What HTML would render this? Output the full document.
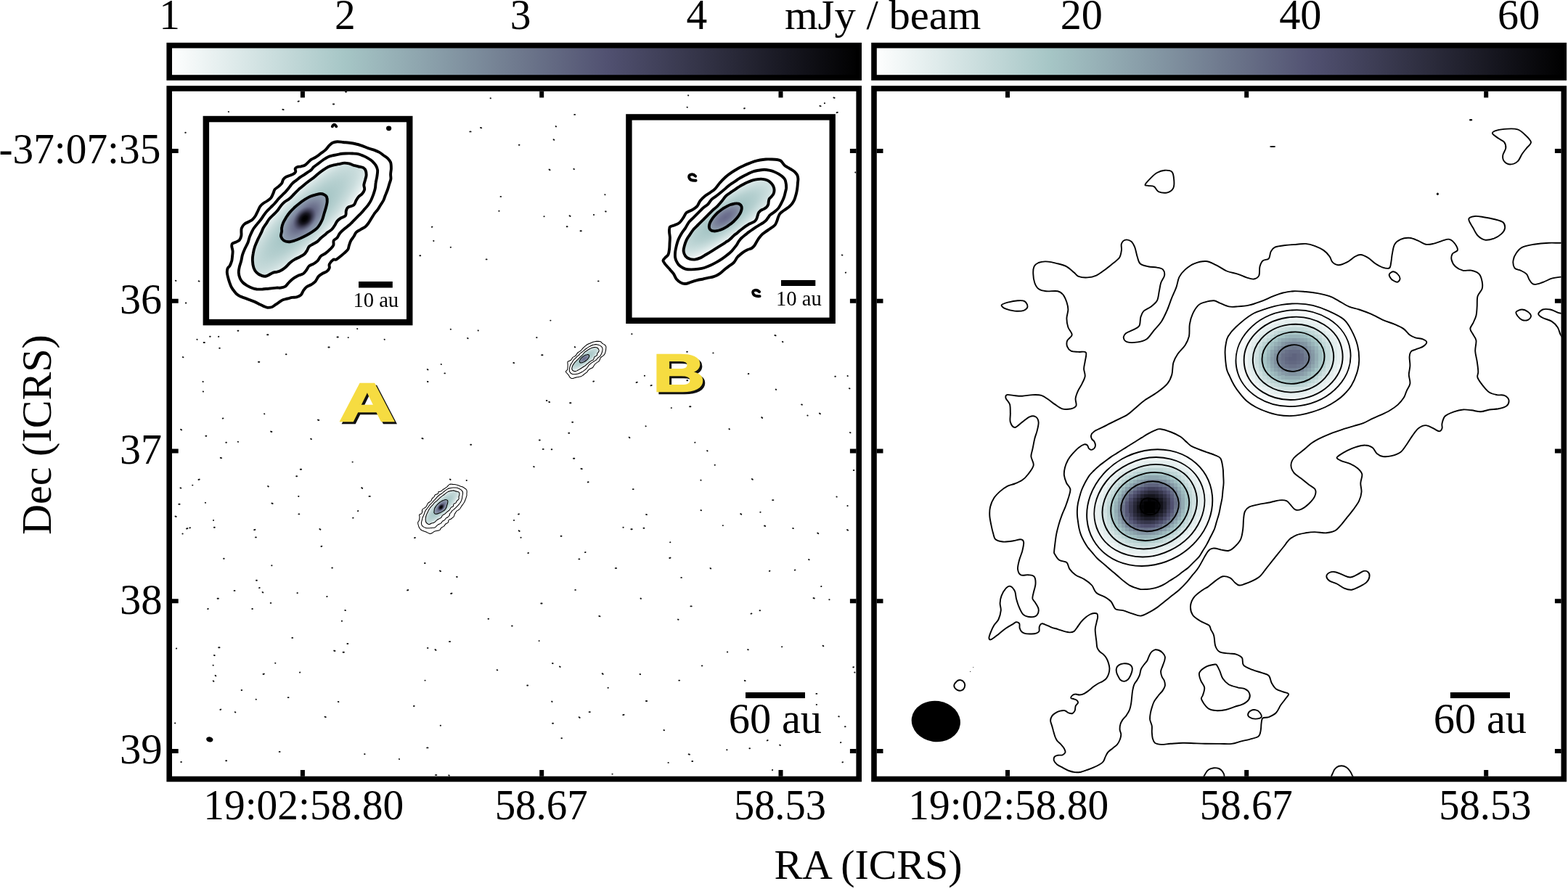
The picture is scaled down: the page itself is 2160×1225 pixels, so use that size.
<!DOCTYPE html>
<html lang="en">
<head>
<meta charset="utf-8">
<title>Figure</title>
<style>
html,body{margin:0;padding:0;background:#fff;overflow:hidden;}
body{width:2160px;height:1225px;}
svg{display:block;}
text{font-family:"Liberation Serif","DejaVu Serif",serif;fill:#000;}
.lab{font-family:"Liberation Sans","DejaVu Sans",sans-serif;font-weight:bold;}
.c{fill:none;stroke:#000;stroke-width:1.9;stroke-linejoin:round;}
.ci{fill:none;stroke:#000;stroke-width:3.1;stroke-linejoin:round;}
.cs{fill:none;stroke:#111;stroke-width:0.95;stroke-linejoin:round;}
</style>
</head>
<body>
<svg width="2160" height="1225" viewBox="0 0 2160 1225">
<defs>
<linearGradient id="bone" x1="0" y1="0" x2="1" y2="0"><stop offset="0.000" stop-color="#ffffff"/><stop offset="0.100" stop-color="#dce9e9"/><stop offset="0.254" stop-color="#a6c6c6"/><stop offset="0.400" stop-color="#869aa6"/><stop offset="0.500" stop-color="#707b8f"/><stop offset="0.635" stop-color="#515171"/><stop offset="0.800" stop-color="#2d2d3e"/><stop offset="0.900" stop-color="#16161f"/><stop offset="1.000" stop-color="#000000"/></linearGradient>
<radialGradient id="gA" gradientUnits="userSpaceOnUse" cx="0" cy="0" r="1" gradientTransform="translate(1583.90,698.00) rotate(-24.0) scale(100.00,84.00)"><stop offset="0.000" stop-color="#000000"/><stop offset="0.036" stop-color="#000000"/><stop offset="0.071" stop-color="#000000"/><stop offset="0.107" stop-color="#040406"/><stop offset="0.143" stop-color="#0d0d12"/><stop offset="0.179" stop-color="#181822"/><stop offset="0.214" stop-color="#262634"/><stop offset="0.250" stop-color="#343449"/><stop offset="0.286" stop-color="#44445e"/><stop offset="0.321" stop-color="#535473"/><stop offset="0.357" stop-color="#636a83"/><stop offset="0.393" stop-color="#737f93"/><stop offset="0.429" stop-color="#8294a2"/><stop offset="0.464" stop-color="#90a8b0"/><stop offset="0.500" stop-color="#9dbabd"/><stop offset="0.536" stop-color="#abc9c9"/><stop offset="0.571" stop-color="#bbd3d3"/><stop offset="0.607" stop-color="#c8dcdc"/><stop offset="0.643" stop-color="#d4e4e4"/><stop offset="0.679" stop-color="#deeaea"/><stop offset="0.714" stop-color="#e5efef"/><stop offset="0.750" stop-color="#ecf3f3"/><stop offset="0.786" stop-color="#f1f6f6"/><stop offset="0.821" stop-color="#f5f9f9"/><stop offset="0.857" stop-color="#f9fbfb"/><stop offset="0.893" stop-color="#fbfdfd"/><stop offset="0.929" stop-color="#fdfefe"/><stop offset="0.964" stop-color="#ffffff"/><stop offset="1.000" stop-color="#ffffff"/></radialGradient>
<radialGradient id="gB" gradientUnits="userSpaceOnUse" cx="0" cy="0" r="1" gradientTransform="translate(1781.40,493.31) rotate(-8.0) scale(100.00,83.00)"><stop offset="0.000" stop-color="#5e637e"/><stop offset="0.036" stop-color="#5f647f"/><stop offset="0.071" stop-color="#616781"/><stop offset="0.107" stop-color="#646b84"/><stop offset="0.143" stop-color="#697289"/><stop offset="0.179" stop-color="#6f7a8f"/><stop offset="0.214" stop-color="#768396"/><stop offset="0.250" stop-color="#7e8f9e"/><stop offset="0.286" stop-color="#889ca8"/><stop offset="0.321" stop-color="#91a9b1"/><stop offset="0.357" stop-color="#9bb6bb"/><stop offset="0.393" stop-color="#a4c3c4"/><stop offset="0.429" stop-color="#b0cdcd"/><stop offset="0.464" stop-color="#bed5d5"/><stop offset="0.500" stop-color="#cadddd"/><stop offset="0.536" stop-color="#d5e4e4"/><stop offset="0.571" stop-color="#deeaea"/><stop offset="0.607" stop-color="#e5efef"/><stop offset="0.643" stop-color="#ebf2f2"/><stop offset="0.679" stop-color="#f0f6f6"/><stop offset="0.714" stop-color="#f5f8f8"/><stop offset="0.750" stop-color="#f8fbfb"/><stop offset="0.786" stop-color="#fbfcfc"/><stop offset="0.821" stop-color="#fdfefe"/><stop offset="0.857" stop-color="#ffffff"/><stop offset="0.893" stop-color="#ffffff"/><stop offset="0.929" stop-color="#ffffff"/><stop offset="0.964" stop-color="#ffffff"/><stop offset="1.000" stop-color="#ffffff"/></radialGradient>
<radialGradient id="giA" gradientUnits="userSpaceOnUse" cx="0" cy="0" r="1" gradientTransform="translate(419.69,301.33) rotate(-45.0) scale(128.80,34.50)"><stop offset="0.000" stop-color="#a3c1c3"/><stop offset="0.350" stop-color="#a8c7c7"/><stop offset="0.550" stop-color="#b6d0d0"/><stop offset="0.750" stop-color="#c9dcdc"/><stop offset="0.900" stop-color="#dce9e9"/><stop offset="1.000" stop-color="#eaf2f2"/><stop offset="1.150" stop-color="#f5f8f8"/></radialGradient>
<radialGradient id="giB" gradientUnits="userSpaceOnUse" cx="0" cy="0" r="1" gradientTransform="translate(999.27,299.27) rotate(-36.0) scale(94.30,27.60)"><stop offset="0.000" stop-color="#a3c1c3"/><stop offset="0.350" stop-color="#a8c7c7"/><stop offset="0.550" stop-color="#b6d0d0"/><stop offset="0.750" stop-color="#cbdede"/><stop offset="0.900" stop-color="#deeaea"/><stop offset="1.000" stop-color="#ecf3f3"/><stop offset="1.150" stop-color="#f5f8f8"/></radialGradient>
<radialGradient id="gcA" gradientUnits="userSpaceOnUse" cx="0" cy="0" r="1" gradientTransform="translate(419.69,301.33) rotate(-48.0) scale(44.10,20.58)"><stop offset="0.000" stop-color="#3c3a52"/><stop offset="0.250" stop-color="#525270"/><stop offset="0.450" stop-color="#686c88"/><stop offset="0.650" stop-color="#7c849c"/><stop offset="0.850" stop-color="#8c9aac"/><stop offset="1.000" stop-color="#98aab6"/></radialGradient>
<radialGradient id="gsA" gradientUnits="userSpaceOnUse" cx="0" cy="0" r="1" gradientTransform="translate(419.69,301.33) rotate(-48) scale(19,13.5)"><stop offset="0" stop-color="#000" stop-opacity="1"/><stop offset="0.22" stop-color="#020203" stop-opacity="0.97"/><stop offset="0.45" stop-color="#0c0b12" stop-opacity="0.8"/><stop offset="0.7" stop-color="#201e2c" stop-opacity="0.42"/><stop offset="1" stop-color="#3c3a52" stop-opacity="0"/></radialGradient>
<radialGradient id="gcB" gradientUnits="userSpaceOnUse" cx="0" cy="0" r="1" gradientTransform="translate(999.27,299.27) rotate(-36.0) scale(27.93,12.60)"><stop offset="0.000" stop-color="#686a8a"/><stop offset="0.300" stop-color="#6e7290"/><stop offset="0.600" stop-color="#7c849c"/><stop offset="0.850" stop-color="#8c9aaa"/><stop offset="1.000" stop-color="#98aeb6"/></radialGradient>
<clipPath id="clipL"><rect x="237" y="125.8" width="942.6" height="944"/></clipPath>
<clipPath id="clipR"><rect x="1207.8" y="125.8" width="942.8" height="944"/></clipPath>
</defs>
<rect x="0" y="0" width="2160" height="1225" fill="#fff"/>
<g id="colorbars">
<rect x="233.2" y="62.6" width="950" height="44.4" fill="url(#bone)" stroke="#000" stroke-width="7.6"/>
<rect x="1204" y="62.6" width="950.3" height="44.4" fill="url(#bone)" stroke="#000" stroke-width="7.6"/>
</g>
<g id="left-content" clip-path="url(#clipL)">
<path d="M327.5 455.7l0.9 0.0M368.1 461.2l1.3 0.0M492.1 453.0l0.2 0.2M620.7 453.7l0.3 0.1M271.4 467.7l0.2 0.2M289.1 463.8l0.6 0.0M301.0 463.9l0.3 -0.1M280.6 472.0l1.3 0.0M302.2 479.8l0.6 0.0M464.5 464.5l1.3 0.0M479.6 465.1l0.3 0.0M529.6 467.7l0.2 0.2M452.4 478.5l1.3 0.0M393.9 488.3l0.6 0.0M251.9 492.1l0.6 0.2M356.0 498.8l1.3 0.0M607.7 501.9l0.2 0.2M588.8 508.9l0.7 0.6M612.4 514.4l0.6 0.0M588.9 525.8l0.6 0.2M279.5 525.8l0.2 0.2M279.8 539.5l0.2 0.2M364.1 570.2l0.2 0.2M306.8 576.6l0.6 -0.2M438.0 578.6l1.2 0.4M249.1 591.7l1.0 0.8M373.1 594.6l1.2 0.4M283.4 600.7l0.9 0.0M311.3 609.8l0.6 0.0M327.8 608.7l0.2 0.2M428.2 604.6l0.7 0.6M581.4 604.0l1.2 0.4M303.8 630.8l1.2 0.4M485.5 636.6l0.3 0.0M413.8 646.7l1.3 0.0M408.2 656.2l0.9 0.0M273.5 661.0l1.2 -0.4M265.1 668.6l0.3 0.0M248.5 672.3l0.8 0.3M369.1 669.9l0.7 0.6M498.2 672.1l1.0 0.8M508.5 683.9l1.3 0.0M411.1 683.9l0.3 0.1M246.3 694.7l1.3 0.0M282.8 692.7l0.3 0.1M374.4 693.5l1.2 0.4M241.5 711.5l1.2 0.4M493.0 704.2l0.3 -0.1M411.4 708.4l0.9 0.0M486.2 713.7l0.3 -0.1M293.9 716.9l0.3 0.0M294.9 726.7l0.9 0.0M261.4 727.4l0.6 -0.2M257.1 728.5l1.2 -0.4M251.4 735.5l0.3 0.0M350.2 730.2l1.2 -0.4M352.0 740.4l0.9 0.0M440.4 728.9l1.0 0.8M571.1 741.2l0.8 -0.3M442.5 753.0l0.8 -0.3M308.1 769.8l0.6 0.0M374.2 779.3l0.3 0.0M457.3 782.5l0.6 0.0M585.0 776.0l0.6 0.0M606.0 786.4l1.0 0.8M629.1 794.8l0.6 0.2M353.0 799.8l0.9 0.0M357.1 810.1l0.6 -0.2M361.6 815.9l0.7 0.6M322.6 813.9l0.9 0.0M409.5 817.2l0.3 -0.1M561.1 813.4l1.2 -0.4M621.2 818.0l1.2 -0.4M450.3 822.1l0.3 -0.1M299.6 824.7l1.3 0.0M372.7 830.9l0.6 0.0M286.2 839.1l0.6 -0.2M347.3 839.0l0.6 0.0M619.9 660.4l0.7 0.6M758.2 441.6l0.3 0.0M658.6 455.3l0.2 0.2M644.1 465.9l0.5 0.4M739.2 465.1l0.3 0.1M870.2 460.2l0.3 0.0M791.7 478.0l0.5 0.4M746.2 489.3l1.3 0.0M707.3 499.9l0.8 0.3M817.3 525.7l0.8 -0.3M887.8 517.7l0.3 0.0M876.6 527.1l1.2 -0.4M896.5 531.3l1.2 -0.4M946.3 524.2l0.9 0.0M752.8 552.0l0.6 0.0M756.3 553.8l0.8 0.3M785.1 555.3l1.3 0.0M924.7 562.1l0.3 0.0M788.2 581.7l0.9 0.0M889.5 587.2l0.2 0.2M783.3 596.7l0.9 0.0M866.7 602.6l0.7 0.6M742.9 606.5l0.9 0.0M648.2 612.7l0.9 0.0M747.8 618.9l0.9 0.0M759.7 619.3l0.6 0.0M790.0 631.7l1.3 0.0M735.2 642.9l0.5 0.4M800.5 645.8l1.2 0.4M642.6 662.0l0.3 0.0M809.8 664.5l0.8 -0.3M871.8 674.1l0.9 0.0M714.1 708.6l0.8 -0.3M890.1 708.9l0.8 0.3M707.9 716.9l0.3 0.0M858.4 726.7l0.3 0.0M869.4 729.3l1.3 0.0M886.5 727.7l0.9 0.0M714.7 731.2l1.0 0.8M717.4 740.8l0.3 -0.1M772.6 738.8l0.9 0.0M923.1 747.3l0.3 -0.1M727.4 762.1l0.6 -0.2M806.0 761.1l0.6 -0.2M797.4 770.4l0.9 0.0M922.3 769.0l1.2 -0.4M847.8 782.9l1.3 0.0M938.3 795.9l0.6 0.0M792.3 812.9l0.6 0.0M882.5 824.5l0.5 0.4M745.3 831.5l1.3 0.0M1067.4 462.0l1.2 0.4M1077.9 470.8l0.5 0.4M946.2 484.7l0.6 0.0M982.3 486.4l0.3 0.0M1030.8 515.2l0.6 -0.2M1150.3 518.7l0.6 0.0M1167.5 518.0l0.3 0.1M1169.9 535.2l0.6 0.2M1068.7 536.5l0.5 0.4M1104.1 557.4l0.8 0.3M950.1 560.2l1.3 0.0M1112.3 572.5l0.3 0.1M1128.9 569.5l1.0 0.8M1049.2 575.1l1.0 0.8M1004.4 591.0l0.5 0.4M1171.0 595.9l0.5 0.4M957.2 609.8l0.3 -0.1M974.1 621.0l0.5 0.4M984.6 640.8l0.3 0.0M1175.8 648.0l0.6 0.0M1035.8 660.0l1.0 0.8M965.4 661.6l0.2 0.2M1152.4 684.5l0.3 0.1M1064.1 689.1l1.3 0.0M1167.4 697.0l0.3 0.0M965.5 703.1l0.6 0.2M1047.3 705.8l0.3 0.0M1020.2 708.0l1.0 0.8M995.7 724.1l0.3 0.0M1053.0 724.5l1.2 0.4M1092.2 727.9l0.6 0.2M1167.1 729.9l1.0 0.8M1126.3 734.4l1.0 0.8M1114.1 770.9l0.5 0.4M978.5 782.9l0.7 0.6M1059.9 786.9l0.6 -0.2M1094.8 785.6l0.6 -0.2M1131.2 808.1l0.3 -0.1M1120.6 824.1l1.2 0.4M1142.3 826.3l0.3 0.0M951.4 835.4l1.3 0.0M475.3 840.9l0.6 0.2M470.8 855.7l0.3 0.0M402.3 878.9l0.9 0.0M478.4 887.0l0.9 0.0M618.9 884.1l1.3 0.0M242.9 893.6l0.3 -0.1M301.2 892.2l1.3 0.0M588.9 892.9l0.6 0.0M599.5 895.1l1.0 0.8M460.2 896.6l1.2 0.4M472.6 898.8l1.3 0.0M294.9 902.9l0.8 0.3M379.1 913.7l0.3 0.1M293.5 916.7l0.3 0.1M362.6 929.0l1.2 -0.4M413.0 926.6l0.3 -0.1M296.6 930.8l0.7 0.6M293.7 938.3l0.7 0.6M585.4 937.6l0.3 0.0M332.6 951.0l0.6 0.0M352.6 963.7l0.3 0.1M396.7 961.1l0.9 0.0M465.8 966.9l0.6 0.2M570.0 973.0l0.6 -0.2M303.4 977.9l0.8 -0.3M323.8 981.2l0.5 0.4M447.5 987.7l1.2 0.4M241.0 996.4l0.3 0.1M606.7 999.7l0.3 0.0M588.2 1030.4l1.3 0.0M384.7 1035.9l0.9 0.0M502.2 1039.1l0.3 0.1M549.9 1045.9l0.2 0.2M249.3 1050.0l0.6 0.0M311.2 1048.3l0.9 0.0M600.0 1067.9l1.3 0.0M618.2 1068.3l0.7 0.6M825.3 848.9l1.2 0.4M672.5 852.7l0.6 0.0M705.1 862.5l0.6 0.0M934.0 853.6l0.6 0.2M742.5 883.1l0.3 0.0M761.0 914.0l0.6 0.2M771.0 918.4l0.7 0.6M684.6 923.2l0.6 0.2M829.7 928.1l1.0 0.8M881.5 929.0l0.6 0.2M935.2 937.6l0.9 0.0M726.2 944.5l0.9 0.0M837.5 947.8l0.3 0.0M760.1 966.5l0.5 0.4M889.9 966.0l1.3 0.0M811.6 981.1l1.3 0.0M858.3 985.2l1.2 -0.4M797.7 988.2l1.0 0.8M761.1 996.7l0.9 0.0M914.5 1006.1l0.6 0.2M773.4 1017.3l0.6 0.0M948.7 1039.3l1.2 0.4M920.5 1050.9l0.3 0.0M843.4 1066.6l0.3 0.0M1034.6 845.7l0.8 -0.3M1046.5 841.3l0.6 0.0M1077.0 891.3l0.3 -0.1M1133.6 889.7l0.7 0.6M1030.2 895.1l0.6 0.2M1001.9 898.5l0.3 -0.1M966.8 917.4l0.6 0.0M1175.3 919.5l0.8 -0.3M1177.2 926.5l0.3 0.1M1025.8 937.8l0.8 0.3M1124.4 955.9l0.9 0.0M1124.7 970.9l0.3 0.1M1155.2 987.2l0.6 0.2M1164.0 1001.3l0.6 0.0M1056.8 1020.4l0.8 -0.3M1158.0 1023.2l0.3 -0.1M1074.2 1026.5l0.7 0.6M1032.4 1031.3l0.6 0.0M1001.2 1033.3l0.3 0.0M953.3 1049.0l0.9 0.0M1160.5 1050.4l0.6 -0.2M1063.9 1061.1l0.3 -0.1M675.6 135.3l0.3 0.1M791.2 157.9l0.9 0.0M946.6 147.7l0.2 0.2M765.6 174.0l0.5 0.4M662.0 175.9l1.2 0.4M647.3 181.4l1.3 0.0M762.6 192.2l0.7 0.6M714.9 199.7l0.6 0.0M756.5 233.5l1.0 0.8M790.4 232.8l0.5 0.4M833.3 268.1l0.2 0.2M689.5 270.9l0.6 0.0M687.3 290.8l0.3 0.0M834.1 291.3l0.6 0.2M749.4 298.3l0.3 -0.1M784.6 297.2l1.0 0.8M817.9 296.0l0.3 0.0M594.8 312.8l0.6 -0.2M780.7 312.3l0.9 0.0M799.5 318.2l1.3 0.0M597.2 331.8l0.2 0.2M620.7 340.8l0.3 -0.1M578.3 352.2l0.9 0.0M669.7 357.4l0.9 0.0M824.0 387.4l0.6 0.0M410.6 139.8l1.2 -0.4M458.9 143.5l1.3 0.0M389.4 150.8l1.2 0.4M314.8 153.9l0.2 0.2M255.2 182.7l0.6 0.0M241.8 386.7l0.6 0.2M273.7 387.3l0.8 0.3M255.8 417.5l0.6 0.0M475.9 126.5l1.3 0.0M1148.4 134.5l1.2 0.4M1135.8 142.2l0.3 0.0M1129.4 145.9l1.2 0.4M1025.1 149.5l0.8 -0.3M1152.6 155.2l1.2 -0.4M948.0 131.3l0.2 0.2M1159.8 351.4l0.6 0.2M1164.8 375.7l0.3 -0.1M1178.2 237.5l0.3 0.1" fill="none" stroke="#111" stroke-width="1.9" stroke-linecap="round"/>
<ellipse cx="0" cy="0" rx="4.7" ry="3.5" transform="translate(288.8,1018.9) rotate(15)" fill="#000"/>
<g transform="translate(607.60,698.80) scale(0.2985) translate(-419.69,-301.33)"><path d="M431.9 245C433.5 243.7 436.3 241.1 438.5 239.3C440.6 237.5 442.8 235.9 445 234.4C447.2 232.9 449.4 231.4 451.5 230.3C453.7 229.2 455.6 228.5 458.1 227.9C460.5 227.2 463.5 226.8 466.2 226.2C468.9 225.7 471.9 224.7 474.4 224.6C476.8 224.5 478.7 224.9 480.9 225.4C483.1 226 485.3 227.2 487.4 227.9C489.6 228.5 491.8 228.9 494 229.5C496.2 230 498.9 230.2 500.5 231.1C502.1 232.1 503.1 233.4 503.8 235.2C504.5 237 504.7 239.6 504.6 241.7C504.5 243.9 503.5 246.1 503 248.3C502.4 250.4 501.5 252.6 501.3 254.8C501.2 257 502.6 259.3 502.1 261.3C501.7 263.4 500.2 265.4 498.9 267C497.5 268.7 495.3 269.6 494 271.1C492.6 272.6 491.8 274.1 490.7 276C489.6 277.9 489.4 280.9 487.4 282.6C485.5 284.2 481.1 284.5 479.3 285.8C477.5 287.2 477.4 288.8 476.8 290.7C476.3 292.6 477.2 295.6 476 297.2C474.8 298.9 471.4 299.3 469.5 300.5C467.6 301.7 466 303 464.6 304.6C463.2 306.2 462.6 308.4 461.3 310.3C460.1 312.2 458.9 314.4 457.2 316C455.6 317.7 453.3 318.7 451.5 320.1C449.8 321.5 448.3 322.8 446.6 324.2C445 325.5 443.3 326.9 441.7 328.3C440.2 329.7 439.3 331.2 437.5 332.6C435.7 334 432.9 335.3 430.9 336.5C429 337.7 427 338.4 425.7 339.8C424.4 341.2 424.2 343.3 423.1 345C422 346.8 420.9 348.7 419.2 350.2C417.4 351.8 414.8 353 412.7 354.2C410.5 355.4 408.3 356.1 406.1 357.4C403.9 358.7 401.8 360.1 399.6 362C397.4 363.9 395.2 366.7 393.1 368.5C390.9 370.4 388.6 372 386.5 373.1C384.5 374.2 382.3 374.5 380.7 374.9C379 375.3 378.8 374.7 376.4 375.6C374.1 376.5 369.4 379.8 366.6 380.5C363.9 381.2 362.3 380.5 360.1 379.7C357.9 378.9 355.3 377.4 353.6 375.6C351.8 373.8 350.4 371.8 349.5 369.1C348.5 366.4 348 362.6 347.9 359.3C347.7 356 348.1 352.8 348.7 349.5C349.2 346.2 350 343 351.1 339.7C352.2 336.4 353.7 333.2 355.2 329.9C356.7 326.6 358.9 322.7 360.1 320.1C361.3 317.5 361.5 316.2 362.6 314.2C363.7 312.1 365.4 309.9 366.9 307.8C368.3 305.7 369.5 303.4 371.1 301.4C372.7 299.5 374.6 297.9 376.4 296.1C378.2 294.4 379.9 292.9 381.7 290.8C383.5 288.7 385.3 285.5 387 283.4C388.8 281.3 390.4 279.7 392.3 278.1C394.3 276.5 396.6 275.6 398.7 273.8C400.8 272.1 402.9 269.6 405.1 267.5C407.2 265.3 409.3 263 411.4 261.1C413.6 259.2 415.7 257.6 417.8 255.8C419.9 254 422.3 252 424.2 250.5C426 249 427.6 247.9 428.9 247C430.2 246.1 430.4 246.3 431.9 245Z" fill="url(#giA)"/><path d="M441.7 267C443.6 267 445.3 267.5 446.6 268.2C448 268.9 449.2 269.5 449.9 271.1C450.6 272.7 450.9 275.2 450.7 277.7C450.6 280.1 449.8 283.1 449.1 285.8C448.4 288.5 447.4 291.3 446.6 294C445.8 296.7 445.1 299.7 444.2 302.1C443.2 304.6 442.1 306.6 440.9 308.7C439.7 310.7 438.6 312.6 436.8 314.4C435.1 316.2 432.8 317.7 430.3 319.3C427.9 320.9 424.9 322.7 422.1 324.2C419.4 325.7 416.7 327 414 328.3C411.3 329.5 408.5 330.7 405.8 331.5C403.1 332.3 400.1 333.2 397.7 333.2C395.2 333.2 392.9 332.8 391.1 331.5C389.4 330.3 387.5 327.9 387 325.8C386.5 323.7 387.9 320.9 388.1 318.9C388.3 317 387.7 316.2 388.1 314.2C388.4 312.1 389.1 309.2 390.2 306.7C391.3 304.3 392.9 301.8 394.4 299.3C396 296.8 397.8 294.2 399.8 291.9C401.7 289.6 404 287.5 406.1 285.5C408.2 283.6 410.2 282 412.5 280.2C414.8 278.4 417.4 276.5 419.9 274.9C422.4 273.3 424.8 271.8 427.3 270.7C429.9 269.5 432.8 268.8 435.2 268.2C437.6 267.6 439.8 267 441.7 267Z" fill="url(#gcA)"/><circle cx="419.69" cy="301.33" r="20" fill="url(#gsA)"/><path d="M435.2 216.4C437.3 215.1 439.6 213.2 441.7 211.5C443.9 209.9 446.4 208.4 448.3 206.6C450.2 204.9 451.5 202.6 453.2 200.9C454.8 199.3 456.2 197.8 458.1 196.8C460 195.9 462.1 195.3 464.6 195.2C467 195.1 470 195.7 472.8 196C475.5 196.3 477.9 196.4 480.9 196.8C483.9 197.2 487.7 197.8 490.7 198.5C493.7 199.1 496.2 200 498.9 200.9C501.6 201.9 504.3 203.2 507 204.2C509.8 205.1 512.6 205.7 515.2 206.6C517.8 207.6 520.4 208.7 522.6 209.9C524.7 211.1 526.4 212.6 528.3 214C530.2 215.3 532.3 216.4 534 218.1C535.6 219.7 537.2 221.5 538.1 223.8C538.9 226.1 538.9 229.2 538.9 231.9C538.9 234.7 538.1 237.7 538.1 240.1C538 242.6 538.7 244.5 538.4 246.6C538.1 248.8 537.2 250.7 536.4 253.2C535.7 255.6 534.9 258.6 534 261.3C533 264 531.7 267 530.7 269.5C529.8 271.9 529.4 273.8 528.3 276C527.2 278.2 525.5 280.4 524.2 282.6C522.8 284.7 521.5 287.2 520.1 289.1C518.7 291 517.4 292.1 516 294C514.7 295.9 513.3 298.3 511.9 300.5C510.6 302.7 509.2 305.1 507.9 307C506.5 308.9 505.5 310.4 503.8 311.9C502 313.4 499.4 314.7 497.2 316C495.1 317.4 492.3 318.5 490.7 320.1C489.1 321.7 488.7 323.9 487.4 325.8C486.2 327.7 484.5 329.5 483.4 331.5C482.3 333.6 481.6 336 480.9 338.1C480.2 340.1 480.4 342 479.3 343.8C478.2 345.5 476 347.2 474.4 348.7C472.8 350.2 471.4 351.3 469.5 352.8C467.6 354.3 464.7 356.8 463 357.7C461.2 358.5 460.5 356.7 459 357.8C457.5 358.8 454.7 362.1 453.8 364C452.9 365.9 454.3 367.6 453.8 369.2C453.3 370.8 452.2 372.4 450.5 373.8C448.9 375.1 446 375.8 444 377C442 378.2 440.4 379.1 438.8 380.9C437.1 382.8 435.8 386.3 434.2 388.1C432.6 390 430.9 390.8 429 392C427 393.2 424.3 393.9 422.4 395.3C420.6 396.7 419.2 398.7 417.9 400.5C416.6 402.4 416.1 404.9 414.6 406.4C413.1 407.9 410.7 408.8 408.7 409.3C406.7 409.9 404.7 409.5 402.6 409.9C400.4 410.3 398.2 411 396 411.5C393.8 412.1 391.4 412.3 389.5 413.2C387.6 414 386.2 415.3 384.6 416.4C383 417.5 381.3 418.6 379.7 419.7C378.1 420.8 376.7 422.3 374.8 423C372.9 423.6 370.2 423.9 368.3 423.8C366.4 423.6 365.3 423 363.4 422.1C361.5 421.3 359 420 356.8 418.9C354.7 417.8 352.5 416.6 350.3 415.6C348.1 414.7 346 414 343.8 413.2C341.6 412.3 339.4 411.5 337.2 410.7C335.1 409.9 332.6 409.2 330.7 408.3C328.8 407.3 327.3 406.4 325.8 405C324.3 403.6 323 401.7 321.7 400.1C320.5 398.5 319.4 397.1 318.5 395.2C317.5 393.3 316.8 390.9 316 388.7C315.3 386.5 314.6 384.3 314.1 382.1C313.5 380 312.8 377.7 312.8 375.6C312.7 373.6 312.9 371.5 313.6 369.9C314.3 368.3 315.9 367.6 316.8 365.8C317.8 364 318.7 361.5 319.3 359.3C319.8 357.1 319.9 354.9 320.1 352.8C320.3 350.6 320.7 348.4 320.6 346.2C320.5 344 319.4 341.5 319.3 339.7C319.2 337.9 319 336.7 320.1 335.6C321.2 334.5 324.2 334 325.8 333.2C327.4 332.3 328.8 332.1 329.9 330.7C331 329.4 331.9 327 332.3 325C332.8 323 332.3 320.7 332.4 318.9C332.5 317.1 332.2 315.8 332.9 314.2C333.6 312.5 335 310.3 336.6 308.9C338.2 307.4 340.6 306.7 342.4 305.7C344.3 304.6 346.2 303.9 347.8 302.5C349.3 301.1 350.8 299.1 352 297.2C353.2 295.2 354.1 292.9 355.2 290.8C356.2 288.7 357.1 286.2 358.4 284.4C359.6 282.7 361 281.4 362.6 280.2C364.2 279 366.1 278.3 367.9 277C369.7 275.8 371.8 274.5 373.2 272.8C374.6 271 375.5 268.4 376.4 266.4C377.3 264.5 377.3 262.7 378.5 261.1C379.8 259.5 382.2 258.3 383.8 256.9C385.4 255.4 387 254.2 388.1 252.6C389.1 251 389.3 248.7 390.2 247.3C391.1 245.9 392 245 393.4 244.1C394.8 243.2 396.9 242.7 398.7 242C400.5 241.3 402.6 240.8 404 239.9C405.4 239 406.7 237.9 407.2 236.7C407.6 235.5 406.3 233.5 406.7 232.4C407 231.4 408 230.9 409.3 230.3C410.6 229.8 412.8 229.7 414.6 229.3C416.4 228.8 418.3 228.6 419.9 227.7C421.5 226.8 422.7 225.3 424.2 224C425.7 222.6 427.1 221 428.9 219.7C430.8 218.5 433.1 217.8 435.2 216.4Z" fill="none" stroke="#000" stroke-width="3.52" stroke-linejoin="round"/><path d="M431.9 230.3C433.5 228.9 436.3 227 438.5 225.4C440.6 223.8 442.8 222 445 220.5C447.2 219 449.1 217.5 451.5 216.4C454 215.3 457 214.7 459.7 214C462.4 213.3 465.1 212.8 467.9 212.3C470.6 211.9 473 211.7 476 211.5C479 211.4 482.8 211.4 485.8 211.5C488.8 211.7 491.5 211.8 494 212.3C496.4 212.9 498.3 213.8 500.5 214.8C502.7 215.7 505 216.8 507 218.1C509.1 219.3 511 220.5 512.8 222.1C514.5 223.8 516.4 225.8 517.7 227.9C518.9 229.9 519.8 231.8 520.1 234.4C520.4 237 519.7 240.5 519.3 243.4C518.9 246.2 518.1 248.8 517.7 251.5C517.2 254.3 517.4 257 516.8 259.7C516.3 262.4 515.3 265.1 514.4 267.9C513.4 270.6 512.3 273.6 511.1 276C509.9 278.5 508.5 280.5 507 282.6C505.5 284.6 503.8 286.4 502.1 288.3C500.5 290.2 498.9 292.2 497.2 294C495.6 295.7 494 297.2 492.3 298.9C490.7 300.5 489.1 302.1 487.4 303.8C485.8 305.4 484.2 307.2 482.6 308.7C480.9 310.2 479.3 311.4 477.7 312.8C476 314.1 474.4 315.3 472.8 316.8C471.1 318.3 469.2 320 467.9 321.7C466.5 323.5 466 325.8 464.6 327.4C463.2 329.1 460.6 329.8 459.7 331.5C458.8 333.3 460.1 335.9 459.3 337.8C458.6 339.8 456.9 341.2 455.1 343.1C453.3 344.9 450.7 347.3 448.6 348.9C446.4 350.6 443.9 351.1 442 352.9C440.2 354.6 439.1 357.6 437.5 359.4C435.8 361.1 434.2 362.1 432.2 363.3C430.3 364.5 427.3 365.2 425.7 366.6C424.1 368 423.8 370.1 422.4 371.8C421.1 373.5 419.7 375.7 417.9 377C416 378.3 413.6 378.5 411.3 379.6C409.1 380.7 406.3 382 404.2 383.6C402 385.1 400.1 386.9 398.3 388.8C396.4 390.6 395 393.3 393.1 394.7C391.1 396 388.6 396.3 386.5 396.6C384.5 396.9 383.4 396.4 380.7 396.6C377.9 396.8 373.1 397.3 369.9 397.7C366.7 398 364.5 398.3 361.7 398.5C359 398.6 356 398.7 353.6 398.5C351.1 398.2 349.2 397.7 347 396.8C344.9 396 342.6 394.8 340.5 393.6C338.5 392.3 336.4 391.1 334.8 389.5C333.2 387.9 331.7 386.1 330.7 383.8C329.7 381.5 328.9 378.3 328.8 375.6C328.6 372.9 329.3 370.2 329.9 367.4C330.5 364.7 331.7 362 332.3 359.3C333 356.6 333.2 353.8 334 351.1C334.8 348.4 336 345.7 337.2 343C338.5 340.2 340.2 337.5 341.3 334.8C342.4 332.1 342.8 329.3 343.8 326.6C344.8 324 346.2 321 347.2 318.9C348.2 316.9 348.7 315.8 349.9 314.2C351 312.5 352.5 310.8 354.1 308.9C355.7 306.9 357.8 304.6 359.4 302.5C361 300.4 362.3 298.1 363.7 296.1C365.1 294.2 366.3 292.6 367.9 290.8C369.5 289 371.5 287.3 373.2 285.5C375 283.7 376.8 282.1 378.5 280.2C380.3 278.3 382.1 275.8 383.8 273.8C385.6 271.9 387.4 270.3 389.1 268.5C390.9 266.8 392.9 265 394.4 263.2C396 261.5 397.3 259.7 398.7 257.9C400.1 256.1 401.3 254.2 402.9 252.6C404.5 251 406.5 249.8 408.2 248.4C410 247 411.8 245.4 413.6 244.1C415.3 242.9 417.1 242.1 418.9 240.9C420.6 239.8 422.5 238.4 424.2 237.2C425.8 236.1 427.6 235.2 428.9 234C430.2 232.9 430.4 231.7 431.9 230.3Z" fill="none" stroke="#000" stroke-width="3.52" stroke-linejoin="round"/><path d="M431.9 245C433.5 243.7 436.3 241.1 438.5 239.3C440.6 237.5 442.8 235.9 445 234.4C447.2 232.9 449.4 231.4 451.5 230.3C453.7 229.2 455.6 228.5 458.1 227.9C460.5 227.2 463.5 226.8 466.2 226.2C468.9 225.7 471.9 224.7 474.4 224.6C476.8 224.5 478.7 224.9 480.9 225.4C483.1 226 485.3 227.2 487.4 227.9C489.6 228.5 491.8 228.9 494 229.5C496.2 230 498.9 230.2 500.5 231.1C502.1 232.1 503.1 233.4 503.8 235.2C504.5 237 504.7 239.6 504.6 241.7C504.5 243.9 503.5 246.1 503 248.3C502.4 250.4 501.5 252.6 501.3 254.8C501.2 257 502.6 259.3 502.1 261.3C501.7 263.4 500.2 265.4 498.9 267C497.5 268.7 495.3 269.6 494 271.1C492.6 272.6 491.8 274.1 490.7 276C489.6 277.9 489.4 280.9 487.4 282.6C485.5 284.2 481.1 284.5 479.3 285.8C477.5 287.2 477.4 288.8 476.8 290.7C476.3 292.6 477.2 295.6 476 297.2C474.8 298.9 471.4 299.3 469.5 300.5C467.6 301.7 466 303 464.6 304.6C463.2 306.2 462.6 308.4 461.3 310.3C460.1 312.2 458.9 314.4 457.2 316C455.6 317.7 453.3 318.7 451.5 320.1C449.8 321.5 448.3 322.8 446.6 324.2C445 325.5 443.3 326.9 441.7 328.3C440.2 329.7 439.3 331.2 437.5 332.6C435.7 334 432.9 335.3 430.9 336.5C429 337.7 427 338.4 425.7 339.8C424.4 341.2 424.2 343.3 423.1 345C422 346.8 420.9 348.7 419.2 350.2C417.4 351.8 414.8 353 412.7 354.2C410.5 355.4 408.3 356.1 406.1 357.4C403.9 358.7 401.8 360.1 399.6 362C397.4 363.9 395.2 366.7 393.1 368.5C390.9 370.4 388.6 372 386.5 373.1C384.5 374.2 382.3 374.5 380.7 374.9C379 375.3 378.8 374.7 376.4 375.6C374.1 376.5 369.4 379.8 366.6 380.5C363.9 381.2 362.3 380.5 360.1 379.7C357.9 378.9 355.3 377.4 353.6 375.6C351.8 373.8 350.4 371.8 349.5 369.1C348.5 366.4 348 362.6 347.9 359.3C347.7 356 348.1 352.8 348.7 349.5C349.2 346.2 350 343 351.1 339.7C352.2 336.4 353.7 333.2 355.2 329.9C356.7 326.6 358.9 322.7 360.1 320.1C361.3 317.5 361.5 316.2 362.6 314.2C363.7 312.1 365.4 309.9 366.9 307.8C368.3 305.7 369.5 303.4 371.1 301.4C372.7 299.5 374.6 297.9 376.4 296.1C378.2 294.4 379.9 292.9 381.7 290.8C383.5 288.7 385.3 285.5 387 283.4C388.8 281.3 390.4 279.7 392.3 278.1C394.3 276.5 396.6 275.6 398.7 273.8C400.8 272.1 402.9 269.6 405.1 267.5C407.2 265.3 409.3 263 411.4 261.1C413.6 259.2 415.7 257.6 417.8 255.8C419.9 254 422.3 252 424.2 250.5C426 249 427.6 247.9 428.9 247C430.2 246.1 430.4 246.3 431.9 245Z" fill="none" stroke="#000" stroke-width="3.52" stroke-linejoin="round"/><path d="M441.7 267C443.6 267 445.3 267.5 446.6 268.2C448 268.9 449.2 269.5 449.9 271.1C450.6 272.7 450.9 275.2 450.7 277.7C450.6 280.1 449.8 283.1 449.1 285.8C448.4 288.5 447.4 291.3 446.6 294C445.8 296.7 445.1 299.7 444.2 302.1C443.2 304.6 442.1 306.6 440.9 308.7C439.7 310.7 438.6 312.6 436.8 314.4C435.1 316.2 432.8 317.7 430.3 319.3C427.9 320.9 424.9 322.7 422.1 324.2C419.4 325.7 416.7 327 414 328.3C411.3 329.5 408.5 330.7 405.8 331.5C403.1 332.3 400.1 333.2 397.7 333.2C395.2 333.2 392.9 332.8 391.1 331.5C389.4 330.3 387.5 327.9 387 325.8C386.5 323.7 387.9 320.9 388.1 318.9C388.3 317 387.7 316.2 388.1 314.2C388.4 312.1 389.1 309.2 390.2 306.7C391.3 304.3 392.9 301.8 394.4 299.3C396 296.8 397.8 294.2 399.8 291.9C401.7 289.6 404 287.5 406.1 285.5C408.2 283.6 410.2 282 412.5 280.2C414.8 278.4 417.4 276.5 419.9 274.9C422.4 273.3 424.8 271.8 427.3 270.7C429.9 269.5 432.8 268.8 435.2 268.2C437.6 267.6 439.8 267 441.7 267Z" fill="none" stroke="#000" stroke-width="3.52" stroke-linejoin="round"/></g>
<g transform="translate(805.00,494.20) scale(0.2985) translate(-999.27,-299.27)"><path d="M1000 270C1001.9 268.1 1003.9 266.9 1005.9 265.6C1007.8 264.2 1009.8 262.9 1011.8 261.6C1013.7 260.3 1015.7 258.9 1017.6 257.7C1019.6 256.5 1021.6 255.3 1023.5 254.3C1025.5 253.2 1027.4 252.2 1029.4 251.3C1031.3 250.4 1033.3 249.6 1035.3 248.9C1037.2 248.2 1039 247.8 1041.1 247.4C1043.3 247.1 1045.9 246.6 1048 246.6C1050.1 246.6 1052.1 247 1053.9 247.4C1055.7 247.9 1057.3 248.5 1058.8 249.4C1060.2 250.3 1061.6 251.5 1062.7 252.8C1063.8 254.1 1065 255.7 1065.6 257.2C1066.3 258.8 1066.6 260.5 1066.6 262.1C1066.6 263.8 1066.3 265.6 1065.6 267C1065 268.5 1063.7 269.8 1062.7 270.9C1061.7 272.1 1060.4 272.7 1059.8 273.9C1059.1 275 1059 276.5 1058.8 277.8C1058.5 279.1 1058.8 280.4 1058.3 281.7C1057.8 283 1056.9 284.6 1055.8 285.6C1054.8 286.7 1053.2 287.3 1051.9 288.1C1050.6 288.8 1049.1 289.2 1048 290C1046.9 290.9 1045.8 291.8 1045.1 293C1044.3 294.2 1044.1 295.9 1043.6 297.4C1043.1 298.9 1042.9 300.5 1042.1 301.8C1041.4 303.1 1040.3 304.3 1039.2 305.2C1038 306.1 1036.6 306.5 1035.3 307.2C1034 307.8 1032.7 308.4 1031.3 309.1C1030 309.9 1028.7 310.7 1027.4 311.6C1026.1 312.5 1024.8 313.6 1023.5 314.5C1022.2 315.5 1020.9 316.4 1019.6 317.5C1018.3 318.5 1017 319.8 1015.7 320.9C1014.4 322 1013.1 322.7 1011.8 323.8C1010.4 325 1009.1 326.5 1007.8 327.8C1006.5 329 1005.2 330.2 1003.9 331.2C1002.6 332.2 1001.5 332.6 1000 333.6C998.5 334.6 996.7 335.9 994.7 337.1C992.7 338.4 990.3 339.9 988.2 341.2C986 342.6 984.1 343.8 981.6 345.3C979.2 346.8 976.2 348.6 973.5 350.2C970.7 351.8 968 353.9 965.3 355.1C962.6 356.3 959.7 357.3 957.1 357.6C954.6 357.8 952 357.6 949.8 356.7C947.6 355.9 945.4 354.4 944.1 352.7C942.7 350.9 941.9 348.4 941.6 346.1C941.4 343.8 942.1 341.4 942.8 338.8C943.5 336.2 944.5 333.1 945.7 330.6C946.9 328.2 948.2 326.5 949.8 324.1C951.4 321.6 953.5 318.4 955.5 315.9C957.6 313.5 959.9 311.6 962 309.4C964.2 307.2 966.4 305 968.6 302.9C970.7 300.7 972.9 298.5 975.1 296.3C977.3 294.1 979.5 291.8 981.6 289.8C983.8 287.8 986 286.3 988.2 284.1C990.3 281.9 992.7 279.1 994.7 276.7C996.7 274.4 998.1 271.8 1000 270Z" fill="url(#giB)"/><path d="M1020.6 282.8C1021.1 283.5 1021.5 284.3 1021.6 285.2C1021.8 286.2 1021.8 287.3 1021.6 288.4C1021.4 289.6 1021 290.8 1020.4 292.2C1019.9 293.5 1019.1 294.9 1018.2 296.2C1017.3 297.6 1016.2 299.1 1015 300.5C1013.8 301.9 1012.5 303.3 1011.1 304.7C1009.6 306 1008.1 307.4 1006.5 308.6C1004.9 309.9 1003.2 311 1001.6 312.1C999.9 313.1 998.2 314.1 996.6 314.9C994.9 315.7 993.2 316.4 991.7 317C990.1 317.5 988.6 317.9 987.2 318.1C985.8 318.4 984.4 318.5 983.3 318.4C982.1 318.3 981 318.1 980.2 317.7C979.3 317.3 978.6 316.7 978 316C977.5 315.3 977.1 314.5 977 313.6C976.8 312.6 976.8 311.5 977 310.4C977.2 309.2 977.6 308 978.2 306.6C978.7 305.3 979.5 303.9 980.4 302.6C981.3 301.2 982.4 299.7 983.6 298.3C984.8 296.9 986.1 295.5 987.5 294.1C989 292.8 990.5 291.4 992.1 290.2C993.7 288.9 995.4 287.8 997 286.7C998.7 285.7 1000.4 284.7 1002 283.9C1003.7 283.1 1005.4 282.4 1006.9 281.8C1008.5 281.3 1010 280.9 1011.4 280.7C1012.8 280.4 1014.2 280.3 1015.3 280.4C1016.5 280.5 1017.6 280.7 1018.4 281.1C1019.3 281.5 1020 282.1 1020.6 282.8Z" fill="url(#gcB)"/><path d="M1000 243.5C1002.7 241.1 1005.2 239.4 1007.8 237.6C1010.4 235.8 1013.1 234.2 1015.7 232.7C1018.3 231.3 1020.9 230 1023.5 228.8C1026.1 227.6 1028.7 226.4 1031.3 225.4C1034 224.3 1036.6 223.3 1039.2 222.4C1041.8 221.6 1044.4 221 1047 220.5C1049.6 220 1052.2 219.7 1054.9 219.5C1057.5 219.3 1060.1 219.4 1062.7 219.5C1065.3 219.6 1068.4 219.7 1070.5 220C1072.7 220.3 1074.1 220.7 1075.4 221.5C1076.7 222.3 1077.4 223.8 1078.4 224.9C1079.3 226 1080 227.3 1081.3 228.3C1082.6 229.4 1084.6 230.3 1086.2 231.3C1087.8 232.2 1089.6 233.1 1091.1 234.2C1092.7 235.3 1094.3 236.4 1095.5 237.6C1096.7 238.9 1097.8 240.1 1098.4 241.6C1099.1 243 1099.3 244.7 1099.4 246.4C1099.5 248.2 1099.1 250.4 1098.9 252.3C1098.8 254.3 1098.7 256.2 1098.4 258.2C1098.2 260.2 1097.9 262.1 1097.5 264.1C1097.1 266 1096.6 268 1096 270C1095.4 271.9 1094.9 274 1094 275.8C1093.2 277.6 1092.2 279.3 1091.1 280.7C1090 282.2 1088.5 283.5 1087.2 284.7C1085.9 285.8 1084.7 286.5 1083.3 287.6C1081.8 288.7 1079.8 289.9 1078.4 291C1076.9 292.2 1075.5 293.1 1074.4 294.4C1073.4 295.8 1072.7 297.6 1072 299.3C1071.3 301.1 1070.8 303.4 1070 305.2C1069.3 307 1068.7 308.8 1067.6 310.1C1066.5 311.4 1065.1 312 1063.7 313.1C1062.2 314.1 1060.4 315.3 1058.8 316.5C1057.1 317.6 1055.5 318.7 1053.9 319.9C1052.2 321.1 1050.4 322.4 1049 323.8C1047.5 325.3 1046.2 327.1 1045.1 328.7C1043.9 330.4 1043.1 332 1042.1 333.6C1041.1 335.3 1040.3 337.1 1039.2 338.5C1038.1 339.9 1037.2 341 1035.5 342C1033.8 343 1031.2 343.4 1029 344.5C1026.8 345.6 1024.6 346.9 1022.4 348.6C1020.3 350.2 1017.8 352.1 1015.9 354.3C1014 356.5 1012.9 359.6 1011 361.6C1009.1 363.7 1006.7 364.9 1004.5 366.5C1002.3 368.2 1000.1 369.7 998 371.4C995.8 373.2 993.9 375.5 991.4 377.1C989 378.8 986 380.3 983.3 381.2C980.5 382.2 977.6 382.3 975.1 382.9C972.7 383.4 971 383.9 968.6 384.5C966.1 385 963.1 385.4 960.4 386.1C957.7 386.8 955 387.8 952.2 388.6C949.5 389.4 946.5 390.9 944.1 391C941.6 391.2 939.6 390.5 937.6 389.4C935.5 388.3 933.5 386.5 931.8 384.5C930.2 382.4 929.3 379.3 927.8 377.1C926.3 375 924.6 373.5 922.9 371.4C921.1 369.4 918.7 366.9 917.1 364.9C915.6 362.9 913.5 360.8 913.4 359.2C913.3 357.6 915.2 356.5 916.3 355.1C917.5 353.7 919.5 352.9 920.4 351C921.4 349.1 921.7 346.3 922 343.7C922.4 341.1 922.4 338.2 922.5 335.5C922.7 332.8 922.9 330.1 922.9 327.3C922.8 324.6 922 321.6 922 319.2C922 316.7 921.6 314.1 922.9 312.7C924.1 311.2 927.2 311.2 929.4 310.2C931.6 309.3 933.9 308.7 935.9 306.9C938 305.2 940 301.9 941.6 299.6C943.3 297.3 943.7 294.8 945.7 293.1C947.8 291.3 951.4 290.5 953.9 289C956.3 287.5 958.6 286.1 960.4 284.1C962.2 282 962.7 279 964.5 276.7C966.3 274.4 968.7 272.1 971 270.2C973.3 268.3 976.1 266.9 978.4 265.3C980.7 263.7 982.7 262.6 984.9 260.4C987.1 258.2 988.9 255.1 991.4 252.2C993.9 249.4 997.3 245.9 1000 243.5Z" fill="none" stroke="#000" stroke-width="3.52" stroke-linejoin="round"/><path d="M1000 259.2C1001.9 257.6 1003.9 255.8 1005.9 254.3C1007.8 252.8 1009.8 251.7 1011.8 250.4C1013.7 249.1 1015.5 247.8 1017.6 246.4C1019.8 245.1 1022.2 243.8 1024.5 242.5C1026.8 241.3 1029.1 240.2 1031.3 239.1C1033.6 238 1035.9 236.9 1038.2 236.2C1040.5 235.4 1042.6 235.1 1045.1 234.7C1047.5 234.3 1050.4 233.7 1052.9 233.7C1055.3 233.7 1057.5 234.2 1059.8 234.7C1062 235.2 1064.5 235.8 1066.6 236.7C1068.7 237.5 1070.7 238.5 1072.5 239.6C1074.3 240.7 1075.9 241.7 1077.4 243C1078.9 244.3 1080.4 245.7 1081.3 247.4C1082.2 249.1 1082.5 251.3 1082.8 253.3C1083.1 255.3 1083.2 257.2 1083.1 259.2C1082.9 261.1 1082.3 263.1 1081.8 265.1C1081.3 267 1081 269 1080.3 270.9C1079.7 272.9 1078.7 275 1077.9 276.8C1077.1 278.6 1076.3 280.1 1075.4 281.7C1074.5 283.3 1073.6 285.1 1072.5 286.6C1071.3 288.1 1069.9 289.4 1068.6 290.5C1067.3 291.7 1066 292.5 1064.7 293.5C1063.3 294.4 1061.9 295.3 1060.7 296.4C1059.6 297.6 1058.8 299 1057.8 300.3C1056.8 301.6 1056 303.1 1054.9 304.2C1053.7 305.4 1052.4 306.2 1050.9 307.2C1049.5 308.2 1047.7 309.1 1046 310.1C1044.4 311.1 1042.8 312 1041.1 313.1C1039.5 314.1 1037.9 315.3 1036.2 316.5C1034.6 317.6 1033 318.7 1031.3 319.9C1029.7 321.1 1028.1 322.5 1026.4 323.8C1024.8 325.1 1023 326.3 1021.6 327.8C1020.1 329.2 1018.8 331 1017.6 332.7C1016.5 334.3 1016.3 335.3 1014.7 337.6C1013 339.8 1010 343.7 1007.8 346.1C1005.5 348.5 1003.4 350.1 1001.2 351.8C999 353.6 997.1 355.1 994.7 356.7C992.2 358.4 989.3 360.1 986.5 361.6C983.8 363.1 981.1 364.5 978.4 365.7C975.6 366.9 972.9 368.2 970.2 369C967.5 369.8 965 370.2 962 370.6C959 371 955.2 371.4 952.2 371.4C949.3 371.4 946.7 371.4 944.1 370.6C941.5 369.8 938.6 368 936.7 366.5C934.8 365 933.7 363.5 932.7 361.6C931.6 359.7 930.6 357.6 930.2 355.1C929.8 352.7 929.9 349.7 930.2 346.9C930.5 344.2 931.2 341.5 931.8 338.8C932.5 336.1 933.2 333.3 934.3 330.6C935.4 327.9 936.7 325.2 938.4 322.4C940 319.7 942.3 317 944.1 314.3C945.9 311.6 947.1 308.6 949 306.1C950.9 303.7 953.3 301.8 955.5 299.6C957.7 297.4 959.9 295.2 962 293.1C964.2 290.9 966.4 288.4 968.6 286.5C970.7 284.6 973.2 283.5 975.1 281.6C977 279.7 978.1 277 980 275.1C981.9 273.2 984.1 272.1 986.5 270.2C989 268.3 992.4 265.5 994.7 263.7C996.9 261.8 998.1 260.7 1000 259.2Z" fill="none" stroke="#000" stroke-width="3.52" stroke-linejoin="round"/><path d="M1000 270C1001.9 268.1 1003.9 266.9 1005.9 265.6C1007.8 264.2 1009.8 262.9 1011.8 261.6C1013.7 260.3 1015.7 258.9 1017.6 257.7C1019.6 256.5 1021.6 255.3 1023.5 254.3C1025.5 253.2 1027.4 252.2 1029.4 251.3C1031.3 250.4 1033.3 249.6 1035.3 248.9C1037.2 248.2 1039 247.8 1041.1 247.4C1043.3 247.1 1045.9 246.6 1048 246.6C1050.1 246.6 1052.1 247 1053.9 247.4C1055.7 247.9 1057.3 248.5 1058.8 249.4C1060.2 250.3 1061.6 251.5 1062.7 252.8C1063.8 254.1 1065 255.7 1065.6 257.2C1066.3 258.8 1066.6 260.5 1066.6 262.1C1066.6 263.8 1066.3 265.6 1065.6 267C1065 268.5 1063.7 269.8 1062.7 270.9C1061.7 272.1 1060.4 272.7 1059.8 273.9C1059.1 275 1059 276.5 1058.8 277.8C1058.5 279.1 1058.8 280.4 1058.3 281.7C1057.8 283 1056.9 284.6 1055.8 285.6C1054.8 286.7 1053.2 287.3 1051.9 288.1C1050.6 288.8 1049.1 289.2 1048 290C1046.9 290.9 1045.8 291.8 1045.1 293C1044.3 294.2 1044.1 295.9 1043.6 297.4C1043.1 298.9 1042.9 300.5 1042.1 301.8C1041.4 303.1 1040.3 304.3 1039.2 305.2C1038 306.1 1036.6 306.5 1035.3 307.2C1034 307.8 1032.7 308.4 1031.3 309.1C1030 309.9 1028.7 310.7 1027.4 311.6C1026.1 312.5 1024.8 313.6 1023.5 314.5C1022.2 315.5 1020.9 316.4 1019.6 317.5C1018.3 318.5 1017 319.8 1015.7 320.9C1014.4 322 1013.1 322.7 1011.8 323.8C1010.4 325 1009.1 326.5 1007.8 327.8C1006.5 329 1005.2 330.2 1003.9 331.2C1002.6 332.2 1001.5 332.6 1000 333.6C998.5 334.6 996.7 335.9 994.7 337.1C992.7 338.4 990.3 339.9 988.2 341.2C986 342.6 984.1 343.8 981.6 345.3C979.2 346.8 976.2 348.6 973.5 350.2C970.7 351.8 968 353.9 965.3 355.1C962.6 356.3 959.7 357.3 957.1 357.6C954.6 357.8 952 357.6 949.8 356.7C947.6 355.9 945.4 354.4 944.1 352.7C942.7 350.9 941.9 348.4 941.6 346.1C941.4 343.8 942.1 341.4 942.8 338.8C943.5 336.2 944.5 333.1 945.7 330.6C946.9 328.2 948.2 326.5 949.8 324.1C951.4 321.6 953.5 318.4 955.5 315.9C957.6 313.5 959.9 311.6 962 309.4C964.2 307.2 966.4 305 968.6 302.9C970.7 300.7 972.9 298.5 975.1 296.3C977.3 294.1 979.5 291.8 981.6 289.8C983.8 287.8 986 286.3 988.2 284.1C990.3 281.9 992.7 279.1 994.7 276.7C996.7 274.4 998.1 271.8 1000 270Z" fill="none" stroke="#000" stroke-width="3.52" stroke-linejoin="round"/><path d="M1020.6 282.8C1021.1 283.5 1021.5 284.3 1021.6 285.2C1021.8 286.2 1021.8 287.3 1021.6 288.4C1021.4 289.6 1021 290.8 1020.4 292.2C1019.9 293.5 1019.1 294.9 1018.2 296.2C1017.3 297.6 1016.2 299.1 1015 300.5C1013.8 301.9 1012.5 303.3 1011.1 304.7C1009.6 306 1008.1 307.4 1006.5 308.6C1004.9 309.9 1003.2 311 1001.6 312.1C999.9 313.1 998.2 314.1 996.6 314.9C994.9 315.7 993.2 316.4 991.7 317C990.1 317.5 988.6 317.9 987.2 318.1C985.8 318.4 984.4 318.5 983.3 318.4C982.1 318.3 981 318.1 980.2 317.7C979.3 317.3 978.6 316.7 978 316C977.5 315.3 977.1 314.5 977 313.6C976.8 312.6 976.8 311.5 977 310.4C977.2 309.2 977.6 308 978.2 306.6C978.7 305.3 979.5 303.9 980.4 302.6C981.3 301.2 982.4 299.7 983.6 298.3C984.8 296.9 986.1 295.5 987.5 294.1C989 292.8 990.5 291.4 992.1 290.2C993.7 288.9 995.4 287.8 997 286.7C998.7 285.7 1000.4 284.7 1002 283.9C1003.7 283.1 1005.4 282.4 1006.9 281.8C1008.5 281.3 1010 280.9 1011.4 280.7C1012.8 280.4 1014.2 280.3 1015.3 280.4C1016.5 280.5 1017.6 280.7 1018.4 281.1C1019.3 281.5 1020 282.1 1020.6 282.8Z" fill="none" stroke="#000" stroke-width="3.52" stroke-linejoin="round"/></g>
<g id="insetA">
<rect x="283.85" y="164.05" width="280.35" height="280.05" fill="#fff"/>
<path d="M431.9 245C433.5 243.7 436.3 241.1 438.5 239.3C440.6 237.5 442.8 235.9 445 234.4C447.2 232.9 449.4 231.4 451.5 230.3C453.7 229.2 455.6 228.5 458.1 227.9C460.5 227.2 463.5 226.8 466.2 226.2C468.9 225.7 471.9 224.7 474.4 224.6C476.8 224.5 478.7 224.9 480.9 225.4C483.1 226 485.3 227.2 487.4 227.9C489.6 228.5 491.8 228.9 494 229.5C496.2 230 498.9 230.2 500.5 231.1C502.1 232.1 503.1 233.4 503.8 235.2C504.5 237 504.7 239.6 504.6 241.7C504.5 243.9 503.5 246.1 503 248.3C502.4 250.4 501.5 252.6 501.3 254.8C501.2 257 502.6 259.3 502.1 261.3C501.7 263.4 500.2 265.4 498.9 267C497.5 268.7 495.3 269.6 494 271.1C492.6 272.6 491.8 274.1 490.7 276C489.6 277.9 489.4 280.9 487.4 282.6C485.5 284.2 481.1 284.5 479.3 285.8C477.5 287.2 477.4 288.8 476.8 290.7C476.3 292.6 477.2 295.6 476 297.2C474.8 298.9 471.4 299.3 469.5 300.5C467.6 301.7 466 303 464.6 304.6C463.2 306.2 462.6 308.4 461.3 310.3C460.1 312.2 458.9 314.4 457.2 316C455.6 317.7 453.3 318.7 451.5 320.1C449.8 321.5 448.3 322.8 446.6 324.2C445 325.5 443.3 326.9 441.7 328.3C440.2 329.7 439.3 331.2 437.5 332.6C435.7 334 432.9 335.3 430.9 336.5C429 337.7 427 338.4 425.7 339.8C424.4 341.2 424.2 343.3 423.1 345C422 346.8 420.9 348.7 419.2 350.2C417.4 351.8 414.8 353 412.7 354.2C410.5 355.4 408.3 356.1 406.1 357.4C403.9 358.7 401.8 360.1 399.6 362C397.4 363.9 395.2 366.7 393.1 368.5C390.9 370.4 388.6 372 386.5 373.1C384.5 374.2 382.3 374.5 380.7 374.9C379 375.3 378.8 374.7 376.4 375.6C374.1 376.5 369.4 379.8 366.6 380.5C363.9 381.2 362.3 380.5 360.1 379.7C357.9 378.9 355.3 377.4 353.6 375.6C351.8 373.8 350.4 371.8 349.5 369.1C348.5 366.4 348 362.6 347.9 359.3C347.7 356 348.1 352.8 348.7 349.5C349.2 346.2 350 343 351.1 339.7C352.2 336.4 353.7 333.2 355.2 329.9C356.7 326.6 358.9 322.7 360.1 320.1C361.3 317.5 361.5 316.2 362.6 314.2C363.7 312.1 365.4 309.9 366.9 307.8C368.3 305.7 369.5 303.4 371.1 301.4C372.7 299.5 374.6 297.9 376.4 296.1C378.2 294.4 379.9 292.9 381.7 290.8C383.5 288.7 385.3 285.5 387 283.4C388.8 281.3 390.4 279.7 392.3 278.1C394.3 276.5 396.6 275.6 398.7 273.8C400.8 272.1 402.9 269.6 405.1 267.5C407.2 265.3 409.3 263 411.4 261.1C413.6 259.2 415.7 257.6 417.8 255.8C419.9 254 422.3 252 424.2 250.5C426 249 427.6 247.9 428.9 247C430.2 246.1 430.4 246.3 431.9 245Z" fill="url(#giA)"/><path d="M441.7 267C443.6 267 445.3 267.5 446.6 268.2C448 268.9 449.2 269.5 449.9 271.1C450.6 272.7 450.9 275.2 450.7 277.7C450.6 280.1 449.8 283.1 449.1 285.8C448.4 288.5 447.4 291.3 446.6 294C445.8 296.7 445.1 299.7 444.2 302.1C443.2 304.6 442.1 306.6 440.9 308.7C439.7 310.7 438.6 312.6 436.8 314.4C435.1 316.2 432.8 317.7 430.3 319.3C427.9 320.9 424.9 322.7 422.1 324.2C419.4 325.7 416.7 327 414 328.3C411.3 329.5 408.5 330.7 405.8 331.5C403.1 332.3 400.1 333.2 397.7 333.2C395.2 333.2 392.9 332.8 391.1 331.5C389.4 330.3 387.5 327.9 387 325.8C386.5 323.7 387.9 320.9 388.1 318.9C388.3 317 387.7 316.2 388.1 314.2C388.4 312.1 389.1 309.2 390.2 306.7C391.3 304.3 392.9 301.8 394.4 299.3C396 296.8 397.8 294.2 399.8 291.9C401.7 289.6 404 287.5 406.1 285.5C408.2 283.6 410.2 282 412.5 280.2C414.8 278.4 417.4 276.5 419.9 274.9C422.4 273.3 424.8 271.8 427.3 270.7C429.9 269.5 432.8 268.8 435.2 268.2C437.6 267.6 439.8 267 441.7 267Z" fill="url(#gcA)"/><circle cx="419.69" cy="301.33" r="20" fill="url(#gsA)"/><path d="M435.2 216.4C437.3 215.1 439.6 213.2 441.7 211.5C443.9 209.9 446.4 208.4 448.3 206.6C450.2 204.9 451.5 202.6 453.2 200.9C454.8 199.3 456.2 197.8 458.1 196.8C460 195.9 462.1 195.3 464.6 195.2C467 195.1 470 195.7 472.8 196C475.5 196.3 477.9 196.4 480.9 196.8C483.9 197.2 487.7 197.8 490.7 198.5C493.7 199.1 496.2 200 498.9 200.9C501.6 201.9 504.3 203.2 507 204.2C509.8 205.1 512.6 205.7 515.2 206.6C517.8 207.6 520.4 208.7 522.6 209.9C524.7 211.1 526.4 212.6 528.3 214C530.2 215.3 532.3 216.4 534 218.1C535.6 219.7 537.2 221.5 538.1 223.8C538.9 226.1 538.9 229.2 538.9 231.9C538.9 234.7 538.1 237.7 538.1 240.1C538 242.6 538.7 244.5 538.4 246.6C538.1 248.8 537.2 250.7 536.4 253.2C535.7 255.6 534.9 258.6 534 261.3C533 264 531.7 267 530.7 269.5C529.8 271.9 529.4 273.8 528.3 276C527.2 278.2 525.5 280.4 524.2 282.6C522.8 284.7 521.5 287.2 520.1 289.1C518.7 291 517.4 292.1 516 294C514.7 295.9 513.3 298.3 511.9 300.5C510.6 302.7 509.2 305.1 507.9 307C506.5 308.9 505.5 310.4 503.8 311.9C502 313.4 499.4 314.7 497.2 316C495.1 317.4 492.3 318.5 490.7 320.1C489.1 321.7 488.7 323.9 487.4 325.8C486.2 327.7 484.5 329.5 483.4 331.5C482.3 333.6 481.6 336 480.9 338.1C480.2 340.1 480.4 342 479.3 343.8C478.2 345.5 476 347.2 474.4 348.7C472.8 350.2 471.4 351.3 469.5 352.8C467.6 354.3 464.7 356.8 463 357.7C461.2 358.5 460.5 356.7 459 357.8C457.5 358.8 454.7 362.1 453.8 364C452.9 365.9 454.3 367.6 453.8 369.2C453.3 370.8 452.2 372.4 450.5 373.8C448.9 375.1 446 375.8 444 377C442 378.2 440.4 379.1 438.8 380.9C437.1 382.8 435.8 386.3 434.2 388.1C432.6 390 430.9 390.8 429 392C427 393.2 424.3 393.9 422.4 395.3C420.6 396.7 419.2 398.7 417.9 400.5C416.6 402.4 416.1 404.9 414.6 406.4C413.1 407.9 410.7 408.8 408.7 409.3C406.7 409.9 404.7 409.5 402.6 409.9C400.4 410.3 398.2 411 396 411.5C393.8 412.1 391.4 412.3 389.5 413.2C387.6 414 386.2 415.3 384.6 416.4C383 417.5 381.3 418.6 379.7 419.7C378.1 420.8 376.7 422.3 374.8 423C372.9 423.6 370.2 423.9 368.3 423.8C366.4 423.6 365.3 423 363.4 422.1C361.5 421.3 359 420 356.8 418.9C354.7 417.8 352.5 416.6 350.3 415.6C348.1 414.7 346 414 343.8 413.2C341.6 412.3 339.4 411.5 337.2 410.7C335.1 409.9 332.6 409.2 330.7 408.3C328.8 407.3 327.3 406.4 325.8 405C324.3 403.6 323 401.7 321.7 400.1C320.5 398.5 319.4 397.1 318.5 395.2C317.5 393.3 316.8 390.9 316 388.7C315.3 386.5 314.6 384.3 314.1 382.1C313.5 380 312.8 377.7 312.8 375.6C312.7 373.6 312.9 371.5 313.6 369.9C314.3 368.3 315.9 367.6 316.8 365.8C317.8 364 318.7 361.5 319.3 359.3C319.8 357.1 319.9 354.9 320.1 352.8C320.3 350.6 320.7 348.4 320.6 346.2C320.5 344 319.4 341.5 319.3 339.7C319.2 337.9 319 336.7 320.1 335.6C321.2 334.5 324.2 334 325.8 333.2C327.4 332.3 328.8 332.1 329.9 330.7C331 329.4 331.9 327 332.3 325C332.8 323 332.3 320.7 332.4 318.9C332.5 317.1 332.2 315.8 332.9 314.2C333.6 312.5 335 310.3 336.6 308.9C338.2 307.4 340.6 306.7 342.4 305.7C344.3 304.6 346.2 303.9 347.8 302.5C349.3 301.1 350.8 299.1 352 297.2C353.2 295.2 354.1 292.9 355.2 290.8C356.2 288.7 357.1 286.2 358.4 284.4C359.6 282.7 361 281.4 362.6 280.2C364.2 279 366.1 278.3 367.9 277C369.7 275.8 371.8 274.5 373.2 272.8C374.6 271 375.5 268.4 376.4 266.4C377.3 264.5 377.3 262.7 378.5 261.1C379.8 259.5 382.2 258.3 383.8 256.9C385.4 255.4 387 254.2 388.1 252.6C389.1 251 389.3 248.7 390.2 247.3C391.1 245.9 392 245 393.4 244.1C394.8 243.2 396.9 242.7 398.7 242C400.5 241.3 402.6 240.8 404 239.9C405.4 239 406.7 237.9 407.2 236.7C407.6 235.5 406.3 233.5 406.7 232.4C407 231.4 408 230.9 409.3 230.3C410.6 229.8 412.8 229.7 414.6 229.3C416.4 228.8 418.3 228.6 419.9 227.7C421.5 226.8 422.7 225.3 424.2 224C425.7 222.6 427.1 221 428.9 219.7C430.8 218.5 433.1 217.8 435.2 216.4Z" fill="none" stroke="#000" stroke-width="3.90" stroke-linejoin="round"/><path d="M431.9 230.3C433.5 228.9 436.3 227 438.5 225.4C440.6 223.8 442.8 222 445 220.5C447.2 219 449.1 217.5 451.5 216.4C454 215.3 457 214.7 459.7 214C462.4 213.3 465.1 212.8 467.9 212.3C470.6 211.9 473 211.7 476 211.5C479 211.4 482.8 211.4 485.8 211.5C488.8 211.7 491.5 211.8 494 212.3C496.4 212.9 498.3 213.8 500.5 214.8C502.7 215.7 505 216.8 507 218.1C509.1 219.3 511 220.5 512.8 222.1C514.5 223.8 516.4 225.8 517.7 227.9C518.9 229.9 519.8 231.8 520.1 234.4C520.4 237 519.7 240.5 519.3 243.4C518.9 246.2 518.1 248.8 517.7 251.5C517.2 254.3 517.4 257 516.8 259.7C516.3 262.4 515.3 265.1 514.4 267.9C513.4 270.6 512.3 273.6 511.1 276C509.9 278.5 508.5 280.5 507 282.6C505.5 284.6 503.8 286.4 502.1 288.3C500.5 290.2 498.9 292.2 497.2 294C495.6 295.7 494 297.2 492.3 298.9C490.7 300.5 489.1 302.1 487.4 303.8C485.8 305.4 484.2 307.2 482.6 308.7C480.9 310.2 479.3 311.4 477.7 312.8C476 314.1 474.4 315.3 472.8 316.8C471.1 318.3 469.2 320 467.9 321.7C466.5 323.5 466 325.8 464.6 327.4C463.2 329.1 460.6 329.8 459.7 331.5C458.8 333.3 460.1 335.9 459.3 337.8C458.6 339.8 456.9 341.2 455.1 343.1C453.3 344.9 450.7 347.3 448.6 348.9C446.4 350.6 443.9 351.1 442 352.9C440.2 354.6 439.1 357.6 437.5 359.4C435.8 361.1 434.2 362.1 432.2 363.3C430.3 364.5 427.3 365.2 425.7 366.6C424.1 368 423.8 370.1 422.4 371.8C421.1 373.5 419.7 375.7 417.9 377C416 378.3 413.6 378.5 411.3 379.6C409.1 380.7 406.3 382 404.2 383.6C402 385.1 400.1 386.9 398.3 388.8C396.4 390.6 395 393.3 393.1 394.7C391.1 396 388.6 396.3 386.5 396.6C384.5 396.9 383.4 396.4 380.7 396.6C377.9 396.8 373.1 397.3 369.9 397.7C366.7 398 364.5 398.3 361.7 398.5C359 398.6 356 398.7 353.6 398.5C351.1 398.2 349.2 397.7 347 396.8C344.9 396 342.6 394.8 340.5 393.6C338.5 392.3 336.4 391.1 334.8 389.5C333.2 387.9 331.7 386.1 330.7 383.8C329.7 381.5 328.9 378.3 328.8 375.6C328.6 372.9 329.3 370.2 329.9 367.4C330.5 364.7 331.7 362 332.3 359.3C333 356.6 333.2 353.8 334 351.1C334.8 348.4 336 345.7 337.2 343C338.5 340.2 340.2 337.5 341.3 334.8C342.4 332.1 342.8 329.3 343.8 326.6C344.8 324 346.2 321 347.2 318.9C348.2 316.9 348.7 315.8 349.9 314.2C351 312.5 352.5 310.8 354.1 308.9C355.7 306.9 357.8 304.6 359.4 302.5C361 300.4 362.3 298.1 363.7 296.1C365.1 294.2 366.3 292.6 367.9 290.8C369.5 289 371.5 287.3 373.2 285.5C375 283.7 376.8 282.1 378.5 280.2C380.3 278.3 382.1 275.8 383.8 273.8C385.6 271.9 387.4 270.3 389.1 268.5C390.9 266.8 392.9 265 394.4 263.2C396 261.5 397.3 259.7 398.7 257.9C400.1 256.1 401.3 254.2 402.9 252.6C404.5 251 406.5 249.8 408.2 248.4C410 247 411.8 245.4 413.6 244.1C415.3 242.9 417.1 242.1 418.9 240.9C420.6 239.8 422.5 238.4 424.2 237.2C425.8 236.1 427.6 235.2 428.9 234C430.2 232.9 430.4 231.7 431.9 230.3Z" fill="none" stroke="#000" stroke-width="3.90" stroke-linejoin="round"/><path d="M431.9 245C433.5 243.7 436.3 241.1 438.5 239.3C440.6 237.5 442.8 235.9 445 234.4C447.2 232.9 449.4 231.4 451.5 230.3C453.7 229.2 455.6 228.5 458.1 227.9C460.5 227.2 463.5 226.8 466.2 226.2C468.9 225.7 471.9 224.7 474.4 224.6C476.8 224.5 478.7 224.9 480.9 225.4C483.1 226 485.3 227.2 487.4 227.9C489.6 228.5 491.8 228.9 494 229.5C496.2 230 498.9 230.2 500.5 231.1C502.1 232.1 503.1 233.4 503.8 235.2C504.5 237 504.7 239.6 504.6 241.7C504.5 243.9 503.5 246.1 503 248.3C502.4 250.4 501.5 252.6 501.3 254.8C501.2 257 502.6 259.3 502.1 261.3C501.7 263.4 500.2 265.4 498.9 267C497.5 268.7 495.3 269.6 494 271.1C492.6 272.6 491.8 274.1 490.7 276C489.6 277.9 489.4 280.9 487.4 282.6C485.5 284.2 481.1 284.5 479.3 285.8C477.5 287.2 477.4 288.8 476.8 290.7C476.3 292.6 477.2 295.6 476 297.2C474.8 298.9 471.4 299.3 469.5 300.5C467.6 301.7 466 303 464.6 304.6C463.2 306.2 462.6 308.4 461.3 310.3C460.1 312.2 458.9 314.4 457.2 316C455.6 317.7 453.3 318.7 451.5 320.1C449.8 321.5 448.3 322.8 446.6 324.2C445 325.5 443.3 326.9 441.7 328.3C440.2 329.7 439.3 331.2 437.5 332.6C435.7 334 432.9 335.3 430.9 336.5C429 337.7 427 338.4 425.7 339.8C424.4 341.2 424.2 343.3 423.1 345C422 346.8 420.9 348.7 419.2 350.2C417.4 351.8 414.8 353 412.7 354.2C410.5 355.4 408.3 356.1 406.1 357.4C403.9 358.7 401.8 360.1 399.6 362C397.4 363.9 395.2 366.7 393.1 368.5C390.9 370.4 388.6 372 386.5 373.1C384.5 374.2 382.3 374.5 380.7 374.9C379 375.3 378.8 374.7 376.4 375.6C374.1 376.5 369.4 379.8 366.6 380.5C363.9 381.2 362.3 380.5 360.1 379.7C357.9 378.9 355.3 377.4 353.6 375.6C351.8 373.8 350.4 371.8 349.5 369.1C348.5 366.4 348 362.6 347.9 359.3C347.7 356 348.1 352.8 348.7 349.5C349.2 346.2 350 343 351.1 339.7C352.2 336.4 353.7 333.2 355.2 329.9C356.7 326.6 358.9 322.7 360.1 320.1C361.3 317.5 361.5 316.2 362.6 314.2C363.7 312.1 365.4 309.9 366.9 307.8C368.3 305.7 369.5 303.4 371.1 301.4C372.7 299.5 374.6 297.9 376.4 296.1C378.2 294.4 379.9 292.9 381.7 290.8C383.5 288.7 385.3 285.5 387 283.4C388.8 281.3 390.4 279.7 392.3 278.1C394.3 276.5 396.6 275.6 398.7 273.8C400.8 272.1 402.9 269.6 405.1 267.5C407.2 265.3 409.3 263 411.4 261.1C413.6 259.2 415.7 257.6 417.8 255.8C419.9 254 422.3 252 424.2 250.5C426 249 427.6 247.9 428.9 247C430.2 246.1 430.4 246.3 431.9 245Z" fill="none" stroke="#000" stroke-width="3.90" stroke-linejoin="round"/><path d="M441.7 267C443.6 267 445.3 267.5 446.6 268.2C448 268.9 449.2 269.5 449.9 271.1C450.6 272.7 450.9 275.2 450.7 277.7C450.6 280.1 449.8 283.1 449.1 285.8C448.4 288.5 447.4 291.3 446.6 294C445.8 296.7 445.1 299.7 444.2 302.1C443.2 304.6 442.1 306.6 440.9 308.7C439.7 310.7 438.6 312.6 436.8 314.4C435.1 316.2 432.8 317.7 430.3 319.3C427.9 320.9 424.9 322.7 422.1 324.2C419.4 325.7 416.7 327 414 328.3C411.3 329.5 408.5 330.7 405.8 331.5C403.1 332.3 400.1 333.2 397.7 333.2C395.2 333.2 392.9 332.8 391.1 331.5C389.4 330.3 387.5 327.9 387 325.8C386.5 323.7 387.9 320.9 388.1 318.9C388.3 317 387.7 316.2 388.1 314.2C388.4 312.1 389.1 309.2 390.2 306.7C391.3 304.3 392.9 301.8 394.4 299.3C396 296.8 397.8 294.2 399.8 291.9C401.7 289.6 404 287.5 406.1 285.5C408.2 283.6 410.2 282 412.5 280.2C414.8 278.4 417.4 276.5 419.9 274.9C422.4 273.3 424.8 271.8 427.3 270.7C429.9 269.5 432.8 268.8 435.2 268.2C437.6 267.6 439.8 267 441.7 267Z" fill="none" stroke="#000" stroke-width="3.90" stroke-linejoin="round"/><path d="M457.8 174.3q2.5 -5 5.5 0" fill="none" stroke="#000" stroke-width="3.90" stroke-linecap="round"/><ellipse cx="535.6" cy="176.8" rx="3.6" ry="3.4" fill="#000"/>
<rect x="283.85" y="164.05" width="280.35" height="280.05" fill="none" stroke="#000" stroke-width="8.5"/>
<rect x="494" y="387.9" width="46.8" height="8.6" fill="#000"/>
<text transform="translate(486.41,423.20) scale(1.0000,1)" font-size="28.6">10 au</text>
</g>
<g id="insetB">
<rect x="866.4" y="161.4" width="280.3" height="280.4" fill="#fff"/>
<path d="M1000 270C1001.9 268.1 1003.9 266.9 1005.9 265.6C1007.8 264.2 1009.8 262.9 1011.8 261.6C1013.7 260.3 1015.7 258.9 1017.6 257.7C1019.6 256.5 1021.6 255.3 1023.5 254.3C1025.5 253.2 1027.4 252.2 1029.4 251.3C1031.3 250.4 1033.3 249.6 1035.3 248.9C1037.2 248.2 1039 247.8 1041.1 247.4C1043.3 247.1 1045.9 246.6 1048 246.6C1050.1 246.6 1052.1 247 1053.9 247.4C1055.7 247.9 1057.3 248.5 1058.8 249.4C1060.2 250.3 1061.6 251.5 1062.7 252.8C1063.8 254.1 1065 255.7 1065.6 257.2C1066.3 258.8 1066.6 260.5 1066.6 262.1C1066.6 263.8 1066.3 265.6 1065.6 267C1065 268.5 1063.7 269.8 1062.7 270.9C1061.7 272.1 1060.4 272.7 1059.8 273.9C1059.1 275 1059 276.5 1058.8 277.8C1058.5 279.1 1058.8 280.4 1058.3 281.7C1057.8 283 1056.9 284.6 1055.8 285.6C1054.8 286.7 1053.2 287.3 1051.9 288.1C1050.6 288.8 1049.1 289.2 1048 290C1046.9 290.9 1045.8 291.8 1045.1 293C1044.3 294.2 1044.1 295.9 1043.6 297.4C1043.1 298.9 1042.9 300.5 1042.1 301.8C1041.4 303.1 1040.3 304.3 1039.2 305.2C1038 306.1 1036.6 306.5 1035.3 307.2C1034 307.8 1032.7 308.4 1031.3 309.1C1030 309.9 1028.7 310.7 1027.4 311.6C1026.1 312.5 1024.8 313.6 1023.5 314.5C1022.2 315.5 1020.9 316.4 1019.6 317.5C1018.3 318.5 1017 319.8 1015.7 320.9C1014.4 322 1013.1 322.7 1011.8 323.8C1010.4 325 1009.1 326.5 1007.8 327.8C1006.5 329 1005.2 330.2 1003.9 331.2C1002.6 332.2 1001.5 332.6 1000 333.6C998.5 334.6 996.7 335.9 994.7 337.1C992.7 338.4 990.3 339.9 988.2 341.2C986 342.6 984.1 343.8 981.6 345.3C979.2 346.8 976.2 348.6 973.5 350.2C970.7 351.8 968 353.9 965.3 355.1C962.6 356.3 959.7 357.3 957.1 357.6C954.6 357.8 952 357.6 949.8 356.7C947.6 355.9 945.4 354.4 944.1 352.7C942.7 350.9 941.9 348.4 941.6 346.1C941.4 343.8 942.1 341.4 942.8 338.8C943.5 336.2 944.5 333.1 945.7 330.6C946.9 328.2 948.2 326.5 949.8 324.1C951.4 321.6 953.5 318.4 955.5 315.9C957.6 313.5 959.9 311.6 962 309.4C964.2 307.2 966.4 305 968.6 302.9C970.7 300.7 972.9 298.5 975.1 296.3C977.3 294.1 979.5 291.8 981.6 289.8C983.8 287.8 986 286.3 988.2 284.1C990.3 281.9 992.7 279.1 994.7 276.7C996.7 274.4 998.1 271.8 1000 270Z" fill="url(#giB)"/><path d="M1020.6 282.8C1021.1 283.5 1021.5 284.3 1021.6 285.2C1021.8 286.2 1021.8 287.3 1021.6 288.4C1021.4 289.6 1021 290.8 1020.4 292.2C1019.9 293.5 1019.1 294.9 1018.2 296.2C1017.3 297.6 1016.2 299.1 1015 300.5C1013.8 301.9 1012.5 303.3 1011.1 304.7C1009.6 306 1008.1 307.4 1006.5 308.6C1004.9 309.9 1003.2 311 1001.6 312.1C999.9 313.1 998.2 314.1 996.6 314.9C994.9 315.7 993.2 316.4 991.7 317C990.1 317.5 988.6 317.9 987.2 318.1C985.8 318.4 984.4 318.5 983.3 318.4C982.1 318.3 981 318.1 980.2 317.7C979.3 317.3 978.6 316.7 978 316C977.5 315.3 977.1 314.5 977 313.6C976.8 312.6 976.8 311.5 977 310.4C977.2 309.2 977.6 308 978.2 306.6C978.7 305.3 979.5 303.9 980.4 302.6C981.3 301.2 982.4 299.7 983.6 298.3C984.8 296.9 986.1 295.5 987.5 294.1C989 292.8 990.5 291.4 992.1 290.2C993.7 288.9 995.4 287.8 997 286.7C998.7 285.7 1000.4 284.7 1002 283.9C1003.7 283.1 1005.4 282.4 1006.9 281.8C1008.5 281.3 1010 280.9 1011.4 280.7C1012.8 280.4 1014.2 280.3 1015.3 280.4C1016.5 280.5 1017.6 280.7 1018.4 281.1C1019.3 281.5 1020 282.1 1020.6 282.8Z" fill="url(#gcB)"/><path d="M1000 243.5C1002.7 241.1 1005.2 239.4 1007.8 237.6C1010.4 235.8 1013.1 234.2 1015.7 232.7C1018.3 231.3 1020.9 230 1023.5 228.8C1026.1 227.6 1028.7 226.4 1031.3 225.4C1034 224.3 1036.6 223.3 1039.2 222.4C1041.8 221.6 1044.4 221 1047 220.5C1049.6 220 1052.2 219.7 1054.9 219.5C1057.5 219.3 1060.1 219.4 1062.7 219.5C1065.3 219.6 1068.4 219.7 1070.5 220C1072.7 220.3 1074.1 220.7 1075.4 221.5C1076.7 222.3 1077.4 223.8 1078.4 224.9C1079.3 226 1080 227.3 1081.3 228.3C1082.6 229.4 1084.6 230.3 1086.2 231.3C1087.8 232.2 1089.6 233.1 1091.1 234.2C1092.7 235.3 1094.3 236.4 1095.5 237.6C1096.7 238.9 1097.8 240.1 1098.4 241.6C1099.1 243 1099.3 244.7 1099.4 246.4C1099.5 248.2 1099.1 250.4 1098.9 252.3C1098.8 254.3 1098.7 256.2 1098.4 258.2C1098.2 260.2 1097.9 262.1 1097.5 264.1C1097.1 266 1096.6 268 1096 270C1095.4 271.9 1094.9 274 1094 275.8C1093.2 277.6 1092.2 279.3 1091.1 280.7C1090 282.2 1088.5 283.5 1087.2 284.7C1085.9 285.8 1084.7 286.5 1083.3 287.6C1081.8 288.7 1079.8 289.9 1078.4 291C1076.9 292.2 1075.5 293.1 1074.4 294.4C1073.4 295.8 1072.7 297.6 1072 299.3C1071.3 301.1 1070.8 303.4 1070 305.2C1069.3 307 1068.7 308.8 1067.6 310.1C1066.5 311.4 1065.1 312 1063.7 313.1C1062.2 314.1 1060.4 315.3 1058.8 316.5C1057.1 317.6 1055.5 318.7 1053.9 319.9C1052.2 321.1 1050.4 322.4 1049 323.8C1047.5 325.3 1046.2 327.1 1045.1 328.7C1043.9 330.4 1043.1 332 1042.1 333.6C1041.1 335.3 1040.3 337.1 1039.2 338.5C1038.1 339.9 1037.2 341 1035.5 342C1033.8 343 1031.2 343.4 1029 344.5C1026.8 345.6 1024.6 346.9 1022.4 348.6C1020.3 350.2 1017.8 352.1 1015.9 354.3C1014 356.5 1012.9 359.6 1011 361.6C1009.1 363.7 1006.7 364.9 1004.5 366.5C1002.3 368.2 1000.1 369.7 998 371.4C995.8 373.2 993.9 375.5 991.4 377.1C989 378.8 986 380.3 983.3 381.2C980.5 382.2 977.6 382.3 975.1 382.9C972.7 383.4 971 383.9 968.6 384.5C966.1 385 963.1 385.4 960.4 386.1C957.7 386.8 955 387.8 952.2 388.6C949.5 389.4 946.5 390.9 944.1 391C941.6 391.2 939.6 390.5 937.6 389.4C935.5 388.3 933.5 386.5 931.8 384.5C930.2 382.4 929.3 379.3 927.8 377.1C926.3 375 924.6 373.5 922.9 371.4C921.1 369.4 918.7 366.9 917.1 364.9C915.6 362.9 913.5 360.8 913.4 359.2C913.3 357.6 915.2 356.5 916.3 355.1C917.5 353.7 919.5 352.9 920.4 351C921.4 349.1 921.7 346.3 922 343.7C922.4 341.1 922.4 338.2 922.5 335.5C922.7 332.8 922.9 330.1 922.9 327.3C922.8 324.6 922 321.6 922 319.2C922 316.7 921.6 314.1 922.9 312.7C924.1 311.2 927.2 311.2 929.4 310.2C931.6 309.3 933.9 308.7 935.9 306.9C938 305.2 940 301.9 941.6 299.6C943.3 297.3 943.7 294.8 945.7 293.1C947.8 291.3 951.4 290.5 953.9 289C956.3 287.5 958.6 286.1 960.4 284.1C962.2 282 962.7 279 964.5 276.7C966.3 274.4 968.7 272.1 971 270.2C973.3 268.3 976.1 266.9 978.4 265.3C980.7 263.7 982.7 262.6 984.9 260.4C987.1 258.2 988.9 255.1 991.4 252.2C993.9 249.4 997.3 245.9 1000 243.5Z" fill="none" stroke="#000" stroke-width="3.90" stroke-linejoin="round"/><path d="M1000 259.2C1001.9 257.6 1003.9 255.8 1005.9 254.3C1007.8 252.8 1009.8 251.7 1011.8 250.4C1013.7 249.1 1015.5 247.8 1017.6 246.4C1019.8 245.1 1022.2 243.8 1024.5 242.5C1026.8 241.3 1029.1 240.2 1031.3 239.1C1033.6 238 1035.9 236.9 1038.2 236.2C1040.5 235.4 1042.6 235.1 1045.1 234.7C1047.5 234.3 1050.4 233.7 1052.9 233.7C1055.3 233.7 1057.5 234.2 1059.8 234.7C1062 235.2 1064.5 235.8 1066.6 236.7C1068.7 237.5 1070.7 238.5 1072.5 239.6C1074.3 240.7 1075.9 241.7 1077.4 243C1078.9 244.3 1080.4 245.7 1081.3 247.4C1082.2 249.1 1082.5 251.3 1082.8 253.3C1083.1 255.3 1083.2 257.2 1083.1 259.2C1082.9 261.1 1082.3 263.1 1081.8 265.1C1081.3 267 1081 269 1080.3 270.9C1079.7 272.9 1078.7 275 1077.9 276.8C1077.1 278.6 1076.3 280.1 1075.4 281.7C1074.5 283.3 1073.6 285.1 1072.5 286.6C1071.3 288.1 1069.9 289.4 1068.6 290.5C1067.3 291.7 1066 292.5 1064.7 293.5C1063.3 294.4 1061.9 295.3 1060.7 296.4C1059.6 297.6 1058.8 299 1057.8 300.3C1056.8 301.6 1056 303.1 1054.9 304.2C1053.7 305.4 1052.4 306.2 1050.9 307.2C1049.5 308.2 1047.7 309.1 1046 310.1C1044.4 311.1 1042.8 312 1041.1 313.1C1039.5 314.1 1037.9 315.3 1036.2 316.5C1034.6 317.6 1033 318.7 1031.3 319.9C1029.7 321.1 1028.1 322.5 1026.4 323.8C1024.8 325.1 1023 326.3 1021.6 327.8C1020.1 329.2 1018.8 331 1017.6 332.7C1016.5 334.3 1016.3 335.3 1014.7 337.6C1013 339.8 1010 343.7 1007.8 346.1C1005.5 348.5 1003.4 350.1 1001.2 351.8C999 353.6 997.1 355.1 994.7 356.7C992.2 358.4 989.3 360.1 986.5 361.6C983.8 363.1 981.1 364.5 978.4 365.7C975.6 366.9 972.9 368.2 970.2 369C967.5 369.8 965 370.2 962 370.6C959 371 955.2 371.4 952.2 371.4C949.3 371.4 946.7 371.4 944.1 370.6C941.5 369.8 938.6 368 936.7 366.5C934.8 365 933.7 363.5 932.7 361.6C931.6 359.7 930.6 357.6 930.2 355.1C929.8 352.7 929.9 349.7 930.2 346.9C930.5 344.2 931.2 341.5 931.8 338.8C932.5 336.1 933.2 333.3 934.3 330.6C935.4 327.9 936.7 325.2 938.4 322.4C940 319.7 942.3 317 944.1 314.3C945.9 311.6 947.1 308.6 949 306.1C950.9 303.7 953.3 301.8 955.5 299.6C957.7 297.4 959.9 295.2 962 293.1C964.2 290.9 966.4 288.4 968.6 286.5C970.7 284.6 973.2 283.5 975.1 281.6C977 279.7 978.1 277 980 275.1C981.9 273.2 984.1 272.1 986.5 270.2C989 268.3 992.4 265.5 994.7 263.7C996.9 261.8 998.1 260.7 1000 259.2Z" fill="none" stroke="#000" stroke-width="3.90" stroke-linejoin="round"/><path d="M1000 270C1001.9 268.1 1003.9 266.9 1005.9 265.6C1007.8 264.2 1009.8 262.9 1011.8 261.6C1013.7 260.3 1015.7 258.9 1017.6 257.7C1019.6 256.5 1021.6 255.3 1023.5 254.3C1025.5 253.2 1027.4 252.2 1029.4 251.3C1031.3 250.4 1033.3 249.6 1035.3 248.9C1037.2 248.2 1039 247.8 1041.1 247.4C1043.3 247.1 1045.9 246.6 1048 246.6C1050.1 246.6 1052.1 247 1053.9 247.4C1055.7 247.9 1057.3 248.5 1058.8 249.4C1060.2 250.3 1061.6 251.5 1062.7 252.8C1063.8 254.1 1065 255.7 1065.6 257.2C1066.3 258.8 1066.6 260.5 1066.6 262.1C1066.6 263.8 1066.3 265.6 1065.6 267C1065 268.5 1063.7 269.8 1062.7 270.9C1061.7 272.1 1060.4 272.7 1059.8 273.9C1059.1 275 1059 276.5 1058.8 277.8C1058.5 279.1 1058.8 280.4 1058.3 281.7C1057.8 283 1056.9 284.6 1055.8 285.6C1054.8 286.7 1053.2 287.3 1051.9 288.1C1050.6 288.8 1049.1 289.2 1048 290C1046.9 290.9 1045.8 291.8 1045.1 293C1044.3 294.2 1044.1 295.9 1043.6 297.4C1043.1 298.9 1042.9 300.5 1042.1 301.8C1041.4 303.1 1040.3 304.3 1039.2 305.2C1038 306.1 1036.6 306.5 1035.3 307.2C1034 307.8 1032.7 308.4 1031.3 309.1C1030 309.9 1028.7 310.7 1027.4 311.6C1026.1 312.5 1024.8 313.6 1023.5 314.5C1022.2 315.5 1020.9 316.4 1019.6 317.5C1018.3 318.5 1017 319.8 1015.7 320.9C1014.4 322 1013.1 322.7 1011.8 323.8C1010.4 325 1009.1 326.5 1007.8 327.8C1006.5 329 1005.2 330.2 1003.9 331.2C1002.6 332.2 1001.5 332.6 1000 333.6C998.5 334.6 996.7 335.9 994.7 337.1C992.7 338.4 990.3 339.9 988.2 341.2C986 342.6 984.1 343.8 981.6 345.3C979.2 346.8 976.2 348.6 973.5 350.2C970.7 351.8 968 353.9 965.3 355.1C962.6 356.3 959.7 357.3 957.1 357.6C954.6 357.8 952 357.6 949.8 356.7C947.6 355.9 945.4 354.4 944.1 352.7C942.7 350.9 941.9 348.4 941.6 346.1C941.4 343.8 942.1 341.4 942.8 338.8C943.5 336.2 944.5 333.1 945.7 330.6C946.9 328.2 948.2 326.5 949.8 324.1C951.4 321.6 953.5 318.4 955.5 315.9C957.6 313.5 959.9 311.6 962 309.4C964.2 307.2 966.4 305 968.6 302.9C970.7 300.7 972.9 298.5 975.1 296.3C977.3 294.1 979.5 291.8 981.6 289.8C983.8 287.8 986 286.3 988.2 284.1C990.3 281.9 992.7 279.1 994.7 276.7C996.7 274.4 998.1 271.8 1000 270Z" fill="none" stroke="#000" stroke-width="3.90" stroke-linejoin="round"/><path d="M1020.6 282.8C1021.1 283.5 1021.5 284.3 1021.6 285.2C1021.8 286.2 1021.8 287.3 1021.6 288.4C1021.4 289.6 1021 290.8 1020.4 292.2C1019.9 293.5 1019.1 294.9 1018.2 296.2C1017.3 297.6 1016.2 299.1 1015 300.5C1013.8 301.9 1012.5 303.3 1011.1 304.7C1009.6 306 1008.1 307.4 1006.5 308.6C1004.9 309.9 1003.2 311 1001.6 312.1C999.9 313.1 998.2 314.1 996.6 314.9C994.9 315.7 993.2 316.4 991.7 317C990.1 317.5 988.6 317.9 987.2 318.1C985.8 318.4 984.4 318.5 983.3 318.4C982.1 318.3 981 318.1 980.2 317.7C979.3 317.3 978.6 316.7 978 316C977.5 315.3 977.1 314.5 977 313.6C976.8 312.6 976.8 311.5 977 310.4C977.2 309.2 977.6 308 978.2 306.6C978.7 305.3 979.5 303.9 980.4 302.6C981.3 301.2 982.4 299.7 983.6 298.3C984.8 296.9 986.1 295.5 987.5 294.1C989 292.8 990.5 291.4 992.1 290.2C993.7 288.9 995.4 287.8 997 286.7C998.7 285.7 1000.4 284.7 1002 283.9C1003.7 283.1 1005.4 282.4 1006.9 281.8C1008.5 281.3 1010 280.9 1011.4 280.7C1012.8 280.4 1014.2 280.3 1015.3 280.4C1016.5 280.5 1017.6 280.7 1018.4 281.1C1019.3 281.5 1020 282.1 1020.6 282.8Z" fill="none" stroke="#000" stroke-width="3.90" stroke-linejoin="round"/><path d="M958.1 242.7c-4 -4.5 -11 -2 -8.5 2.8c1.5 3 5 3.6 9 3.2" fill="none" stroke="#000" stroke-width="3.90" stroke-linecap="round"/><path d="M1046.1 402.1c-4 -4.5 -11 -2 -8.5 2.8c1.5 3 5 3.6 9 3.2" fill="none" stroke="#000" stroke-width="3.90" stroke-linecap="round"/>
<rect x="866.4" y="161.4" width="280.3" height="280.4" fill="none" stroke="#000" stroke-width="8.4"/>
<rect x="1076" y="386" width="47.3" height="8" fill="#000"/>
<text transform="translate(1069.01,421.20) scale(1.0000,1)" font-size="28.6">10 au</text>
</g>
<g font-size="74.8" style="filter:drop-shadow(3px 3.2px 0 #111)"><text class="lab" transform="translate(467.4,580.4) scale(1.420,1)" style="fill:#f6dc41;stroke:#f6dc41;stroke-width:2.5;stroke-linejoin:miter">A</text></g>
<g font-size="73.0" style="filter:drop-shadow(3px 3.2px 0 #111)"><text class="lab" transform="translate(899.6,539.0) scale(1.357,1)" style="fill:#f6dc41;stroke:#f6dc41;stroke-width:2.5;stroke-linejoin:miter">B</text></g>
<rect x="1027.0" y="954.0" width="82.0" height="8.1" fill="#000"/>
<text transform="translate(1003.85,1009.50) scale(0.9936,1)" font-size="58.8">60 au</text>
</g>
<g id="right-content" clip-path="url(#clipR)">
<circle cx="1583.7" cy="697.3" r="98" fill="url(#gA)"/>
<circle cx="1781.4" cy="493.3" r="98" fill="url(#gB)"/>
<g shape-rendering="crispEdges"><path fill="#ffffff" d="M1586.13 614.56H1601.56V619.77H1586.13zM1560.58 619.67H1570.90V624.88H1560.58zM1621.90 619.67H1627.11V624.88H1621.90zM1550.36 624.78H1555.57V629.99H1550.36zM1632.12 624.78H1637.33V629.99H1632.12zM1540.14 629.89H1545.35V635.10H1540.14zM1642.34 629.89H1647.55V635.10H1642.34zM1529.92 635.00H1535.13V640.21H1529.92zM1647.45 635.00H1652.66V640.21H1647.45zM1524.81 640.11H1530.02V645.32H1524.81zM1652.56 640.11H1657.77V645.32H1652.56zM1519.70 645.22H1524.91V650.43H1519.70zM1657.67 645.22H1662.88V650.43H1657.67zM1514.59 650.33H1519.80V655.54H1514.59zM1662.78 650.33H1667.99V655.54H1662.78zM1509.48 655.44H1514.69V660.65H1509.48zM1667.89 660.55H1673.10V665.76H1667.89zM1667.89 665.66H1673.10V670.87H1667.89zM1499.26 670.77H1504.47V675.98H1499.26zM1494.15 686.10H1499.36V691.31H1494.15zM1667.89 706.54H1673.10V711.75H1667.89zM1494.15 721.87H1499.36V727.08H1494.15zM1662.78 721.87H1667.99V727.08H1662.78zM1494.15 726.98H1499.36V732.19H1494.15zM1657.67 726.98H1662.88V732.19H1657.67zM1499.26 737.20H1504.47V742.41H1499.26zM1652.56 737.20H1657.77V742.41H1652.56zM1647.45 742.31H1652.66V747.52H1647.45zM1642.34 747.42H1647.55V752.63H1642.34zM1509.48 752.53H1514.69V757.74H1509.48zM1514.59 757.64H1519.80V762.85H1514.59zM1627.01 757.64H1632.22V762.85H1627.01zM1524.81 762.75H1530.02V767.96H1524.81zM1535.03 767.86H1540.24V773.07H1535.03zM1606.57 767.86H1611.78V773.07H1606.57zM1545.25 772.97H1555.57V778.18H1545.25zM1591.24 772.97H1601.56V778.18H1591.24z"/><path fill="#fafcfc" d="M1570.80 619.67H1622.00V624.88H1570.80zM1555.47 624.78H1576.01V629.99H1555.47zM1611.68 624.78H1632.22V629.99H1611.68zM1545.25 629.89H1560.68V635.10H1545.25zM1627.01 629.89H1642.44V635.10H1627.01zM1535.03 635.00H1545.35V640.21H1535.03zM1637.23 635.00H1647.55V640.21H1637.23zM1529.92 640.11H1540.24V645.32H1529.92zM1642.34 640.11H1652.66V645.32H1642.34zM1524.81 645.22H1530.02V650.43H1524.81zM1647.45 645.22H1657.77V650.43H1647.45zM1519.70 650.33H1524.91V655.54H1519.70zM1652.56 650.33H1662.88V655.54H1652.56zM1514.59 655.44H1519.80V660.65H1514.59zM1657.67 655.44H1667.99V660.65H1657.67zM1509.48 660.55H1519.80V665.76H1509.48zM1657.67 660.55H1667.99V665.76H1657.67zM1504.37 665.66H1514.69V670.87H1504.37zM1662.78 665.66H1667.99V670.87H1662.78zM1504.37 670.77H1509.58V675.98H1504.37zM1662.78 670.77H1673.10V675.98H1662.78zM1499.26 675.88H1509.58V681.09H1499.26zM1662.78 675.88H1673.10V681.09H1662.78zM1499.26 680.99H1504.47V686.20H1499.26zM1667.89 680.99H1673.10V686.20H1667.89zM1499.26 686.10H1504.47V691.31H1499.26zM1667.89 686.10H1673.10V691.31H1667.89zM1494.15 691.21H1504.47V696.42H1494.15zM1667.89 691.21H1673.10V696.42H1667.89zM1494.15 696.32H1504.47V701.53H1494.15zM1662.78 696.32H1673.10V701.53H1662.78zM1494.15 701.43H1504.47V706.64H1494.15zM1662.78 701.43H1673.10V706.64H1662.78zM1494.15 706.54H1504.47V711.75H1494.15zM1662.78 706.54H1667.99V711.75H1662.78zM1494.15 711.65H1504.47V716.86H1494.15zM1662.78 711.65H1667.99V716.86H1662.78zM1494.15 716.76H1504.47V721.97H1494.15zM1657.67 716.76H1667.99V721.97H1657.67zM1499.26 721.87H1504.47V727.08H1499.26zM1657.67 721.87H1662.88V727.08H1657.67zM1499.26 726.98H1504.47V732.19H1499.26zM1652.56 726.98H1657.77V732.19H1652.56zM1499.26 732.09H1509.58V737.30H1499.26zM1647.45 732.09H1657.77V737.30H1647.45zM1504.37 737.20H1509.58V742.41H1504.37zM1642.34 737.20H1652.66V742.41H1642.34zM1504.37 742.31H1514.69V747.52H1504.37zM1637.23 742.31H1647.55V747.52H1637.23zM1509.48 747.42H1519.80V752.63H1509.48zM1632.12 747.42H1642.44V752.63H1632.12zM1514.59 752.53H1524.91V757.74H1514.59zM1627.01 752.53H1637.33V757.74H1627.01zM1519.70 757.64H1535.13V762.85H1519.70zM1616.79 757.64H1627.11V762.85H1616.79zM1529.92 762.75H1545.35V767.96H1529.92zM1606.57 762.75H1622.00V767.96H1606.57zM1540.14 767.86H1565.79V773.07H1540.14zM1581.02 767.86H1606.67V773.07H1581.02zM1555.47 772.97H1591.34V778.18H1555.47z"/><path fill="#f4f8f8" d="M1575.91 624.78H1611.78V629.99H1575.91zM1560.58 629.89H1570.90V635.10H1560.58zM1616.79 629.89H1627.11V635.10H1616.79zM1545.25 635.00H1555.57V640.21H1545.25zM1627.01 635.00H1637.33V640.21H1627.01zM1540.14 640.11H1545.35V645.32H1540.14zM1637.23 640.11H1642.44V645.32H1637.23zM1529.92 645.22H1540.24V650.43H1529.92zM1642.34 645.22H1647.55V650.43H1642.34zM1524.81 650.33H1535.13V655.54H1524.81zM1647.45 650.33H1652.66V655.54H1647.45zM1519.70 655.44H1530.02V660.65H1519.70zM1652.56 655.44H1657.77V660.65H1652.56zM1519.70 660.55H1524.91V665.76H1519.70zM1652.56 660.55H1657.77V665.76H1652.56zM1514.59 665.66H1519.80V670.87H1514.59zM1657.67 665.66H1662.88V670.87H1657.67zM1509.48 670.77H1514.69V675.98H1509.48zM1657.67 670.77H1662.88V675.98H1657.67zM1509.48 675.88H1514.69V681.09H1509.48zM1657.67 675.88H1662.88V681.09H1657.67zM1504.37 680.99H1509.58V686.20H1504.37zM1662.78 680.99H1667.99V686.20H1662.78zM1504.37 686.10H1509.58V691.31H1504.37zM1662.78 686.10H1667.99V691.31H1662.78zM1504.37 691.21H1509.58V696.42H1504.37zM1662.78 691.21H1667.99V696.42H1662.78zM1504.37 696.32H1509.58V701.53H1504.37zM1657.67 696.32H1662.88V701.53H1657.67zM1504.37 701.43H1509.58V706.64H1504.37zM1657.67 701.43H1662.88V706.64H1657.67zM1504.37 706.54H1509.58V711.75H1504.37zM1657.67 706.54H1662.88V711.75H1657.67zM1504.37 711.65H1509.58V716.86H1504.37zM1657.67 711.65H1662.88V716.86H1657.67zM1504.37 716.76H1509.58V721.97H1504.37zM1652.56 716.76H1657.77V721.97H1652.56zM1504.37 721.87H1509.58V727.08H1504.37zM1652.56 721.87H1657.77V727.08H1652.56zM1504.37 726.98H1509.58V732.19H1504.37zM1647.45 726.98H1652.66V732.19H1647.45zM1509.48 732.09H1514.69V737.30H1509.48zM1642.34 732.09H1647.55V737.30H1642.34zM1509.48 737.20H1519.80V742.41H1509.48zM1637.23 737.20H1642.44V742.41H1637.23zM1514.59 742.31H1519.80V747.52H1514.59zM1632.12 742.31H1637.33V747.52H1632.12zM1519.70 747.42H1524.91V752.63H1519.70zM1627.01 747.42H1632.22V752.63H1627.01zM1524.81 752.53H1535.13V757.74H1524.81zM1616.79 752.53H1627.11V757.74H1616.79zM1535.03 757.64H1545.35V762.85H1535.03zM1606.57 757.64H1616.89V762.85H1606.57zM1545.25 762.75H1560.68V767.96H1545.25zM1586.13 762.75H1606.67V767.96H1586.13zM1565.69 767.86H1581.12V773.07H1565.69z"/><path fill="#eff5f5" d="M1570.80 629.89H1616.89V635.10H1570.80zM1555.47 635.00H1565.79V640.21H1555.47zM1621.90 635.00H1627.11V640.21H1621.90zM1545.25 640.11H1555.57V645.32H1545.25zM1632.12 640.11H1637.33V645.32H1632.12zM1540.14 645.22H1545.35V650.43H1540.14zM1637.23 645.22H1642.44V650.43H1637.23zM1535.03 650.33H1540.24V655.54H1535.03zM1642.34 650.33H1647.55V655.54H1642.34zM1647.45 655.44H1652.66V660.65H1647.45zM1524.81 660.55H1530.02V665.76H1524.81zM1519.70 665.66H1524.91V670.87H1519.70zM1652.56 665.66H1657.77V670.87H1652.56zM1514.59 670.77H1519.80V675.98H1514.59zM1652.56 670.77H1657.77V675.98H1652.56zM1514.59 675.88H1519.80V681.09H1514.59zM1509.48 680.99H1514.69V686.20H1509.48zM1657.67 680.99H1662.88V686.20H1657.67zM1509.48 686.10H1514.69V691.31H1509.48zM1657.67 686.10H1662.88V691.31H1657.67zM1509.48 691.21H1514.69V696.42H1509.48zM1657.67 691.21H1662.88V696.42H1657.67zM1652.56 706.54H1657.77V711.75H1652.56zM1652.56 711.65H1657.77V716.86H1652.56zM1509.48 716.76H1514.69V721.97H1509.48zM1647.45 716.76H1652.66V721.97H1647.45zM1509.48 721.87H1514.69V727.08H1509.48zM1647.45 721.87H1652.66V727.08H1647.45zM1509.48 726.98H1514.69V732.19H1509.48zM1642.34 726.98H1647.55V732.19H1642.34zM1514.59 732.09H1519.80V737.30H1514.59zM1637.23 732.09H1642.44V737.30H1637.23zM1632.12 737.20H1637.33V742.41H1632.12zM1519.70 742.31H1524.91V747.52H1519.70zM1627.01 742.31H1632.22V747.52H1627.01zM1524.81 747.42H1535.13V752.63H1524.81zM1621.90 747.42H1627.11V752.63H1621.90zM1535.03 752.53H1540.24V757.74H1535.03zM1611.68 752.53H1616.89V757.74H1611.68zM1545.25 757.64H1555.57V762.85H1545.25zM1596.35 757.64H1606.67V762.85H1596.35zM1560.58 762.75H1586.23V767.96H1560.58z"/><path fill="#e9f1f1" d="M1565.69 635.00H1576.01V640.21H1565.69zM1611.68 635.00H1622.00V640.21H1611.68zM1555.47 640.11H1560.68V645.32H1555.47zM1621.90 640.11H1632.22V645.32H1621.90zM1545.25 645.22H1550.46V650.43H1545.25zM1632.12 645.22H1637.33V650.43H1632.12zM1637.23 650.33H1642.44V655.54H1637.23zM1529.92 655.44H1535.13V660.65H1529.92zM1642.34 655.44H1647.55V660.65H1642.34zM1647.45 660.55H1652.66V665.76H1647.45zM1647.45 665.66H1652.66V670.87H1647.45zM1519.70 670.77H1524.91V675.98H1519.70zM1652.56 675.88H1657.77V681.09H1652.56zM1514.59 680.99H1519.80V686.20H1514.59zM1652.56 680.99H1657.77V686.20H1652.56zM1652.56 686.10H1657.77V691.31H1652.56zM1652.56 691.21H1657.77V696.42H1652.56zM1509.48 696.32H1514.69V701.53H1509.48zM1652.56 696.32H1657.77V701.53H1652.56zM1509.48 701.43H1514.69V706.64H1509.48zM1652.56 701.43H1657.77V706.64H1652.56zM1509.48 706.54H1514.69V711.75H1509.48zM1509.48 711.65H1514.69V716.86H1509.48zM1647.45 711.65H1652.66V716.86H1647.45zM1642.34 721.87H1647.55V727.08H1642.34zM1514.59 726.98H1519.80V732.19H1514.59zM1637.23 726.98H1642.44V732.19H1637.23zM1519.70 737.20H1524.91V742.41H1519.70zM1627.01 737.20H1632.22V742.41H1627.01zM1524.81 742.31H1530.02V747.52H1524.81zM1621.90 742.31H1627.11V747.52H1621.90zM1535.03 747.42H1540.24V752.63H1535.03zM1616.79 747.42H1622.00V752.63H1616.79zM1540.14 752.53H1545.35V757.74H1540.14zM1601.46 752.53H1611.78V757.74H1601.46zM1555.47 757.64H1570.90V762.85H1555.47zM1581.02 757.64H1596.45V762.85H1581.02z"/><path fill="#e4eeee" d="M1575.91 635.00H1611.78V640.21H1575.91zM1560.58 640.11H1565.79V645.32H1560.58zM1616.79 640.11H1622.00V645.32H1616.79zM1550.36 645.22H1555.57V650.43H1550.36zM1627.01 645.22H1632.22V650.43H1627.01zM1540.14 650.33H1545.35V655.54H1540.14zM1535.03 655.44H1540.24V660.65H1535.03zM1637.23 655.44H1642.44V660.65H1637.23zM1529.92 660.55H1535.13V665.76H1529.92zM1642.34 660.55H1647.55V665.76H1642.34zM1524.81 665.66H1530.02V670.87H1524.81zM1647.45 670.77H1652.66V675.98H1647.45zM1519.70 675.88H1524.91V681.09H1519.70zM1514.59 686.10H1519.80V691.31H1514.59zM1514.59 691.21H1519.80V696.42H1514.59zM1647.45 701.43H1652.66V706.64H1647.45zM1647.45 706.54H1652.66V711.75H1647.45zM1514.59 716.76H1519.80V721.97H1514.59zM1642.34 716.76H1647.55V721.97H1642.34zM1514.59 721.87H1519.80V727.08H1514.59zM1519.70 732.09H1524.91V737.30H1519.70zM1632.12 732.09H1637.33V737.30H1632.12zM1524.81 737.20H1530.02V742.41H1524.81zM1529.92 742.31H1535.13V747.52H1529.92zM1616.79 742.31H1622.00V747.52H1616.79zM1611.68 747.42H1616.89V752.63H1611.68zM1545.25 752.53H1555.57V757.74H1545.25zM1596.35 752.53H1601.56V757.74H1596.35zM1570.80 757.64H1581.12V762.85H1570.80z"/><path fill="#deeaea" d="M1565.69 640.11H1570.90V645.32H1565.69zM1611.68 640.11H1616.89V645.32H1611.68zM1555.47 645.22H1560.68V650.43H1555.47zM1621.90 645.22H1627.11V650.43H1621.90zM1545.25 650.33H1550.46V655.54H1545.25zM1632.12 650.33H1637.33V655.54H1632.12zM1529.92 665.66H1535.13V670.87H1529.92zM1642.34 665.66H1647.55V670.87H1642.34zM1524.81 670.77H1530.02V675.98H1524.81zM1647.45 675.88H1652.66V681.09H1647.45zM1519.70 680.99H1524.91V686.20H1519.70zM1647.45 680.99H1652.66V686.20H1647.45zM1647.45 686.10H1652.66V691.31H1647.45zM1647.45 691.21H1652.66V696.42H1647.45zM1514.59 696.32H1519.80V701.53H1514.59zM1647.45 696.32H1652.66V701.53H1647.45zM1514.59 701.43H1519.80V706.64H1514.59zM1514.59 706.54H1519.80V711.75H1514.59zM1514.59 711.65H1519.80V716.86H1514.59zM1642.34 711.65H1647.55V716.86H1642.34zM1519.70 721.87H1524.91V727.08H1519.70zM1637.23 721.87H1642.44V727.08H1637.23zM1519.70 726.98H1524.91V732.19H1519.70zM1632.12 726.98H1637.33V732.19H1632.12zM1524.81 732.09H1530.02V737.30H1524.81zM1627.01 732.09H1632.22V737.30H1627.01zM1529.92 737.20H1535.13V742.41H1529.92zM1621.90 737.20H1627.11V742.41H1621.90zM1535.03 742.31H1540.24V747.52H1535.03zM1540.14 747.42H1545.35V752.63H1540.14zM1606.57 747.42H1611.78V752.63H1606.57zM1555.47 752.53H1565.79V757.74H1555.47zM1586.13 752.53H1596.45V757.74H1586.13z"/><path fill="#d9e7e7" d="M1570.80 640.11H1581.12V645.32H1570.80zM1606.57 640.11H1611.78V645.32H1606.57zM1627.01 650.33H1632.22V655.54H1627.01zM1540.14 655.44H1545.35V660.65H1540.14zM1632.12 655.44H1637.33V660.65H1632.12zM1535.03 660.55H1540.24V665.76H1535.03zM1637.23 660.55H1642.44V665.76H1637.23zM1642.34 670.77H1647.55V675.98H1642.34zM1524.81 675.88H1530.02V681.09H1524.81zM1519.70 686.10H1524.91V691.31H1519.70zM1642.34 706.54H1647.55V711.75H1642.34zM1519.70 716.76H1524.91V721.97H1519.70zM1637.23 716.76H1642.44V721.97H1637.23zM1611.68 742.31H1616.89V747.52H1611.68zM1545.25 747.42H1550.46V752.63H1545.25zM1601.46 747.42H1606.67V752.63H1601.46zM1565.69 752.53H1586.23V757.74H1565.69z"/><path fill="#d3e3e3" d="M1581.02 640.11H1606.67V645.32H1581.02zM1560.58 645.22H1565.79V650.43H1560.58zM1616.79 645.22H1622.00V650.43H1616.79zM1550.36 650.33H1555.57V655.54H1550.36zM1637.23 665.66H1642.44V670.87H1637.23zM1529.92 670.77H1535.13V675.98H1529.92zM1642.34 675.88H1647.55V681.09H1642.34zM1519.70 691.21H1524.91V696.42H1519.70zM1519.70 696.32H1524.91V701.53H1519.70zM1642.34 696.32H1647.55V701.53H1642.34zM1642.34 701.43H1647.55V706.64H1642.34zM1519.70 706.54H1524.91V711.75H1519.70zM1519.70 711.65H1524.91V716.86H1519.70zM1632.12 721.87H1637.33V727.08H1632.12zM1524.81 726.98H1530.02V732.19H1524.81zM1627.01 726.98H1632.22V732.19H1627.01zM1529.92 732.09H1535.13V737.30H1529.92zM1621.90 732.09H1627.11V737.30H1621.90zM1535.03 737.20H1540.24V742.41H1535.03zM1616.79 737.20H1622.00V742.41H1616.79zM1540.14 742.31H1545.35V747.52H1540.14zM1606.57 742.31H1611.78V747.52H1606.57zM1550.36 747.42H1555.57V752.63H1550.36zM1596.35 747.42H1601.56V752.63H1596.35z"/><path fill="#cee0e0" d="M1565.69 645.22H1570.90V650.43H1565.69zM1611.68 645.22H1616.89V650.43H1611.68zM1555.47 650.33H1560.68V655.54H1555.47zM1621.90 650.33H1627.11V655.54H1621.90zM1545.25 655.44H1550.46V660.65H1545.25zM1627.01 655.44H1632.22V660.65H1627.01zM1540.14 660.55H1545.35V665.76H1540.14zM1632.12 660.55H1637.33V665.76H1632.12zM1535.03 665.66H1540.24V670.87H1535.03zM1524.81 680.99H1530.02V686.20H1524.81zM1642.34 680.99H1647.55V686.20H1642.34zM1642.34 686.10H1647.55V691.31H1642.34zM1642.34 691.21H1647.55V696.42H1642.34zM1519.70 701.43H1524.91V706.64H1519.70zM1637.23 711.65H1642.44V716.86H1637.23zM1524.81 721.87H1530.02V727.08H1524.81zM1545.25 742.31H1550.46V747.52H1545.25zM1555.47 747.42H1560.68V752.63H1555.47zM1591.24 747.42H1596.45V752.63H1591.24z"/><path fill="#c9dcdc" d="M1570.80 645.22H1576.01V650.43H1570.80zM1606.57 645.22H1611.78V650.43H1606.57zM1637.23 670.77H1642.44V675.98H1637.23zM1529.92 675.88H1535.13V681.09H1529.92zM1524.81 686.10H1530.02V691.31H1524.81zM1637.23 706.54H1642.44V711.75H1637.23zM1524.81 716.76H1530.02V721.97H1524.81zM1632.12 716.76H1637.33V721.97H1632.12zM1529.92 726.98H1535.13V732.19H1529.92zM1540.14 737.20H1545.35V742.41H1540.14zM1611.68 737.20H1616.89V742.41H1611.68zM1601.46 742.31H1606.67V747.52H1601.46zM1560.58 747.42H1570.90V752.63H1560.58zM1581.02 747.42H1591.34V752.63H1581.02z"/><path fill="#c3d9d9" d="M1575.91 645.22H1581.12V650.43H1575.91zM1601.46 645.22H1606.67V650.43H1601.46zM1560.58 650.33H1565.79V655.54H1560.58zM1616.79 650.33H1622.00V655.54H1616.79zM1550.36 655.44H1555.57V660.65H1550.36zM1632.12 665.66H1637.33V670.87H1632.12zM1535.03 670.77H1540.24V675.98H1535.03zM1637.23 675.88H1642.44V681.09H1637.23zM1524.81 691.21H1530.02V696.42H1524.81zM1637.23 701.43H1642.44V706.64H1637.23zM1524.81 711.65H1530.02V716.86H1524.81zM1627.01 721.87H1632.22V727.08H1627.01zM1621.90 726.98H1627.11V732.19H1621.90zM1535.03 732.09H1540.24V737.30H1535.03zM1616.79 732.09H1622.00V737.30H1616.79zM1550.36 742.31H1555.57V747.52H1550.36zM1570.80 747.42H1581.12V752.63H1570.80z"/><path fill="#bed5d5" d="M1581.02 645.22H1601.56V650.43H1581.02zM1611.68 650.33H1616.89V655.54H1611.68zM1621.90 655.44H1627.11V660.65H1621.90zM1545.25 660.55H1550.46V665.76H1545.25zM1627.01 660.55H1632.22V665.76H1627.01zM1540.14 665.66H1545.35V670.87H1540.14zM1529.92 680.99H1535.13V686.20H1529.92zM1637.23 680.99H1642.44V686.20H1637.23zM1637.23 686.10H1642.44V691.31H1637.23zM1637.23 691.21H1642.44V696.42H1637.23zM1524.81 696.32H1530.02V701.53H1524.81zM1637.23 696.32H1642.44V701.53H1637.23zM1524.81 701.43H1530.02V706.64H1524.81zM1524.81 706.54H1530.02V711.75H1524.81zM1632.12 711.65H1637.33V716.86H1632.12zM1529.92 721.87H1535.13V727.08H1529.92zM1545.25 737.20H1550.46V742.41H1545.25zM1606.57 737.20H1611.78V742.41H1606.57zM1555.47 742.31H1560.68V747.52H1555.47zM1596.35 742.31H1601.56V747.52H1596.35z"/><path fill="#b8d2d2" d="M1565.69 650.33H1570.90V655.54H1565.69zM1555.47 655.44H1560.68V660.65H1555.47zM1632.12 670.77H1637.33V675.98H1632.12zM1627.01 716.76H1632.22V721.97H1627.01zM1535.03 726.98H1540.24V732.19H1535.03zM1540.14 732.09H1545.35V737.30H1540.14zM1611.68 732.09H1616.89V737.30H1611.68zM1560.58 742.31H1565.79V747.52H1560.58zM1591.24 742.31H1596.45V747.52H1591.24z"/><path fill="#b3cece" d="M1570.80 650.33H1576.01V655.54H1570.80zM1606.57 650.33H1611.78V655.54H1606.57zM1616.79 655.44H1622.00V660.65H1616.79zM1550.36 660.55H1555.57V665.76H1550.36zM1627.01 665.66H1632.22V670.87H1627.01zM1535.03 675.88H1540.24V681.09H1535.03zM1529.92 686.10H1535.13V691.31H1529.92zM1632.12 706.54H1637.33V711.75H1632.12zM1529.92 716.76H1535.13V721.97H1529.92zM1621.90 721.87H1627.11V727.08H1621.90zM1616.79 726.98H1622.00V732.19H1616.79zM1601.46 737.20H1606.67V742.41H1601.46zM1565.69 742.31H1570.90V747.52H1565.69zM1586.13 742.31H1591.34V747.52H1586.13z"/><path fill="#a8c7c7" d="M1575.91 650.33H1581.12V655.54H1575.91zM1596.35 650.33H1601.56V655.54H1596.35zM1611.68 655.44H1616.89V660.65H1611.68zM1535.03 680.99H1540.24V686.20H1535.03zM1632.12 680.99H1637.33V686.20H1632.12zM1529.92 696.32H1535.13V701.53H1529.92zM1632.12 696.32H1637.33V701.53H1632.12zM1529.92 701.43H1535.13V706.64H1529.92zM1529.92 706.54H1535.13V711.75H1529.92zM1627.01 711.65H1632.22V716.86H1627.01zM1535.03 721.87H1540.24V727.08H1535.03zM1540.14 726.98H1545.35V732.19H1540.14zM1545.25 732.09H1550.46V737.30H1545.25zM1606.57 732.09H1611.78V737.30H1606.57zM1596.35 737.20H1601.56V742.41H1596.35z"/><path fill="#a4c3c4" d="M1581.02 650.33H1596.45V655.54H1581.02zM1627.01 670.77H1632.22V675.98H1627.01zM1632.12 686.10H1637.33V691.31H1632.12zM1632.12 691.21H1637.33V696.42H1632.12zM1621.90 716.76H1627.11V721.97H1621.90zM1555.47 737.20H1560.68V742.41H1555.47z"/><path fill="#adcbcb" d="M1601.46 650.33H1606.67V655.54H1601.46zM1560.58 655.44H1565.79V660.65H1560.58zM1621.90 660.55H1627.11V665.76H1621.90zM1545.25 665.66H1550.46V670.87H1545.25zM1540.14 670.77H1545.35V675.98H1540.14zM1632.12 675.88H1637.33V681.09H1632.12zM1529.92 691.21H1535.13V696.42H1529.92zM1632.12 701.43H1637.33V706.64H1632.12zM1529.92 711.65H1535.13V716.86H1529.92zM1550.36 737.20H1555.57V742.41H1550.36zM1570.80 742.31H1586.23V747.52H1570.80z"/><path fill="#a0bec0" d="M1565.69 655.44H1570.90V660.65H1565.69zM1555.47 660.55H1560.68V665.76H1555.47zM1616.79 660.55H1622.00V665.76H1616.79zM1621.90 665.66H1627.11V670.87H1621.90zM1540.14 675.88H1545.35V681.09H1540.14zM1535.03 686.10H1540.24V691.31H1535.03zM1627.01 706.54H1632.22V711.75H1627.01zM1535.03 716.76H1540.24V721.97H1535.03zM1616.79 721.87H1622.00V727.08H1616.79zM1611.68 726.98H1616.89V732.19H1611.68zM1560.58 737.20H1565.79V742.41H1560.58zM1591.24 737.20H1596.45V742.41H1591.24z"/><path fill="#99b4b9" d="M1570.80 655.44H1576.01V660.65H1570.80zM1535.03 691.21H1540.24V696.42H1535.03zM1627.01 701.43H1632.22V706.64H1627.01zM1535.03 711.65H1540.24V716.86H1535.03zM1540.14 721.87H1545.35V727.08H1540.14zM1545.25 726.98H1550.46V732.19H1545.25zM1565.69 737.20H1570.90V742.41H1565.69zM1581.02 737.20H1586.23V742.41H1581.02z"/><path fill="#92abb2" d="M1575.91 655.44H1581.12V660.65H1575.91zM1596.35 655.44H1601.56V660.65H1596.35zM1616.79 665.66H1622.00V670.87H1616.79zM1627.01 686.10H1632.22V691.31H1627.01zM1627.01 691.21H1632.22V696.42H1627.01zM1627.01 696.32H1632.22V701.53H1627.01zM1535.03 701.43H1540.24V706.64H1535.03zM1616.79 716.76H1622.00V721.97H1616.79zM1611.68 721.87H1616.89V727.08H1611.68zM1555.47 732.09H1560.68V737.30H1555.47zM1596.35 732.09H1601.56V737.30H1596.35z"/><path fill="#8fa6af" d="M1581.02 655.44H1596.45V660.65H1581.02zM1555.47 665.66H1560.68V670.87H1555.47zM1545.25 675.88H1550.46V681.09H1545.25zM1540.14 716.76H1545.35V721.97H1540.14z"/><path fill="#96b0b6" d="M1601.46 655.44H1606.67V660.65H1601.46zM1560.58 660.55H1565.79V665.76H1560.58zM1611.68 660.55H1616.89V665.76H1611.68zM1621.90 670.77H1627.11V675.98H1621.90zM1540.14 680.99H1545.35V686.20H1540.14zM1627.01 680.99H1632.22V686.20H1627.01zM1535.03 696.32H1540.24V701.53H1535.03zM1535.03 706.54H1540.24V711.75H1535.03zM1621.90 711.65H1627.11V716.86H1621.90zM1606.57 726.98H1611.78V732.19H1606.57zM1570.80 737.20H1581.12V742.41H1570.80z"/><path fill="#9db9bd" d="M1606.57 655.44H1611.78V660.65H1606.57zM1550.36 665.66H1555.57V670.87H1550.36zM1545.25 670.77H1550.46V675.98H1545.25zM1627.01 675.88H1632.22V681.09H1627.01zM1550.36 732.09H1555.57V737.30H1550.36zM1601.46 732.09H1606.67V737.30H1601.46zM1586.13 737.20H1591.34V742.41H1586.13z"/><path fill="#8ba1ab" d="M1565.69 660.55H1570.90V665.76H1565.69zM1606.57 660.55H1611.78V665.76H1606.57zM1550.36 670.77H1555.57V675.98H1550.36zM1621.90 675.88H1627.11V681.09H1621.90zM1540.14 686.10H1545.35V691.31H1540.14zM1621.90 706.54H1627.11V711.75H1621.90zM1545.25 721.87H1550.46V727.08H1545.25zM1550.36 726.98H1555.57V732.19H1550.36zM1560.58 732.09H1565.79V737.30H1560.58zM1591.24 732.09H1596.45V737.30H1591.24z"/><path fill="#8498a4" d="M1570.80 660.55H1576.01V665.76H1570.80zM1611.68 665.66H1616.89V670.87H1611.68zM1616.79 670.77H1622.00V675.98H1616.79zM1621.90 680.99H1627.11V686.20H1621.90zM1540.14 691.21H1545.35V696.42H1540.14zM1621.90 701.43H1627.11V706.64H1621.90zM1616.79 711.65H1622.00V716.86H1616.79zM1565.69 732.09H1570.90V737.30H1565.69zM1586.13 732.09H1591.34V737.30H1586.13z"/><path fill="#7e8e9d" d="M1575.91 660.55H1581.12V665.76H1575.91zM1596.35 660.55H1601.56V665.76H1596.35zM1555.47 670.77H1560.68V675.98H1555.47zM1550.36 675.88H1555.57V681.09H1550.36zM1621.90 686.10H1627.11V691.31H1621.90zM1621.90 691.21H1627.11V696.42H1621.90zM1621.90 696.32H1627.11V701.53H1621.90zM1540.14 701.43H1545.35V706.64H1540.14zM1545.25 716.76H1550.46V721.97H1545.25zM1596.35 726.98H1601.56V732.19H1596.35z"/><path fill="#778496" d="M1581.02 660.55H1596.45V665.76H1581.02zM1565.69 665.66H1570.90V670.87H1565.69zM1606.57 665.66H1611.78V670.87H1606.57zM1616.79 675.88H1622.00V681.09H1616.79zM1545.25 686.10H1550.46V691.31H1545.25zM1616.79 706.54H1622.00V711.75H1616.79zM1560.58 726.98H1565.79V732.19H1560.58z"/><path fill="#8193a1" d="M1601.46 660.55H1606.67V665.76H1601.46zM1560.58 665.66H1565.79V670.87H1560.58zM1545.25 680.99H1550.46V686.20H1545.25zM1540.14 696.32H1545.35V701.53H1540.14zM1540.14 706.54H1545.35V711.75H1540.14zM1611.68 716.76H1616.89V721.97H1611.68zM1606.57 721.87H1611.78V727.08H1606.57zM1555.47 726.98H1560.68V732.19H1555.47zM1570.80 732.09H1586.23V737.30H1570.80z"/><path fill="#6c768c" d="M1570.80 665.66H1576.01V670.87H1570.80zM1601.46 665.66H1606.67V670.87H1601.46zM1560.58 670.77H1565.79V675.98H1560.58zM1550.36 680.99H1555.57V686.20H1550.36zM1545.25 706.54H1550.46V711.75H1545.25zM1550.36 716.76H1555.57V721.97H1550.36zM1555.47 721.87H1560.68V727.08H1555.47zM1565.69 726.98H1570.90V732.19H1565.69zM1586.13 726.98H1591.34V732.19H1586.13z"/><path fill="#626881" d="M1575.91 665.66H1581.12V670.87H1575.91zM1550.36 686.10H1555.57V691.31H1550.36zM1611.68 706.54H1616.89V711.75H1611.68zM1550.36 711.65H1555.57V716.86H1550.36zM1560.58 721.87H1565.79V727.08H1560.58z"/><path fill="#5e637e" d="M1581.02 665.66H1596.45V670.87H1581.02zM1565.69 670.77H1570.90V675.98H1565.69zM1601.46 716.76H1606.67V721.97H1601.46z"/><path fill="#656c85" d="M1596.35 665.66H1601.56V670.87H1596.35zM1606.57 670.77H1611.78V675.98H1606.57zM1611.68 675.88H1616.89V681.09H1611.68zM1616.79 691.21H1622.00V696.42H1616.79zM1596.35 721.87H1601.56V727.08H1596.35zM1575.91 726.98H1581.12V732.19H1575.91z"/><path fill="#545574" d="M1570.80 670.77H1576.01V675.98H1570.80zM1606.57 675.88H1611.78V681.09H1606.57zM1611.68 686.10H1616.89V691.31H1611.68zM1550.36 696.32H1555.57V701.53H1550.36zM1550.36 701.43H1555.57V706.64H1550.36z"/><path fill="#494966" d="M1575.91 670.77H1581.12V675.98H1575.91zM1565.69 675.88H1570.90V681.09H1565.69zM1555.47 686.10H1560.68V691.31H1555.47zM1601.46 711.65H1606.67V716.86H1601.46z"/><path fill="#42425c" d="M1581.02 670.77H1591.34V675.98H1581.02zM1606.57 701.43H1611.78V706.64H1606.57zM1555.47 706.54H1560.68V711.75H1555.47zM1591.24 716.76H1596.45V721.97H1591.24z"/><path fill="#464661" d="M1591.24 670.77H1596.45V675.98H1591.24zM1601.46 675.88H1606.67V681.09H1601.46zM1560.58 680.99H1565.79V686.20H1560.58zM1606.57 680.99H1611.78V686.20H1606.57z"/><path fill="#4d4d6b" d="M1596.35 670.77H1601.56V675.98H1596.35zM1606.57 706.54H1611.78V711.75H1606.57zM1555.47 711.65H1560.68V716.86H1555.47zM1560.58 716.76H1565.79V721.97H1560.58zM1596.35 716.76H1601.56V721.97H1596.35zM1575.91 721.87H1586.23V727.08H1575.91z"/><path fill="#575977" d="M1601.46 670.77H1606.67V675.98H1601.46zM1560.58 675.88H1565.79V681.09H1560.58zM1555.47 680.99H1560.68V686.20H1555.47zM1550.36 691.21H1555.57V696.42H1550.36zM1611.68 701.43H1616.89V706.64H1611.68zM1550.36 706.54H1555.57V711.75H1550.36zM1565.69 721.87H1570.90V727.08H1565.69z"/><path fill="#738093" d="M1611.68 670.77H1616.89V675.98H1611.68zM1545.25 711.65H1550.46V716.86H1545.25zM1601.46 721.87H1606.67V727.08H1601.46zM1591.24 726.98H1596.45V732.19H1591.24z"/><path fill="#697188" d="M1555.47 675.88H1560.68V681.09H1555.47zM1616.79 686.10H1622.00V691.31H1616.79zM1545.25 696.32H1550.46V701.53H1545.25zM1616.79 696.32H1622.00V701.53H1616.79zM1545.25 701.43H1550.46V706.64H1545.25zM1570.80 726.98H1576.01V732.19H1570.80zM1581.02 726.98H1586.23V732.19H1581.02z"/><path fill="#3b3b52" d="M1570.80 675.88H1576.01V681.09H1570.80zM1606.57 686.10H1611.78V691.31H1606.57zM1555.47 696.32H1560.68V701.53H1555.47zM1606.57 696.32H1611.78V701.53H1606.57zM1555.47 701.43H1560.68V706.64H1555.47zM1560.58 711.65H1565.79V716.86H1560.58z"/><path fill="#313144" d="M1575.91 675.88H1581.12V681.09H1575.91z"/><path fill="#2a2a3a" d="M1581.02 675.88H1591.34V681.09H1581.02zM1601.46 686.10H1606.67V691.31H1601.46zM1560.58 691.21H1565.79V696.42H1560.58zM1601.46 701.43H1606.67V706.64H1601.46zM1591.24 711.65H1596.45V716.86H1591.24z"/><path fill="#2d2d3f" d="M1591.24 675.88H1596.45V681.09H1591.24zM1560.58 706.54H1565.79V711.75H1560.58zM1565.69 711.65H1570.90V716.86H1565.69z"/><path fill="#38384e" d="M1596.35 675.88H1601.56V681.09H1596.35zM1606.57 691.21H1611.78V696.42H1606.57zM1601.46 706.54H1606.67V711.75H1601.46zM1596.35 711.65H1601.56V716.86H1596.35zM1570.80 716.76H1576.01V721.97H1570.80zM1586.13 716.76H1591.34V721.97H1586.13z"/><path fill="#343449" d="M1565.69 680.99H1570.90V686.20H1565.69zM1601.46 680.99H1606.67V686.20H1601.46zM1560.58 686.10H1565.79V691.31H1560.58zM1575.91 716.76H1586.23V721.97H1575.91z"/><path fill="#232331" d="M1570.80 680.99H1576.01V686.20H1570.80zM1565.69 686.10H1570.90V691.31H1565.69zM1601.46 691.21H1606.67V696.42H1601.46zM1601.46 696.32H1606.67V701.53H1601.46zM1570.80 711.65H1576.01V716.86H1570.80z"/><path fill="#181822" d="M1575.91 680.99H1581.12V686.20H1575.91zM1596.35 686.10H1601.56V691.31H1596.35zM1565.69 691.21H1570.90V696.42H1565.69zM1596.35 701.43H1601.56V706.64H1596.35zM1591.24 706.54H1596.45V711.75H1591.24z"/><path fill="#15151d" d="M1581.02 680.99H1591.34V686.20H1581.02zM1565.69 701.43H1570.90V706.64H1565.69z"/><path fill="#1c1c27" d="M1591.24 680.99H1596.45V686.20H1591.24zM1575.91 711.65H1586.23V716.86H1575.91z"/><path fill="#262635" d="M1596.35 680.99H1601.56V686.20H1596.35zM1560.58 696.32H1565.79V701.53H1560.58zM1560.58 701.43H1565.79V706.64H1560.58zM1596.35 706.54H1601.56V711.75H1596.35z"/><path fill="#5b5e7b" d="M1611.68 680.99H1616.89V686.20H1611.68zM1606.57 711.65H1611.78V716.86H1606.57zM1555.47 716.76H1560.68V721.97H1555.47zM1591.24 721.87H1596.45V727.08H1591.24z"/><path fill="#707b8f" d="M1616.79 680.99H1622.00V686.20H1616.79zM1545.25 691.21H1550.46V696.42H1545.25zM1616.79 701.43H1622.00V706.64H1616.79zM1611.68 711.65H1616.89V716.86H1611.68zM1606.57 716.76H1611.78V721.97H1606.57z"/><path fill="#111118" d="M1570.80 686.10H1576.01V691.31H1570.80zM1596.35 691.21H1601.56V696.42H1596.35zM1565.69 696.32H1570.90V701.53H1565.69zM1596.35 696.32H1601.56V701.53H1596.35zM1570.80 706.54H1576.01V711.75H1570.80z"/><path fill="#0a0a0f" d="M1575.91 686.10H1581.12V691.31H1575.91zM1591.24 686.10H1596.45V691.31H1591.24zM1591.24 701.43H1596.45V706.64H1591.24zM1575.91 706.54H1586.23V711.75H1575.91z"/><path fill="#030305" d="M1581.02 686.10H1586.23V691.31H1581.02zM1591.24 691.21H1596.45V696.42H1591.24zM1570.80 696.32H1576.01V701.53H1570.80zM1591.24 696.32H1596.45V701.53H1591.24z"/><path fill="#07070a" d="M1586.13 686.10H1591.34V691.31H1586.13zM1570.80 691.21H1576.01V696.42H1570.80zM1570.80 701.43H1576.01V706.64H1570.80z"/><path fill="#3f3f57" d="M1555.47 691.21H1560.68V696.42H1555.47zM1565.69 716.76H1570.90V721.97H1565.69z"/><path fill="#000000" d="M1575.91 691.21H1591.34V696.42H1575.91zM1575.91 696.32H1591.34V701.53H1575.91zM1575.91 701.43H1591.34V706.64H1575.91z"/><path fill="#505070" d="M1611.68 691.21H1616.89V696.42H1611.68zM1611.68 696.32H1616.89V701.53H1611.68zM1570.80 721.87H1576.01V727.08H1570.80zM1586.13 721.87H1591.34V727.08H1586.13z"/><path fill="#1f1f2c" d="M1565.69 706.54H1570.90V711.75H1565.69zM1586.13 711.65H1591.34V716.86H1586.13z"/><path fill="#0e0e13" d="M1586.13 706.54H1591.34V711.75H1586.13z"/><path fill="#889ca8" d="M1540.14 711.65H1545.35V716.86H1540.14zM1601.46 726.98H1606.67V732.19H1601.46z"/><path fill="#7a899a" d="M1550.36 721.87H1555.57V727.08H1550.36z"/></g>
<g shape-rendering="crispEdges"><path fill="#ffffff" d="M1754.76 425.49H1765.08V430.70H1754.76zM1805.86 425.49H1816.18V430.70H1805.86zM1744.54 430.60H1749.75V435.81H1744.54zM1821.19 430.60H1826.40V435.81H1821.19zM1734.32 435.71H1739.53V440.92H1734.32zM1831.41 435.71H1836.62V440.92H1831.41zM1724.10 440.82H1729.31V446.03H1724.10zM1836.52 440.82H1841.73V446.03H1836.52zM1718.99 445.93H1724.20V451.14H1718.99zM1713.88 451.04H1719.09V456.25H1713.88zM1846.74 451.04H1851.95V456.25H1846.74zM1851.85 456.15H1857.06V461.36H1851.85zM1703.66 466.37H1708.87V471.58H1703.66zM1856.96 466.37H1862.17V471.58H1856.96zM1698.55 476.59H1703.76V481.80H1698.55zM1698.55 481.70H1703.76V486.91H1698.55zM1698.55 486.81H1703.76V492.02H1698.55zM1698.55 502.14H1703.76V507.35H1698.55zM1698.55 507.25H1703.76V512.46H1698.55zM1856.96 507.25H1862.17V512.46H1856.96zM1698.55 512.36H1703.76V517.57H1698.55zM1851.85 517.47H1857.06V522.68H1851.85zM1703.66 522.58H1708.87V527.79H1703.66zM1708.77 527.69H1713.98V532.90H1708.77zM1846.74 527.69H1851.95V532.90H1846.74zM1841.63 532.80H1846.84V538.01H1841.63zM1836.52 537.91H1841.73V543.12H1836.52zM1724.10 543.02H1729.31V548.23H1724.10zM1826.30 543.02H1831.51V548.23H1826.30zM1729.21 548.13H1734.42V553.34H1729.21zM1821.19 548.13H1826.40V553.34H1821.19zM1739.43 553.24H1749.75V558.45H1739.43zM1805.86 553.24H1816.18V558.45H1805.86zM1759.87 558.35H1795.74V563.56H1759.87z"/><path fill="#fafcfc" d="M1764.98 425.49H1805.96V430.70H1764.98zM1749.65 430.60H1770.19V435.81H1749.65zM1800.75 430.60H1821.29V435.81H1800.75zM1739.43 435.71H1749.75V440.92H1739.43zM1816.08 435.71H1831.51V440.92H1816.08zM1729.21 440.82H1739.53V446.03H1729.21zM1826.30 440.82H1836.62V446.03H1826.30zM1724.10 445.93H1734.42V451.14H1724.10zM1836.52 445.93H1846.84V451.14H1836.52zM1718.99 451.04H1729.31V456.25H1718.99zM1841.63 451.04H1846.84V456.25H1841.63zM1713.88 456.15H1724.20V461.36H1713.88zM1841.63 456.15H1851.95V461.36H1841.63zM1708.77 461.26H1719.09V466.47H1708.77zM1846.74 461.26H1857.06V466.47H1846.74zM1708.77 466.37H1713.98V471.58H1708.77zM1851.85 466.37H1857.06V471.58H1851.85zM1703.66 471.48H1713.98V476.69H1703.66zM1851.85 471.48H1862.17V476.69H1851.85zM1703.66 476.59H1708.87V481.80H1703.66zM1851.85 476.59H1862.17V481.80H1851.85zM1703.66 481.70H1708.87V486.91H1703.66zM1856.96 481.70H1862.17V486.91H1856.96zM1703.66 486.81H1708.87V492.02H1703.66zM1856.96 486.81H1862.17V492.02H1856.96zM1698.55 491.92H1708.87V497.13H1698.55zM1856.96 491.92H1862.17V497.13H1856.96zM1698.55 497.03H1708.87V502.24H1698.55zM1851.85 497.03H1862.17V502.24H1851.85zM1703.66 502.14H1708.87V507.35H1703.66zM1851.85 502.14H1862.17V507.35H1851.85zM1703.66 507.25H1708.87V512.46H1703.66zM1851.85 507.25H1857.06V512.46H1851.85zM1703.66 512.36H1713.98V517.57H1703.66zM1846.74 512.36H1857.06V517.57H1846.74zM1703.66 517.47H1713.98V522.68H1703.66zM1846.74 517.47H1851.95V522.68H1846.74zM1708.77 522.58H1719.09V527.79H1708.77zM1841.63 522.58H1851.95V527.79H1841.63zM1713.88 527.69H1719.09V532.90H1713.88zM1836.52 527.69H1846.84V532.90H1836.52zM1713.88 532.80H1724.20V538.01H1713.88zM1831.41 532.80H1841.73V538.01H1831.41zM1718.99 537.91H1729.31V543.12H1718.99zM1826.30 537.91H1836.62V543.12H1826.30zM1729.21 543.02H1739.53V548.23H1729.21zM1816.08 543.02H1826.40V548.23H1816.08zM1734.32 548.13H1749.75V553.34H1734.32zM1805.86 548.13H1821.29V553.34H1805.86zM1749.65 553.24H1805.96V558.45H1749.65z"/><path fill="#f4f8f8" d="M1770.09 430.60H1800.85V435.81H1770.09zM1749.65 435.71H1765.08V440.92H1749.65zM1805.86 435.71H1816.18V440.92H1805.86zM1739.43 440.82H1749.75V446.03H1739.43zM1816.08 440.82H1826.40V446.03H1816.08zM1734.32 445.93H1739.53V451.14H1734.32zM1826.30 445.93H1836.62V451.14H1826.30zM1729.21 451.04H1734.42V456.25H1729.21zM1831.41 451.04H1841.73V456.25H1831.41zM1724.10 456.15H1729.31V461.36H1724.10zM1836.52 456.15H1841.73V461.36H1836.52zM1718.99 461.26H1724.20V466.47H1718.99zM1841.63 461.26H1846.84V466.47H1841.63zM1713.88 466.37H1719.09V471.58H1713.88zM1846.74 466.37H1851.95V471.58H1846.74zM1713.88 471.48H1719.09V476.69H1713.88zM1846.74 471.48H1851.95V476.69H1846.74zM1708.77 476.59H1713.98V481.80H1708.77zM1846.74 476.59H1851.95V481.80H1846.74zM1708.77 481.70H1713.98V486.91H1708.77zM1851.85 481.70H1857.06V486.91H1851.85zM1708.77 486.81H1713.98V492.02H1708.77zM1851.85 486.81H1857.06V492.02H1851.85zM1708.77 491.92H1713.98V497.13H1708.77zM1851.85 491.92H1857.06V497.13H1851.85zM1708.77 497.03H1713.98V502.24H1708.77zM1846.74 497.03H1851.95V502.24H1846.74zM1708.77 502.14H1713.98V507.35H1708.77zM1846.74 502.14H1851.95V507.35H1846.74zM1708.77 507.25H1713.98V512.46H1708.77zM1846.74 507.25H1851.95V512.46H1846.74zM1713.88 512.36H1719.09V517.57H1713.88zM1841.63 512.36H1846.84V517.57H1841.63zM1713.88 517.47H1719.09V522.68H1713.88zM1841.63 517.47H1846.84V522.68H1841.63zM1718.99 522.58H1724.20V527.79H1718.99zM1836.52 522.58H1841.73V527.79H1836.52zM1718.99 527.69H1729.31V532.90H1718.99zM1831.41 527.69H1836.62V532.90H1831.41zM1724.10 532.80H1734.42V538.01H1724.10zM1826.30 532.80H1831.51V538.01H1826.30zM1729.21 537.91H1739.53V543.12H1729.21zM1816.08 537.91H1826.40V543.12H1816.08zM1739.43 543.02H1749.75V548.23H1739.43zM1805.86 543.02H1816.18V548.23H1805.86zM1749.65 548.13H1805.96V553.34H1749.65z"/><path fill="#eff5f5" d="M1764.98 435.71H1805.96V440.92H1764.98zM1749.65 440.82H1759.97V446.03H1749.65zM1810.97 440.82H1816.18V446.03H1810.97zM1739.43 445.93H1749.75V451.14H1739.43zM1821.19 445.93H1826.40V451.14H1821.19zM1734.32 451.04H1739.53V456.25H1734.32zM1826.30 451.04H1831.51V456.25H1826.30zM1729.21 456.15H1734.42V461.36H1729.21zM1831.41 456.15H1836.62V461.36H1831.41zM1724.10 461.26H1729.31V466.47H1724.10zM1836.52 461.26H1841.73V466.47H1836.52zM1718.99 466.37H1724.20V471.58H1718.99zM1841.63 466.37H1846.84V471.58H1841.63zM1718.99 471.48H1724.20V476.69H1718.99zM1841.63 471.48H1846.84V476.69H1841.63zM1713.88 476.59H1719.09V481.80H1713.88zM1713.88 481.70H1719.09V486.91H1713.88zM1846.74 481.70H1851.95V486.91H1846.74zM1713.88 486.81H1719.09V492.02H1713.88zM1846.74 486.81H1851.95V492.02H1846.74zM1713.88 491.92H1719.09V497.13H1713.88zM1846.74 491.92H1851.95V497.13H1846.74zM1713.88 497.03H1719.09V502.24H1713.88zM1713.88 502.14H1719.09V507.35H1713.88zM1841.63 502.14H1846.84V507.35H1841.63zM1713.88 507.25H1719.09V512.46H1713.88zM1841.63 507.25H1846.84V512.46H1841.63zM1836.52 512.36H1841.73V517.57H1836.52zM1718.99 517.47H1724.20V522.68H1718.99zM1836.52 517.47H1841.73V522.68H1836.52zM1724.10 522.58H1729.31V527.79H1724.10zM1831.41 522.58H1836.62V527.79H1831.41zM1729.21 527.69H1734.42V532.90H1729.21zM1826.30 527.69H1831.51V532.90H1826.30zM1734.32 532.80H1739.53V538.01H1734.32zM1821.19 532.80H1826.40V538.01H1821.19zM1739.43 537.91H1749.75V543.12H1739.43zM1810.97 537.91H1816.18V543.12H1810.97zM1749.65 543.02H1765.08V548.23H1749.65zM1795.64 543.02H1805.96V548.23H1795.64z"/><path fill="#e9f1f1" d="M1759.87 440.82H1770.19V446.03H1759.87zM1795.64 440.82H1811.07V446.03H1795.64zM1749.65 445.93H1754.86V451.14H1749.65zM1816.08 445.93H1821.29V451.14H1816.08zM1739.43 451.04H1744.64V456.25H1739.43zM1821.19 451.04H1826.40V456.25H1821.19zM1734.32 456.15H1739.53V461.36H1734.32zM1826.30 456.15H1831.51V461.36H1826.30zM1729.21 461.26H1734.42V466.47H1729.21zM1831.41 461.26H1836.62V466.47H1831.41zM1724.10 466.37H1729.31V471.58H1724.10zM1836.52 466.37H1841.73V471.58H1836.52zM1718.99 476.59H1724.20V481.80H1718.99zM1841.63 476.59H1846.84V481.80H1841.63zM1718.99 481.70H1724.20V486.91H1718.99zM1841.63 481.70H1846.84V486.91H1841.63zM1841.63 486.81H1846.84V492.02H1841.63zM1841.63 491.92H1846.84V497.13H1841.63zM1841.63 497.03H1846.84V502.24H1841.63zM1718.99 507.25H1724.20V512.46H1718.99zM1836.52 507.25H1841.73V512.46H1836.52zM1718.99 512.36H1724.20V517.57H1718.99zM1724.10 517.47H1729.31V522.68H1724.10zM1831.41 517.47H1836.62V522.68H1831.41zM1826.30 522.58H1831.51V527.79H1826.30zM1821.19 527.69H1826.40V532.90H1821.19zM1739.43 532.80H1744.64V538.01H1739.43zM1816.08 532.80H1821.29V538.01H1816.08zM1749.65 537.91H1754.86V543.12H1749.65zM1800.75 537.91H1811.07V543.12H1800.75zM1764.98 543.02H1795.74V548.23H1764.98z"/><path fill="#e4eeee" d="M1770.09 440.82H1795.74V446.03H1770.09zM1754.76 445.93H1759.97V451.14H1754.76zM1805.86 445.93H1816.18V451.14H1805.86zM1744.54 451.04H1749.75V456.25H1744.54zM1816.08 451.04H1821.29V456.25H1816.08zM1739.43 456.15H1744.64V461.36H1739.43zM1729.21 466.37H1734.42V471.58H1729.21zM1831.41 466.37H1836.62V471.58H1831.41zM1724.10 471.48H1729.31V476.69H1724.10zM1836.52 471.48H1841.73V476.69H1836.52zM1836.52 476.59H1841.73V481.80H1836.52zM1718.99 486.81H1724.20V492.02H1718.99zM1718.99 491.92H1724.20V497.13H1718.99zM1718.99 497.03H1724.20V502.24H1718.99zM1836.52 497.03H1841.73V502.24H1836.52zM1718.99 502.14H1724.20V507.35H1718.99zM1836.52 502.14H1841.73V507.35H1836.52zM1724.10 512.36H1729.31V517.57H1724.10zM1831.41 512.36H1836.62V517.57H1831.41zM1826.30 517.47H1831.51V522.68H1826.30zM1729.21 522.58H1734.42V527.79H1729.21zM1821.19 522.58H1826.40V527.79H1821.19zM1734.32 527.69H1739.53V532.90H1734.32zM1816.08 527.69H1821.29V532.90H1816.08zM1744.54 532.80H1749.75V538.01H1744.54zM1805.86 532.80H1816.18V538.01H1805.86zM1754.76 537.91H1765.08V543.12H1754.76zM1790.53 537.91H1800.85V543.12H1790.53z"/><path fill="#deeaea" d="M1759.87 445.93H1770.19V451.14H1759.87zM1800.75 445.93H1805.96V451.14H1800.75zM1749.65 451.04H1754.86V456.25H1749.65zM1810.97 451.04H1816.18V456.25H1810.97zM1821.19 456.15H1826.40V461.36H1821.19zM1734.32 461.26H1739.53V466.47H1734.32zM1826.30 461.26H1831.51V466.47H1826.30zM1729.21 471.48H1734.42V476.69H1729.21zM1831.41 471.48H1836.62V476.69H1831.41zM1724.10 476.59H1729.31V481.80H1724.10zM1724.10 481.70H1729.31V486.91H1724.10zM1836.52 481.70H1841.73V486.91H1836.52zM1836.52 486.81H1841.73V492.02H1836.52zM1836.52 491.92H1841.73V497.13H1836.52zM1724.10 502.14H1729.31V507.35H1724.10zM1724.10 507.25H1729.31V512.46H1724.10zM1831.41 507.25H1836.62V512.46H1831.41zM1729.21 517.47H1734.42V522.68H1729.21zM1734.32 522.58H1739.53V527.79H1734.32zM1739.43 527.69H1744.64V532.90H1739.43zM1810.97 527.69H1816.18V532.90H1810.97zM1749.65 532.80H1754.86V538.01H1749.65zM1800.75 532.80H1805.96V538.01H1800.75zM1764.98 537.91H1790.63V543.12H1764.98z"/><path fill="#d9e7e7" d="M1770.09 445.93H1780.41V451.14H1770.09zM1785.42 445.93H1800.85V451.14H1785.42zM1754.76 451.04H1759.97V456.25H1754.76zM1744.54 456.15H1749.75V461.36H1744.54zM1816.08 456.15H1821.29V461.36H1816.08zM1739.43 461.26H1744.64V466.47H1739.43zM1821.19 461.26H1826.40V466.47H1821.19zM1734.32 466.37H1739.53V471.58H1734.32zM1826.30 466.37H1831.51V471.58H1826.30zM1831.41 476.59H1836.62V481.80H1831.41zM1724.10 486.81H1729.31V492.02H1724.10zM1724.10 491.92H1729.31V497.13H1724.10zM1724.10 497.03H1729.31V502.24H1724.10zM1831.41 502.14H1836.62V507.35H1831.41zM1729.21 512.36H1734.42V517.57H1729.21zM1826.30 512.36H1831.51V517.57H1826.30zM1821.19 517.47H1826.40V522.68H1821.19zM1816.08 522.58H1821.29V527.79H1816.08zM1744.54 527.69H1749.75V532.90H1744.54zM1754.76 532.80H1759.97V538.01H1754.76zM1795.64 532.80H1800.85V538.01H1795.64z"/><path fill="#d3e3e3" d="M1780.31 445.93H1785.52V451.14H1780.31zM1759.87 451.04H1765.08V456.25H1759.87zM1805.86 451.04H1811.07V456.25H1805.86zM1749.65 456.15H1754.86V461.36H1749.65zM1729.21 476.59H1734.42V481.80H1729.21zM1831.41 481.70H1836.62V486.91H1831.41zM1831.41 486.81H1836.62V492.02H1831.41zM1831.41 491.92H1836.62V497.13H1831.41zM1831.41 497.03H1836.62V502.24H1831.41zM1729.21 507.25H1734.42V512.46H1729.21zM1826.30 507.25H1831.51V512.46H1826.30zM1734.32 517.47H1739.53V522.68H1734.32zM1739.43 522.58H1744.64V527.79H1739.43zM1805.86 527.69H1811.07V532.90H1805.86zM1759.87 532.80H1765.08V538.01H1759.87zM1790.53 532.80H1795.74V538.01H1790.53z"/><path fill="#cee0e0" d="M1764.98 451.04H1770.19V456.25H1764.98zM1800.75 451.04H1805.96V456.25H1800.75zM1810.97 456.15H1816.18V461.36H1810.97zM1744.54 461.26H1749.75V466.47H1744.54zM1739.43 466.37H1744.64V471.58H1739.43zM1821.19 466.37H1826.40V471.58H1821.19zM1734.32 471.48H1739.53V476.69H1734.32zM1826.30 471.48H1831.51V476.69H1826.30zM1729.21 481.70H1734.42V486.91H1729.21zM1729.21 486.81H1734.42V492.02H1729.21zM1729.21 502.14H1734.42V507.35H1729.21zM1826.30 502.14H1831.51V507.35H1826.30zM1734.32 512.36H1739.53V517.57H1734.32zM1821.19 512.36H1826.40V517.57H1821.19zM1816.08 517.47H1821.29V522.68H1816.08zM1810.97 522.58H1816.18V527.79H1810.97zM1749.65 527.69H1754.86V532.90H1749.65zM1800.75 527.69H1805.96V532.90H1800.75zM1764.98 532.80H1790.63V538.01H1764.98z"/><path fill="#c9dcdc" d="M1770.09 451.04H1775.30V456.25H1770.09zM1795.64 451.04H1800.85V456.25H1795.64zM1754.76 456.15H1759.97V461.36H1754.76zM1816.08 461.26H1821.29V466.47H1816.08zM1826.30 476.59H1831.51V481.80H1826.30zM1729.21 491.92H1734.42V497.13H1729.21zM1729.21 497.03H1734.42V502.24H1729.21zM1826.30 497.03H1831.51V502.24H1826.30zM1739.43 517.47H1744.64V522.68H1739.43zM1744.54 522.58H1749.75V527.79H1744.54zM1754.76 527.69H1759.97V532.90H1754.76z"/><path fill="#c3d9d9" d="M1775.20 451.04H1795.74V456.25H1775.20zM1805.86 456.15H1811.07V461.36H1805.86zM1749.65 461.26H1754.86V466.47H1749.65zM1821.19 471.48H1826.40V476.69H1821.19zM1734.32 476.59H1739.53V481.80H1734.32zM1826.30 481.70H1831.51V486.91H1826.30zM1826.30 486.81H1831.51V492.02H1826.30zM1826.30 491.92H1831.51V497.13H1826.30zM1734.32 507.25H1739.53V512.46H1734.32zM1821.19 507.25H1826.40V512.46H1821.19zM1805.86 522.58H1811.07V527.79H1805.86zM1759.87 527.69H1765.08V532.90H1759.87zM1795.64 527.69H1800.85V532.90H1795.64z"/><path fill="#bed5d5" d="M1759.87 456.15H1765.08V461.36H1759.87zM1800.75 456.15H1805.96V461.36H1800.75zM1810.97 461.26H1816.18V466.47H1810.97zM1744.54 466.37H1749.75V471.58H1744.54zM1816.08 466.37H1821.29V471.58H1816.08zM1739.43 471.48H1744.64V476.69H1739.43zM1734.32 481.70H1739.53V486.91H1734.32zM1734.32 502.14H1739.53V507.35H1734.32zM1739.43 512.36H1744.64V517.57H1739.43zM1816.08 512.36H1821.29V517.57H1816.08zM1744.54 517.47H1749.75V522.68H1744.54zM1810.97 517.47H1816.18V522.68H1810.97zM1749.65 522.58H1754.86V527.79H1749.65zM1764.98 527.69H1770.19V532.90H1764.98zM1790.53 527.69H1795.74V532.90H1790.53z"/><path fill="#b8d2d2" d="M1764.98 456.15H1770.19V461.36H1764.98zM1821.19 476.59H1826.40V481.80H1821.19zM1734.32 486.81H1739.53V492.02H1734.32zM1734.32 491.92H1739.53V497.13H1734.32zM1734.32 497.03H1739.53V502.24H1734.32zM1821.19 502.14H1826.40V507.35H1821.19zM1754.76 522.58H1759.97V527.79H1754.76zM1800.75 522.58H1805.96V527.79H1800.75zM1770.09 527.69H1790.63V532.90H1770.09z"/><path fill="#b3cece" d="M1770.09 456.15H1775.30V461.36H1770.09zM1795.64 456.15H1800.85V461.36H1795.64zM1754.76 461.26H1759.97V466.47H1754.76zM1805.86 461.26H1811.07V466.47H1805.86zM1816.08 471.48H1821.29V476.69H1816.08zM1739.43 476.59H1744.64V481.80H1739.43zM1821.19 481.70H1826.40V486.91H1821.19zM1821.19 497.03H1826.40V502.24H1821.19zM1739.43 507.25H1744.64V512.46H1739.43zM1816.08 507.25H1821.29V512.46H1816.08zM1805.86 517.47H1811.07V522.68H1805.86z"/><path fill="#adcbcb" d="M1775.20 456.15H1795.74V461.36H1775.20zM1749.65 466.37H1754.86V471.58H1749.65zM1810.97 466.37H1816.18V471.58H1810.97zM1744.54 471.48H1749.75V476.69H1744.54zM1739.43 481.70H1744.64V486.91H1739.43zM1821.19 486.81H1826.40V492.02H1821.19zM1821.19 491.92H1826.40V497.13H1821.19zM1744.54 512.36H1749.75V517.57H1744.54zM1810.97 512.36H1816.18V517.57H1810.97zM1749.65 517.47H1754.86V522.68H1749.65zM1759.87 522.58H1765.08V527.79H1759.87zM1795.64 522.58H1800.85V527.79H1795.64z"/><path fill="#a8c7c7" d="M1759.87 461.26H1765.08V466.47H1759.87zM1800.75 461.26H1805.96V466.47H1800.75zM1816.08 476.59H1821.29V481.80H1816.08zM1739.43 486.81H1744.64V492.02H1739.43zM1739.43 502.14H1744.64V507.35H1739.43zM1816.08 502.14H1821.29V507.35H1816.08zM1764.98 522.58H1770.19V527.79H1764.98zM1790.53 522.58H1795.74V527.79H1790.53z"/><path fill="#a4c3c4" d="M1764.98 461.26H1770.19V466.47H1764.98zM1754.76 466.37H1759.97V471.58H1754.76zM1805.86 466.37H1811.07V471.58H1805.86zM1810.97 471.48H1816.18V476.69H1810.97zM1744.54 476.59H1749.75V481.80H1744.54zM1739.43 491.92H1744.64V497.13H1739.43zM1739.43 497.03H1744.64V502.24H1739.43zM1816.08 497.03H1821.29V502.24H1816.08zM1744.54 507.25H1749.75V512.46H1744.54zM1810.97 507.25H1816.18V512.46H1810.97zM1805.86 512.36H1811.07V517.57H1805.86zM1754.76 517.47H1759.97V522.68H1754.76zM1800.75 517.47H1805.96V522.68H1800.75zM1770.09 522.58H1775.30V527.79H1770.09zM1785.42 522.58H1790.63V527.79H1785.42z"/><path fill="#9db9bd" d="M1770.09 461.26H1775.30V466.47H1770.09zM1790.53 461.26H1795.74V466.47H1790.53zM1744.54 481.70H1749.75V486.91H1744.54zM1744.54 502.14H1749.75V507.35H1744.54zM1759.87 517.47H1765.08V522.68H1759.87zM1795.64 517.47H1800.85V522.68H1795.64z"/><path fill="#99b4b9" d="M1775.20 461.26H1790.63V466.47H1775.20zM1759.87 466.37H1765.08V471.58H1759.87zM1800.75 466.37H1805.96V471.58H1800.75zM1805.86 471.48H1811.07V476.69H1805.86zM1749.65 476.59H1754.86V481.80H1749.65zM1810.97 476.59H1816.18V481.80H1810.97zM1744.54 486.81H1749.75V492.02H1744.54zM1744.54 497.03H1749.75V502.24H1744.54zM1810.97 502.14H1816.18V507.35H1810.97zM1754.76 512.36H1759.97V517.57H1754.76zM1800.75 512.36H1805.96V517.57H1800.75zM1790.53 517.47H1795.74V522.68H1790.53z"/><path fill="#a0bec0" d="M1795.64 461.26H1800.85V466.47H1795.64zM1749.65 471.48H1754.86V476.69H1749.65zM1816.08 481.70H1821.29V486.91H1816.08zM1816.08 486.81H1821.29V492.02H1816.08zM1816.08 491.92H1821.29V497.13H1816.08zM1749.65 512.36H1754.86V517.57H1749.65zM1775.20 522.58H1785.52V527.79H1775.20z"/><path fill="#92abb2" d="M1764.98 466.37H1770.19V471.58H1764.98zM1795.64 466.37H1800.85V471.58H1795.64zM1810.97 486.81H1816.18V492.02H1810.97zM1810.97 491.92H1816.18V497.13H1810.97zM1770.09 517.47H1790.63V522.68H1770.09z"/><path fill="#8fa6af" d="M1770.09 466.37H1775.30V471.58H1770.09zM1790.53 466.37H1795.74V471.58H1790.53zM1759.87 471.48H1765.08V476.69H1759.87zM1800.75 471.48H1805.96V476.69H1800.75zM1805.86 476.59H1811.07V481.80H1805.86zM1749.65 481.70H1754.86V486.91H1749.65zM1749.65 502.14H1754.86V507.35H1749.65zM1805.86 502.14H1811.07V507.35H1805.86zM1759.87 512.36H1765.08V517.57H1759.87zM1795.64 512.36H1800.85V517.57H1795.64z"/><path fill="#8ba1ab" d="M1775.20 466.37H1780.41V471.58H1775.20zM1785.42 466.37H1790.63V471.58H1785.42zM1754.76 476.59H1759.97V481.80H1754.76zM1749.65 486.81H1754.86V492.02H1749.65zM1749.65 497.03H1754.86V502.24H1749.65zM1754.76 507.25H1759.97V512.46H1754.76zM1800.75 507.25H1805.96V512.46H1800.75z"/><path fill="#889ca8" d="M1780.31 466.37H1785.52V471.58H1780.31zM1805.86 481.70H1811.07V486.91H1805.86zM1749.65 491.92H1754.86V497.13H1749.65zM1805.86 497.03H1811.07V502.24H1805.86zM1764.98 512.36H1770.19V517.57H1764.98zM1790.53 512.36H1795.74V517.57H1790.53z"/><path fill="#96b0b6" d="M1754.76 471.48H1759.97V476.69H1754.76zM1810.97 481.70H1816.18V486.91H1810.97zM1744.54 491.92H1749.75V497.13H1744.54zM1810.97 497.03H1816.18V502.24H1810.97zM1749.65 507.25H1754.86V512.46H1749.65zM1805.86 507.25H1811.07V512.46H1805.86zM1764.98 517.47H1770.19V522.68H1764.98z"/><path fill="#8498a4" d="M1764.98 471.48H1770.19V476.69H1764.98zM1795.64 471.48H1800.85V476.69H1795.64zM1800.75 476.59H1805.96V481.80H1800.75zM1754.76 481.70H1759.97V486.91H1754.76zM1805.86 486.81H1811.07V492.02H1805.86zM1805.86 491.92H1811.07V497.13H1805.86zM1754.76 502.14H1759.97V507.35H1754.76zM1759.87 507.25H1765.08V512.46H1759.87zM1795.64 507.25H1800.85V512.46H1795.64zM1770.09 512.36H1775.30V517.57H1770.09zM1785.42 512.36H1790.63V517.57H1785.42z"/><path fill="#7e8e9d" d="M1770.09 471.48H1775.30V476.69H1770.09zM1800.75 481.70H1805.96V486.91H1800.75zM1754.76 486.81H1759.97V492.02H1754.76zM1754.76 491.92H1759.97V497.13H1754.76zM1754.76 497.03H1759.97V502.24H1754.76z"/><path fill="#7a899a" d="M1775.20 471.48H1790.63V476.69H1775.20zM1795.64 476.59H1800.85V481.80H1795.64zM1800.75 497.03H1805.96V502.24H1800.75zM1759.87 502.14H1765.08V507.35H1759.87zM1764.98 507.25H1770.19V512.46H1764.98zM1790.53 507.25H1795.74V512.46H1790.53z"/><path fill="#8193a1" d="M1790.53 471.48H1795.74V476.69H1790.53zM1759.87 476.59H1765.08V481.80H1759.87zM1800.75 502.14H1805.96V507.35H1800.75zM1775.20 512.36H1785.52V517.57H1775.20z"/><path fill="#778496" d="M1764.98 476.59H1770.19V481.80H1764.98zM1759.87 481.70H1765.08V486.91H1759.87zM1800.75 486.81H1805.96V492.02H1800.75zM1800.75 491.92H1805.96V497.13H1800.75zM1795.64 502.14H1800.85V507.35H1795.64zM1770.09 507.25H1775.30V512.46H1770.09zM1785.42 507.25H1790.63V512.46H1785.42z"/><path fill="#738093" d="M1770.09 476.59H1775.30V481.80H1770.09zM1790.53 476.59H1795.74V481.80H1790.53zM1795.64 481.70H1800.85V486.91H1795.64zM1759.87 486.81H1765.08V492.02H1759.87zM1759.87 497.03H1765.08V502.24H1759.87zM1775.20 507.25H1785.52V512.46H1775.20z"/><path fill="#707b8f" d="M1775.20 476.59H1780.41V481.80H1775.20zM1785.42 476.59H1790.63V481.80H1785.42zM1764.98 481.70H1770.19V486.91H1764.98zM1795.64 486.81H1800.85V492.02H1795.64zM1759.87 491.92H1765.08V497.13H1759.87zM1795.64 497.03H1800.85V502.24H1795.64zM1764.98 502.14H1770.19V507.35H1764.98zM1790.53 502.14H1795.74V507.35H1790.53z"/><path fill="#6c768c" d="M1780.31 476.59H1785.52V481.80H1780.31zM1790.53 481.70H1795.74V486.91H1790.53zM1795.64 491.92H1800.85V497.13H1795.64zM1764.98 497.03H1770.19V502.24H1764.98zM1770.09 502.14H1775.30V507.35H1770.09zM1785.42 502.14H1790.63V507.35H1785.42z"/><path fill="#697188" d="M1770.09 481.70H1775.30V486.91H1770.09zM1764.98 486.81H1770.19V492.02H1764.98zM1764.98 491.92H1770.19V497.13H1764.98zM1790.53 497.03H1795.74V502.24H1790.53zM1775.20 502.14H1785.52V507.35H1775.20z"/><path fill="#656c85" d="M1775.20 481.70H1790.63V486.91H1775.20zM1770.09 486.81H1775.30V492.02H1770.09zM1790.53 486.81H1795.74V492.02H1790.53zM1790.53 491.92H1795.74V497.13H1790.53zM1770.09 497.03H1775.30V502.24H1770.09zM1785.42 497.03H1790.63V502.24H1785.42z"/><path fill="#626881" d="M1775.20 486.81H1780.41V492.02H1775.20zM1785.42 486.81H1790.63V492.02H1785.42zM1770.09 491.92H1775.30V497.13H1770.09zM1785.42 491.92H1790.63V497.13H1785.42zM1775.20 497.03H1785.52V502.24H1775.20z"/><path fill="#5e637e" d="M1780.31 486.81H1785.52V492.02H1780.31zM1775.20 491.92H1785.52V497.13H1775.20z"/></g>
<path class="c" d="M1660 1024.8C1653.9 1024.7 1649.2 1024.4 1644.1 1024.2C1639 1024 1634.5 1023.6 1629.2 1023.8C1623.9 1023.9 1617.2 1024.5 1612.2 1024.8C1607.3 1025.2 1603 1026.1 1599.5 1025.9C1596 1025.7 1593 1025.2 1591 1023.8C1589.1 1022.3 1588.5 1019.9 1587.8 1017.4C1587.1 1014.9 1587 1011.7 1586.8 1008.9C1586.6 1006.1 1587.2 1003.2 1586.8 1000.4C1586.4 997.6 1584.6 994.7 1584.2 991.9C1583.9 989.1 1584.2 986.3 1584.7 983.4C1585.1 980.6 1585.9 977.8 1586.8 974.9C1587.7 972.1 1588.5 969.1 1590 966.4C1591.4 963.8 1593.3 961.5 1595.3 959C1597.2 956.5 1600 953.9 1601.6 951.6C1603.2 949.3 1604.5 947.5 1604.8 945.2C1605.2 942.9 1604.5 939.9 1603.8 937.8C1603 935.7 1601.3 934.6 1600.6 932.5C1599.8 930.4 1598.9 927.5 1599.1 925.1C1599.3 922.6 1600.8 920.1 1601.6 917.6C1602.5 915.2 1603.6 912.3 1604.2 910.2C1604.7 908.1 1605.2 906.7 1604.8 904.9C1604.4 903.1 1603 901.1 1601.6 899.6C1600.2 898.1 1598.1 896.7 1596.3 896C1594.6 895.3 1592.7 895 1591 895.3C1589.4 895.7 1587.7 896.7 1586.4 898.1C1585 899.5 1583.9 901.8 1583 903.8C1582 905.9 1581.5 908.3 1580.4 910.2C1579.3 912.1 1577.6 913.6 1576.2 915.5C1574.7 917.5 1573 919.4 1571.9 921.9C1570.9 924.4 1570.7 927.9 1569.8 930.4C1568.9 932.8 1567.9 934.6 1566.6 936.7C1565.4 938.9 1563.4 940.6 1562.4 943.1C1561.3 945.6 1560.8 948.8 1560.2 951.6C1559.7 954.4 1559.5 957.1 1559.2 960.1C1558.8 963.1 1558.7 966.6 1558.1 969.6C1557.6 972.6 1557.1 975.5 1556 978.1C1554.9 980.8 1553.3 983.3 1551.8 985.6C1550.2 987.9 1547.9 989.8 1546.4 991.9C1545 994 1543.9 996 1543.3 998.3C1542.6 1000.6 1542.5 1003.4 1542.6 1005.7C1542.8 1008 1544.3 1009.8 1544.3 1012.1C1544.3 1014.4 1543.5 1017.2 1542.6 1019.5C1541.7 1021.8 1540.7 1023.9 1539 1025.9C1537.4 1027.8 1534.8 1029.4 1532.7 1031.2C1530.5 1033 1527.9 1034.5 1526.3 1036.5C1524.6 1038.4 1523.7 1040.7 1522.7 1042.9C1521.6 1045 1521.3 1047.5 1519.9 1049.2C1518.6 1051 1516.9 1052.1 1514.6 1053.5C1512.3 1054.9 1509 1056.5 1506.1 1057.7C1503.3 1059 1500.5 1059.9 1497.6 1060.9C1494.8 1061.9 1492 1063.1 1489.1 1063.7C1486.3 1064.2 1483.5 1064.4 1480.7 1064.1C1477.8 1063.8 1475 1063 1472.2 1062C1469.3 1060.9 1466.3 1059.1 1463.7 1057.7C1461 1056.3 1458.2 1055.1 1456.2 1053.5C1454.3 1051.9 1452.6 1049.9 1452 1048.2C1451.4 1046.4 1451.8 1044.1 1452.6 1042.9C1453.5 1041.6 1455.5 1041.2 1457.3 1040.7C1459.1 1040.3 1462 1041 1463.7 1040.3C1465.4 1039.6 1467.1 1038 1467.5 1036.5C1467.8 1035 1466.8 1033 1465.8 1031.2C1464.8 1029.4 1463.1 1027.6 1461.6 1025.9C1460 1024.1 1457.7 1022.5 1456.2 1020.6C1454.8 1018.6 1453.9 1016.5 1453.1 1014.2C1452.2 1011.9 1451.6 1009.1 1450.9 1006.8C1450.3 1004.5 1449.9 1002.7 1449.2 1000.4C1448.6 998.1 1447.1 995.3 1447.1 993C1447.1 990.7 1448.1 988.4 1449.2 986.6C1450.4 984.8 1452.2 983.5 1454.1 982.4C1456 981.2 1458.4 980.1 1460.5 979.6C1462.6 979.1 1464.9 978.7 1466.9 979.2C1468.8 979.6 1470.4 981.7 1472.2 982.4C1473.9 983 1476.1 983.5 1477.5 983C1478.9 982.5 1479.9 980.9 1480.7 979.2C1481.4 977.5 1481 974.6 1481.7 972.8C1482.4 971 1484.5 969.8 1484.9 968.6C1485.3 967.3 1484.7 966.3 1483.8 965.4C1483 964.5 1481 963.9 1479.6 963.3C1478.2 962.7 1475.7 962.7 1475.3 961.8C1475 960.9 1476.4 958.8 1477.5 958C1478.5 957.1 1480.1 956.5 1481.7 956.5C1483.3 956.4 1485.1 957.6 1487 957.5C1489 957.4 1491.3 956.8 1493.4 955.8C1495.5 954.8 1497.6 953.2 1499.8 951.6C1501.9 950 1504 947.9 1506.1 946.3C1508.2 944.7 1510.4 943.3 1512.5 942C1514.6 940.8 1516.9 940.1 1518.9 938.9C1520.8 937.6 1522.7 936.4 1524.2 934.6C1525.6 932.8 1526.6 930.5 1527.3 928.2C1528.1 925.9 1528.5 923.3 1528.4 920.8C1528.3 918.3 1527.6 915.7 1526.9 913.4C1526.2 911.1 1525.3 909 1524.2 907C1523 905.1 1521.5 903.3 1519.9 901.7C1518.3 900.1 1516 899.1 1514.6 897.5C1513.2 895.9 1512.1 894.5 1511.4 892.2C1510.7 889.9 1510.7 886.5 1510.4 883.7C1510 880.8 1509.6 878 1509.3 875.2C1509 872.4 1508.5 869.5 1508.7 866.7C1508.8 863.9 1509.8 860.9 1510.4 858.2C1510.9 855.6 1511.9 852.8 1512.1 850.8C1512.2 848.7 1512.2 846.8 1511.4 845.9C1510.6 844.9 1508.8 844.9 1507.2 845C1505.6 845.2 1503.8 845.6 1501.9 846.5C1499.9 847.5 1497.6 849 1495.5 850.8C1493.4 852.5 1491.1 854.8 1489.1 857.1C1487.2 859.4 1485.4 862.4 1483.8 864.6C1482.2 866.7 1481.2 868.7 1479.6 869.9C1478 871 1476.6 871.4 1474.3 871.4C1472 871.4 1468.6 870.6 1465.8 869.9C1463 869.2 1460.1 868 1457.3 867.1C1454.5 866.2 1451.6 865.6 1448.8 864.6C1446 863.5 1442.6 861.6 1440.3 860.8C1438 859.9 1436.4 858.8 1435 859.3C1433.6 859.7 1432.4 861.7 1431.8 863.5C1431.2 865.3 1432.1 868.4 1431.4 869.9C1430.7 871.4 1429.3 872 1427.6 872.6C1425.9 873.2 1423.7 873.4 1421.2 873.5C1418.7 873.6 1415 873.6 1412.7 873.1C1410.4 872.6 1408.8 871.8 1407.4 870.5C1406.1 869.3 1405.2 867.5 1404.7 865.6C1404.1 863.8 1405 860.7 1404.2 859.3C1403.5 857.9 1401.4 857.1 1400 857.1C1398.6 857.2 1398.3 858.2 1395.9 859.6C1393.5 861 1389.1 863.3 1385.7 865.7C1382.3 868.1 1378.9 871.3 1375.5 873.9C1372.1 876.5 1367.5 880.4 1365.3 881.2C1363.1 882 1362.4 880.7 1362.4 878.8C1362.4 876.9 1364.1 872.7 1365.3 869.8C1366.5 866.9 1367.7 864.4 1369.4 861.6C1371.1 858.9 1373.9 856.9 1375.5 853.5C1377.1 850.1 1378.4 845 1378.8 841.2C1379.1 837.5 1377.4 834.4 1377.6 831C1377.7 827.6 1378.2 824.2 1379.6 820.8C1381 817.4 1383.7 812.8 1385.7 810.6C1387.8 808.4 1389.8 807.1 1391.8 807.8C1393.9 808.4 1396.6 811.8 1398 814.7C1399.3 817.6 1399 821.2 1400 824.9C1401 828.6 1402.4 833.4 1404.1 837.1C1405.8 840.9 1407.5 845.2 1410.2 847.3C1412.9 849.5 1417.3 850.2 1420.4 850.2C1423.5 850.2 1426.9 849.2 1428.6 847.3C1430.3 845.5 1431 841.9 1430.6 839.2C1430.3 836.5 1427.9 833.4 1426.5 831C1425.2 828.6 1422.9 827.3 1422.4 824.9C1422 822.5 1423 820.1 1423.7 816.7C1424.4 813.3 1426.4 808.2 1426.5 804.5C1426.7 800.7 1426.2 796.3 1424.5 794.3C1422.8 792.2 1419.4 792.6 1416.3 792.2C1413.3 791.9 1408.5 793.6 1406.1 792.2C1403.7 790.9 1402.4 787.5 1402 784.1C1401.7 780.7 1403.1 775.9 1404.1 771.8C1405.1 767.8 1407.1 763.7 1408.2 759.6C1409.2 755.5 1410.5 750.1 1410.2 747.3C1409.9 744.6 1408.5 743.6 1406.1 743.3C1403.7 742.9 1400 744.8 1395.9 745.3C1391.8 745.9 1385.7 746.9 1381.6 746.5C1377.6 746.2 1373.7 745.2 1371.4 743.3C1369.2 741.4 1369.2 738.5 1368.2 735.1C1367.1 731.7 1366.1 726.9 1365.3 722.9C1364.5 718.8 1363.5 714.7 1363.3 710.6C1363.1 706.5 1363.1 702.4 1364.1 698.4C1365.1 694.3 1367.1 689.7 1369.4 686.1C1371.6 682.6 1374.5 679.9 1377.6 677.1C1380.6 674.4 1384.4 671.6 1387.8 669.8C1391.2 668 1394.6 667.9 1398 666.5C1401.4 665.2 1405.1 663.8 1408.2 661.6C1411.2 659.5 1413.7 656.9 1416.3 653.5C1418.9 650.1 1423 645.3 1423.7 641.2C1424.4 637.1 1420.6 632.7 1420.4 629C1420.2 625.2 1421.6 622.9 1422.4 618.8C1423.3 614.7 1424.3 608.6 1425.3 604.5C1426.3 600.3 1427.7 597.7 1428.6 593.9C1429.5 590.1 1431 584.9 1430.6 581.6C1430.3 578.4 1428.6 575.5 1426.5 574.3C1424.5 573.1 1421.4 573.1 1418.4 574.3C1415.3 575.5 1411.6 579.2 1408.2 581.6C1404.8 584.1 1400.7 589 1398 589C1395.2 589 1392.9 584.9 1391.8 581.6C1390.8 578.4 1392 573.5 1391.8 569.4C1391.7 565.3 1392 560.5 1391 557.1C1390 553.7 1386.4 551.2 1385.7 549C1385 546.8 1385.2 544.8 1386.9 544.1C1388.6 543.4 1392.4 544.6 1395.9 544.9C1399.5 545.2 1403.7 545.9 1408.2 545.7C1412.6 545.6 1418 544.2 1422.4 544.1C1426.9 543.9 1431 543.7 1434.7 544.9C1438.4 546.1 1441.8 549 1444.9 551C1448 553.1 1450 555.1 1453.1 557.1C1456.1 559.2 1459.5 562.2 1463.3 563.3C1467 564.3 1472.3 563.9 1475.5 563.3C1478.7 562.6 1481.4 561.6 1482.4 559.2C1483.5 556.8 1481.2 552.4 1481.6 549C1482 545.6 1483.4 542.2 1484.9 538.8C1486.4 535.4 1489 532 1490.6 528.6C1492.2 525.2 1494.3 521.8 1494.7 518.4C1495.1 515 1493.1 511.6 1493.1 508.2C1493.1 504.8 1494.2 501.7 1494.7 498C1495.2 494.2 1497.4 487.9 1495.9 485.7C1494.4 483.5 1489.1 485.2 1485.7 484.9C1482.3 484.6 1478.1 484.9 1475.5 483.7C1472.9 482.4 1471.1 479.9 1470.2 477.6C1469.3 475.2 1469.1 472.1 1470.2 469.4C1471.3 466.7 1476.5 464.3 1476.7 461.2C1476.9 458.2 1472.7 454.8 1471.4 451C1470.2 447.3 1469.4 442.9 1469.4 438.8C1469.4 434.7 1471.4 430.3 1471.4 426.5C1471.4 422.8 1470.5 419.7 1469.4 416.3C1468.2 412.9 1466.5 408.6 1464.5 406.1C1462.4 403.6 1461.1 402 1457.1 401.2C1453.2 400.4 1445.2 401.8 1440.8 401.2C1436.4 400.7 1433.2 399.9 1430.6 398C1428 396.1 1426.5 393.2 1425.3 389.8C1424.1 386.4 1423.4 381.3 1423.3 377.6C1423.1 373.8 1423.3 369.9 1424.5 367.3C1425.7 364.8 1427.9 363.2 1430.6 362C1433.3 360.9 1436.4 360.2 1440.8 360.4C1445.2 360.6 1452.4 362.1 1457.1 363.3C1461.9 364.4 1465.6 365.3 1469.4 367.3C1473.1 369.4 1476.9 373.3 1479.6 375.5C1482.3 377.8 1482.7 379.7 1485.7 380.8C1488.8 382 1493.9 382.7 1498 382.4C1502 382.2 1506.1 381.4 1510.2 379.6C1514.3 377.8 1518.7 374.1 1522.4 371.4C1526.2 368.7 1529.4 366 1532.7 363.3C1535.9 360.5 1540 358.2 1542 355.1C1544.1 352 1544.4 348.1 1544.9 344.9C1545.4 341.7 1544 338.3 1544.9 335.9C1545.8 333.5 1548 331.2 1550.2 330.6C1552.4 330.1 1556.2 331 1558.4 332.7C1560.5 334.4 1561.9 337.4 1563.3 340.8C1564.6 344.2 1565.3 349.3 1566.5 353.1C1567.8 356.8 1568.1 360.9 1570.6 363.3C1573.1 365.6 1577.8 366.5 1581.6 367.3C1585.5 368.2 1590.5 367.9 1593.9 368.6C1597.3 369.3 1600.3 369.6 1602 371.4C1603.7 373.3 1604.6 376.5 1604.1 379.6C1603.6 382.7 1600.4 386.1 1599.2 389.8C1598 393.5 1597.6 398 1596.7 402C1595.9 406.1 1595.7 410.9 1593.9 414.3C1592 417.7 1588.8 420.1 1585.7 422.4C1582.7 424.8 1577.9 426.2 1575.5 428.6C1573.1 431 1572.4 433.3 1571.4 436.7C1570.4 440.1 1571.1 446.1 1569.4 449C1567.7 451.9 1564.3 452.6 1561.2 454.3C1558.2 456 1553.3 457.3 1551 459.2C1548.8 461 1547.4 463.3 1547.8 465.3C1548.1 467.3 1549.8 470.4 1553.1 471.4C1556.3 472.4 1562.9 472.1 1567.3 471.4C1571.8 470.7 1575.9 470.1 1579.6 467.3C1583.3 464.6 1586.4 459.2 1589.8 455.1C1593.2 451 1596.9 447.6 1600 442.9C1603.1 438.1 1605.8 432 1608.2 426.5C1610.5 421.1 1612.2 415.3 1614.3 410.2C1616.3 405.1 1618.7 400.7 1620.4 395.9C1622.1 391.2 1622.4 385.7 1624.5 381.6C1626.5 377.6 1629.3 374.5 1632.7 371.4C1636.1 368.4 1640.1 365.2 1644.9 363.3C1649.7 361.4 1656.1 359.7 1661.2 360C1666.3 360.3 1670.7 363.1 1675.5 365.3C1680.3 367.6 1684.9 371.4 1689.8 373.5C1694.7 375.5 1700.3 376.1 1704.9 377.6C1709.5 379 1713.4 381.3 1717.1 382.4C1720.9 383.6 1724.5 385 1727.3 384.5C1730.2 384 1732.9 382.4 1734.3 379.6C1735.6 376.7 1734.6 370.7 1735.5 367.3C1736.4 363.9 1737.6 361 1739.6 359.2C1741.6 357.3 1745.9 358.4 1747.8 356.3C1749.6 354.3 1749.3 349.5 1750.6 346.9C1752 344.4 1752.7 342.3 1755.9 340.8C1759.2 339.3 1765.1 338.6 1770.2 338C1775.3 337.3 1781.8 337.1 1786.5 336.7C1791.3 336.4 1794.7 335.6 1798.8 335.9C1802.9 336.3 1806.9 337.3 1811 338.8C1815.1 340.3 1819.9 342.5 1823.3 344.9C1826.7 347.3 1829.4 350.3 1831.4 353.1C1833.5 355.8 1833.5 359.2 1835.5 361.2C1837.6 363.3 1840.3 365.3 1843.7 365.3C1847.1 365.3 1852.2 363.1 1855.9 361.2C1859.7 359.3 1863.1 355.6 1866.1 353.9C1869.2 352.2 1871.2 350.8 1874.3 351C1877.3 351.2 1881.1 353.1 1884.5 355.1C1887.9 357.1 1891.3 361 1894.7 363.3C1898.1 365.5 1901.7 367.6 1904.9 368.6C1908.1 369.6 1912 370.6 1913.9 369.4C1915.8 368.2 1915.6 364.6 1916.3 361.2C1917 357.8 1917.1 353.1 1918 349C1918.8 344.9 1919.3 339.9 1921.2 336.7C1923.1 333.5 1926 331.3 1929.4 329.8C1932.8 328.3 1937.6 327.4 1941.6 327.8C1945.7 328.1 1950.1 330.3 1953.9 331.8C1957.6 333.3 1960.7 336.1 1964.1 336.7C1967.5 337.4 1970.5 336.7 1974.3 335.9C1978 335.1 1982.8 332.9 1986.5 331.8C1990.3 330.8 1993.7 329 1996.7 329.8C1999.8 330.6 2003.1 334.2 2004.9 336.7C2006.7 339.3 2008.4 342.7 2007.8 344.9C2007.1 347.1 2002.2 347.6 2000.8 349.8C1999.5 352 1998.9 355 1999.6 358C2000.3 360.9 2002.3 364.9 2004.9 367.3C2007.5 369.8 2011.4 371.8 2015.1 372.7C2018.8 373.5 2023.6 371.8 2027.3 372.7C2031.1 373.5 2035.2 375 2037.6 377.6C2039.9 380.1 2041 384.4 2041.6 387.8C2042.3 391.2 2042.7 394.6 2041.6 398C2040.6 401.4 2036.7 404.1 2035.5 408.2C2034.4 412.2 2035 418 2034.7 422.4C2034.4 426.9 2034.4 431 2033.5 434.7C2032.6 438.4 2030.7 441.8 2029.4 444.9C2028 448 2025.3 450.3 2025.3 453.1C2025.3 455.8 2028 458.5 2029.4 461.2C2030.7 463.9 2033 465.6 2033.5 469.4C2033.9 473.1 2032 478.9 2032.2 483.7C2032.4 488.4 2034 493.2 2034.7 498C2035.4 502.7 2036.2 508.5 2036.3 512.2C2036.5 516 2034.3 517 2035.5 520.4C2036.7 523.8 2041 529.3 2043.7 532.7C2046.4 536.1 2048.8 538.9 2051.8 540.8C2054.9 542.7 2058.6 543.4 2062 544.1C2065.4 544.8 2069.5 543.7 2072.2 544.9C2075 546.1 2077.8 548.6 2078.4 551C2078.9 553.4 2077.9 557.1 2075.5 559.2C2073.1 561.2 2068 562.4 2064.1 563.3C2060.1 564.1 2055.9 563.8 2051.8 564.5C2047.8 565.2 2043.7 567.2 2039.6 567.3C2035.5 567.5 2031.4 565.8 2027.3 565.3C2023.3 564.8 2019.2 564.1 2015.1 564.5C2011 564.8 2006.9 565.9 2002.9 567.3C1998.8 568.8 1993.3 570.7 1990.6 573.5C1987.9 576.2 1987.2 580.9 1986.5 583.7C1985.9 586.5 1987.2 588.4 1986.5 590.2C1985.9 592 1984.5 594.3 1982.4 594.3C1980.4 594.3 1977.3 591.6 1974.3 590.2C1971.2 588.8 1967.5 586.1 1964.1 586.1C1960.7 586.1 1956.9 587.8 1953.9 590.2C1950.8 592.6 1948.4 596.7 1945.7 600.4C1943 604.1 1940.3 608.9 1937.6 612.7C1934.8 616.4 1932.8 620.3 1929.4 622.9C1926 625.4 1921.2 627.1 1917.1 628.2C1913.1 629.2 1908.3 629.5 1904.9 629C1901.5 628.4 1899.1 626.9 1896.7 624.9C1894.4 622.9 1893.3 618.6 1890.6 616.7C1887.9 614.8 1884.1 613.6 1880.4 613.5C1876.7 613.3 1872.2 614.7 1868.2 615.9C1864.1 617.1 1859.7 619 1855.9 620.8C1852.2 622.7 1848.1 625.2 1845.7 626.9C1843.3 628.6 1841.3 629.7 1841.6 631C1842 632.4 1844.7 633.7 1847.8 635.1C1850.8 636.5 1856.3 637.5 1860 639.2C1863.7 640.9 1867.5 642.9 1870.2 645.3C1872.9 647.7 1875.6 650.1 1876.3 653.5C1877 656.9 1874.4 661.6 1874.3 665.7C1874.1 669.8 1875.9 673.9 1875.5 678C1875.2 682 1874.1 686.1 1872.2 690.2C1870.3 694.3 1866.8 698.7 1864.1 702.4C1861.4 706.2 1858.6 709.3 1855.9 712.7C1853.2 716.1 1850.5 719.8 1847.8 722.9C1845 725.9 1843 729.1 1839.6 731C1836.2 732.9 1832.1 733.9 1827.3 734.3C1822.6 734.6 1815.8 733.1 1811 733.1C1806.3 733.1 1802.9 733.6 1798.8 734.3C1794.7 735 1790.3 735.6 1786.5 737.1C1782.8 738.6 1779.4 740.5 1776.3 743.3C1773.3 746 1770.9 750.1 1768.2 753.5C1765.4 756.9 1762.7 760.3 1760 763.7C1757.3 767.1 1754.6 770.5 1751.8 773.9C1749.1 777.3 1746.4 780.7 1743.7 784.1C1741 787.5 1738.6 791.6 1735.5 794.3C1732.4 797 1728.7 798.7 1725.3 800.4C1721.9 802.1 1718.2 803.5 1715.1 804.5C1712 805.5 1709.3 806.9 1706.9 806.5C1704.6 806.2 1702.9 804.1 1700.8 802.4C1698.8 800.7 1697.4 797.7 1694.7 796.3C1692 795 1687.9 793.6 1684.5 794.3C1681.1 795 1677.7 798 1674.3 800.4C1670.9 802.8 1666.9 806.5 1664.1 808.6C1661.2 810.6 1660.3 810.3 1657.1 812.7C1653.9 815 1647.8 819.1 1644.9 822.9C1642 826.6 1640.3 831 1640 835.1C1639.7 839.2 1640.7 843.9 1642.9 847.3C1645 850.7 1649.3 853.1 1653.1 855.5C1656.8 857.9 1662.8 859.6 1665.3 861.6C1667.8 863.7 1667 865.4 1668.2 867.8C1669.3 870.1 1671.2 872.2 1672.2 875.9C1673.3 879.7 1672.9 886.5 1674.3 890.2C1675.6 893.9 1677.3 896.7 1680.4 898.4C1683.5 900.1 1688.9 899.9 1692.7 900.4C1696.4 901 1699.8 900.6 1702.9 901.6C1705.9 902.7 1709.3 904 1711 906.5C1712.7 909 1710.7 914 1713.1 916.7C1715.4 919.5 1721.2 921.2 1725.3 922.9C1729.4 924.6 1733.8 925.6 1737.6 926.9C1741.3 928.3 1745.4 928.6 1747.8 931C1750.1 933.4 1750.1 938.2 1751.8 941.2C1753.5 944.3 1755.2 947.3 1758 949.4C1760.7 951.4 1765.3 952.3 1768.2 953.5C1771 954.6 1774.8 954.6 1775.1 956.3C1775.4 958 1772 961.1 1770.2 963.7C1768.4 966.3 1766.1 968.8 1764.1 971.8C1762 974.9 1760.7 979.3 1758 982C1755.2 984.8 1750.8 986.9 1747.8 988.2C1744.7 989.4 1741.3 988 1739.6 989.4C1737.9 990.7 1738 993.5 1737.6 996.3C1737.1 999.2 1737.4 1003.5 1736.7 1006.5C1736.1 1009.6 1736.1 1012.7 1733.5 1014.7C1730.9 1016.7 1725.3 1017.6 1721.2 1018.8C1717.1 1019.9 1713.1 1020.6 1709 1021.6C1704.9 1022.7 1701.5 1024.4 1696.7 1024.9C1692 1025.4 1686.5 1024.9 1680.4 1024.9C1674.3 1024.9 1666.1 1024.9 1660 1024.8Z"/>
<path class="c" d="M1660 416.3C1663.5 415.3 1668.8 414.1 1672.2 414.3C1675.6 414.5 1677 416.2 1680.4 417.6C1683.8 418.9 1688.6 421.6 1692.7 422.4C1696.7 423.3 1700.1 422.8 1704.9 422.4C1709.7 422.1 1715.8 421.6 1721.2 420.4C1726.7 419.2 1732.1 417.1 1737.6 415.1C1743 413.1 1748.8 410.1 1753.9 408.2C1759 406.2 1763.4 404.4 1768.2 403.3C1772.9 402.1 1777.3 401.4 1782.4 401.2C1787.6 401 1793.3 401.6 1798.8 402C1804.2 402.5 1809.7 403.1 1815.1 404.1C1820.5 405.1 1826.7 406.5 1831.4 408.2C1836.2 409.9 1839.3 411.9 1843.7 414.3C1848.1 416.7 1853.2 420.4 1858 422.4C1862.7 424.5 1867.1 424.8 1872.2 426.5C1877.3 428.2 1883.1 430.3 1888.6 432.7C1894 435 1899.5 438.4 1904.9 440.8C1910.3 443.2 1916.5 444.9 1921.2 446.9C1926 449 1930.1 450.7 1933.5 453.1C1936.9 455.4 1938.9 459.2 1941.6 461.2C1944.4 463.3 1946.7 464.3 1949.8 465.3C1952.9 466.3 1957.4 466.3 1960 467.3C1962.6 468.4 1965.3 469.7 1965.3 471.4C1965.3 473.1 1962.6 475.9 1960 477.6C1957.4 479.3 1952.5 480.5 1949.8 481.6C1947.1 482.8 1945 482.8 1943.7 484.5C1942.3 486.2 1941.8 488.6 1941.6 491.8C1941.4 495.1 1942.6 500 1942.4 504.1C1942.3 508.2 1940.8 512.2 1940.8 516.3C1940.8 520.4 1943 524.8 1942.4 528.6C1941.9 532.3 1939 535.6 1937.6 538.8C1936.1 542 1935.9 544.7 1933.9 547.8C1931.9 550.9 1929 554.6 1925.7 557.6C1922.4 560.6 1918.4 563.3 1914.3 565.7C1910.2 568.1 1905.3 570.3 1901.2 572.2C1897.1 574.1 1893.6 575.3 1889.8 577.1C1886 578.9 1882.5 581.3 1878.4 582.9C1874.3 584.5 1870.2 585.4 1865.3 586.9C1860.4 588.4 1854.4 590 1849 591.8C1843.6 593.6 1838.2 595.4 1832.7 597.6C1827.2 599.8 1820.6 602.7 1816.3 604.9C1812 607.1 1810.5 608 1806.9 610.6C1803.3 613.3 1798.8 617.4 1794.7 620.8C1790.6 624.2 1785.2 627.6 1782.4 631C1779.7 634.4 1778.4 637.8 1778.4 641.2C1778.4 644.6 1780.1 648.4 1782.4 651.4C1784.8 654.5 1789.3 656.9 1792.7 659.6C1796.1 662.3 1799.7 665.2 1802.9 667.8C1806.1 670.3 1810.5 672 1811.8 674.7C1813.2 677.4 1812.5 680.8 1811 684.1C1809.5 687.3 1805.9 691.4 1802.9 694.3C1799.8 697.2 1795.7 700.3 1792.7 701.6C1789.6 703 1786.9 703.3 1784.5 702.4C1782.1 701.6 1780.4 698.4 1778.4 696.3C1776.3 694.3 1775 691.4 1772.2 690.2C1769.5 689 1765.8 689 1762 689.4C1758.3 689.7 1754.6 691.3 1749.8 692.2C1745 693.2 1738.2 694.1 1733.5 695.1C1728.7 696.1 1724.3 696.8 1721.2 698.4C1718.2 699.9 1716.5 701.8 1715.1 704.5C1713.7 707.2 1713.5 710.6 1713.1 714.7C1712.6 718.8 1712.9 724.2 1712.2 729C1711.6 733.7 1710.9 739.2 1709 743.3C1707.1 747.3 1703.5 750.9 1700.8 753.5C1698.1 756.1 1695.7 758.1 1692.7 758.8C1689.6 759.5 1685.9 758.1 1682.4 757.6C1679 757 1675.3 755.2 1672.2 755.5C1669.2 755.9 1667.6 755.2 1664.1 759.6C1660.5 764 1654.6 776.6 1651 782C1647.5 787.5 1645.6 788.8 1642.9 792.2C1640.1 795.6 1637.8 799 1634.7 802.4C1631.6 805.9 1627.9 809.6 1624.5 812.7C1621.1 815.7 1617.7 818.1 1614.3 820.8C1610.9 823.5 1607.5 826.3 1604.1 829C1600.7 831.7 1597.3 834.8 1593.9 837.1C1590.5 839.5 1587.4 841.4 1583.7 843.3C1579.9 845.2 1575.5 848.2 1571.4 848.6C1567.3 848.9 1563.3 846.5 1559.2 845.3C1555.1 844.1 1550.7 842.2 1546.9 841.2C1543.2 840.2 1539.5 841.2 1536.7 839.2C1534 837.1 1533 831.7 1530.6 829C1528.2 826.3 1525.9 824.9 1522.4 822.9C1519 820.8 1513.3 819.5 1510.2 816.7C1507.1 814 1506.8 809.6 1504.1 806.5C1501.4 803.5 1497.6 800.7 1493.9 798.4C1490.1 796 1485 794.6 1481.6 792.2C1478.2 789.9 1475.5 786.9 1473.5 784.1C1471.4 781.2 1471.8 777.1 1469.4 775.1C1467 773.1 1461.9 773.7 1459.2 771.8C1456.5 769.9 1454.2 765.5 1453.1 763.7C1451.9 761.9 1452.1 763.2 1452.1 761C1452.1 758.8 1452.7 754.7 1453.2 750.4C1453.7 746.2 1454.4 740.1 1455.3 735.6C1456.2 731 1457.3 727.1 1458.5 722.8C1459.7 718.6 1461.1 714.3 1462.7 710.1C1464.3 705.8 1466.4 701.6 1468 697.3C1469.6 693.1 1471.2 688.5 1472.3 684.6C1473.3 680.7 1474.9 677.2 1474.4 674C1473.9 670.8 1470.5 668.7 1469.1 665.5C1467.7 662.3 1466.3 658.4 1465.9 654.9C1465.6 651.4 1466.1 647.8 1467 644.3C1467.9 640.7 1469.5 636.9 1471.2 633.7C1473 630.5 1475.1 628 1477.6 625.2C1480.1 622.4 1483.4 618.8 1486.1 616.7C1488.7 614.6 1491.6 613 1493.5 612.4C1495.5 611.9 1496.7 612.6 1497.8 613.5C1498.8 614.4 1499 616.7 1499.9 617.8C1500.8 618.8 1501.8 619.9 1503.1 619.9C1504.3 619.9 1506.3 618.8 1507.3 617.8C1508.3 616.7 1509 615.1 1509 613.5C1509 611.9 1508.1 609.6 1507.3 608.2C1506.5 606.8 1504.8 606.4 1504.1 605C1503.4 603.6 1502.5 601.5 1503.1 599.7C1503.6 597.9 1504.8 596.2 1507.3 594.4C1509.8 592.6 1514 591 1517.9 589.1C1521.8 587.2 1526.4 584.9 1530.7 582.7C1534.9 580.6 1545.1 575.5 1543.4 576.4C1541.7 577.2 1521.5 587.2 1520.4 587.8C1519.3 588.3 1531.3 582.3 1536.7 579.6C1542.2 576.9 1548.3 574.5 1553.1 571.4C1557.8 568.4 1561.2 564.6 1565.3 561.2C1569.4 557.8 1572.8 554.4 1577.6 551C1582.3 547.6 1588.8 544.6 1593.9 540.8C1599 537.1 1604.8 532.7 1608.2 528.6C1611.6 524.5 1612.9 521.1 1614.3 516.3C1615.6 511.6 1615 504.8 1616.3 500C1617.7 495.2 1619.7 491.8 1622.4 487.8C1625.2 483.7 1630.1 479.6 1632.7 475.5C1635.2 471.4 1636.9 468 1638 463.3C1639 458.5 1638 452 1638.8 446.9C1639.6 441.8 1640.8 437.1 1642.9 432.7C1644.9 428.2 1648.2 423.1 1651 420.4C1653.9 417.7 1656.5 417.3 1660 416.3Z"/>
<path class="c" d="M1598.6 591.2C1602.5 591.6 1608.8 593.7 1613.4 595.5C1618 597.2 1622.6 599.5 1626.2 601.8C1629.7 604.1 1632.2 607.1 1634.7 609.3C1637.1 611.4 1638.2 612.9 1641 614.6C1643.9 616.2 1648.1 617.8 1651.6 619.2C1655.2 620.7 1658.7 621.8 1662.2 623.1C1665.8 624.3 1669.7 625.5 1672.9 626.9C1676 628.3 1679.4 628.7 1681.3 631.6C1683.3 634.5 1683.9 640.4 1684.5 644.3C1685.2 648.2 1685 651.4 1685.2 654.9C1685.3 658.4 1685.7 662 1685.6 665.5C1685.5 669 1684.9 672.6 1684.5 676.1C1684.2 679.7 1684 683.2 1683.5 686.7C1682.9 690.3 1682.1 693.8 1681.3 697.3C1680.6 700.9 1680.1 704.4 1679.2 708C1678.3 711.5 1677.1 715 1676 718.6C1675 722.1 1674.3 725.6 1672.9 729.2C1671.4 732.7 1669.3 736.3 1667.6 739.8C1665.8 743.3 1664 747.2 1662.2 750.4C1660.5 753.6 1658.7 756.1 1656.9 758.9C1655.2 761.7 1653.8 764.7 1651.6 767.4C1649.5 770 1646.7 772.3 1644.2 774.8C1641.7 777.3 1639.4 779.9 1636.8 782.2C1634.1 784.5 1631.1 786.5 1628.3 788.6C1625.5 790.7 1622.6 793 1619.8 795C1617 796.9 1614.1 798.5 1611.3 800.3C1608.5 802.1 1605.5 804.2 1602.8 805.6C1600.2 807 1597.9 807.9 1595.4 808.8C1592.9 809.7 1590.6 810.4 1588 810.9C1585.3 811.4 1582.3 811.8 1579.5 812C1576.6 812.1 1573.6 812.3 1571 812C1568.3 811.6 1566 810.7 1563.6 809.8C1561.1 809 1558.6 808.1 1556.1 806.7C1553.6 805.2 1551.2 803.3 1548.7 801.3C1546.2 799.4 1543.7 797.1 1541.3 795C1538.8 792.9 1536.3 790.7 1533.8 788.6C1531.4 786.5 1528.9 784.4 1526.4 782.2C1523.9 780.1 1521.5 778 1519 775.9C1516.5 773.8 1513.9 771.8 1511.6 769.5C1509.3 767.2 1507.3 764.6 1505.2 762.1C1503.1 759.6 1500.8 757.3 1498.8 754.7C1496.9 752 1495.1 749 1493.5 746.2C1491.9 743.3 1490.4 740.7 1489.3 737.7C1488.1 734.7 1487.2 731.3 1486.5 728.1C1485.8 724.9 1485.4 721.6 1485 718.6C1484.6 715.6 1484.1 712.9 1484 710.1C1483.8 707.3 1483.8 704.4 1484 701.6C1484.1 698.8 1484.5 695.9 1485 693.1C1485.6 690.3 1486.4 687.3 1487.1 684.6C1487.9 682 1488.4 679.7 1489.3 677.2C1490.1 674.7 1491.3 672.2 1492.4 669.8C1493.6 667.3 1494.9 664.8 1496.3 662.3C1497.7 659.9 1499.2 657.2 1500.9 654.9C1502.7 652.6 1504.8 650.7 1506.9 648.5C1509 646.4 1511.1 644.3 1513.7 642.2C1516.2 640 1519.3 637.9 1522.2 635.8C1525 633.7 1527.8 631.4 1530.7 629.4C1533.5 627.5 1536.3 625.9 1539.1 624.1C1542 622.4 1544.8 620.6 1547.6 618.8C1550.5 617 1553.3 615.3 1556.1 613.5C1559 611.7 1561.8 610 1564.6 608.2C1567.4 606.4 1570.3 604.7 1573.1 602.9C1575.9 601.1 1578.8 599.2 1581.6 597.6C1584.4 596 1587.3 594.4 1590.1 593.3C1592.9 592.3 1594.7 590.9 1598.6 591.2Z"/>
<path class="c" d="M1691.8 463.4C1694.1 459.5 1697.1 455.6 1702.4 450.7C1707.8 445.7 1716.6 437.9 1723.7 433.7C1730.7 429.4 1737.8 427.5 1744.9 425.2C1752 422.9 1759 421 1766.1 419.9C1773.2 418.7 1780.3 418.2 1787.3 418.4C1794.4 418.6 1801.5 419.3 1808.6 420.9C1815.6 422.6 1822.7 425.2 1829.8 428.4C1836.9 431.6 1845.7 435.6 1851 440C1856.3 444.5 1858.4 448.9 1861.6 454.9C1864.8 460.9 1868.4 469 1870.1 476.1C1871.9 483.2 1872.4 491 1872.2 497.3C1872.1 503.7 1870.8 508.7 1869.1 514.3C1867.3 520 1864.6 526.4 1861.6 531.3C1858.6 536.3 1854.6 540.5 1851 544C1847.5 547.6 1844.7 549.7 1840.4 552.5C1836.2 555.4 1830.9 558.5 1825.6 561C1820.2 563.5 1814.2 565.6 1808.6 567.4C1802.9 569.2 1796.9 570.7 1791.6 571.6C1786.3 572.6 1782 573.1 1776.7 573.1C1771.4 573.1 1765.1 572.6 1759.8 571.6C1754.4 570.7 1749.9 569.2 1744.9 567.4C1739.9 565.6 1734.6 563.5 1730 561C1725.4 558.5 1721 555.7 1717.3 552.5C1713.6 549.3 1710.6 545.5 1707.8 541.9C1704.9 538.4 1702.6 535.2 1700.3 531.3C1698 527.4 1695.7 522.5 1694 518.6C1692.2 514.7 1690.8 513.3 1689.7 508C1688.7 502.7 1687.8 492.4 1687.6 486.7C1687.4 481.1 1687.9 477.9 1688.7 474C1689.4 470.1 1689.5 467.3 1691.8 463.4Z"/>
<path class="c" d="M1570.7 696.3C1571 694.3 1571.7 691.4 1573.2 689.8C1574.7 688.2 1577.2 686.9 1579.7 686.5C1582.1 686.1 1585.4 686.7 1587.9 687.3C1590.3 688 1592.8 689.1 1594.4 690.6C1596 692.1 1597.4 694.3 1597.7 696.3C1597.9 698.4 1597.1 701 1596 702.9C1594.9 704.8 1593.3 706.7 1591.1 707.8C1588.9 708.8 1585.5 709.2 1583 709.1C1580.4 708.9 1577.5 708.1 1575.6 706.9C1573.7 705.8 1572.3 703.8 1571.5 702C1570.7 700.3 1570.4 698.4 1570.7 696.3Z"/>
<ellipse class="c" cx="0" cy="0" rx="40.30" ry="33.85" transform="translate(1584.00,697.75) rotate(-17.0)"/>
<ellipse class="c" cx="0" cy="0" rx="54.90" ry="45.70" transform="translate(1584.20,697.95) rotate(-20.6)"/>
<ellipse class="c" cx="0" cy="0" rx="66.90" ry="56.00" transform="translate(1583.75,698.15) rotate(-25.3)"/>
<ellipse class="c" cx="0" cy="0" rx="78.16" ry="66.08" transform="translate(1583.40,698.75) rotate(-25.9)"/>
<ellipse class="c" cx="0" cy="0" rx="89.40" ry="77.20" transform="translate(1583.70,699.60) rotate(-29.7)"/>
<ellipse class="c" cx="0" cy="0" rx="22.07" ry="18.25" transform="translate(1781.40,493.53) rotate(-8.0)"/>
<ellipse class="c" cx="0" cy="0" rx="43.09" ry="35.55" transform="translate(1781.51,493.10) rotate(-8.0)"/>
<ellipse class="c" cx="0" cy="0" rx="55.82" ry="46.69" transform="translate(1781.51,493.63) rotate(-8.0)"/>
<ellipse class="c" cx="0" cy="0" rx="68.13" ry="56.88" transform="translate(1781.62,493.84) rotate(-8.0)"/>
<ellipse class="c" cx="0" cy="0" rx="79.27" ry="66.11" transform="translate(1781.51,493.63) rotate(-8.0)"/>
<path class="c" d="M2055.9 183.7C2055.6 181.8 2058.6 180.6 2062 179.6C2065.4 178.6 2071.6 177.8 2076.3 177.6C2081.1 177.3 2086.5 177 2090.6 178.4C2094.7 179.7 2097.8 182.8 2100.8 185.7C2103.9 188.6 2108.6 192.9 2109 195.9C2109.3 199 2104.9 201.4 2102.9 204.1C2100.8 206.8 2098.8 209.2 2096.7 212.2C2094.7 215.3 2093.3 220.1 2090.6 222.4C2087.9 224.8 2083.5 226.5 2080.4 226.5C2077.3 226.5 2073.9 224.5 2072.2 222.4C2070.5 220.4 2069.9 217.3 2070.2 214.3C2070.5 211.2 2073.9 207.1 2074.3 204.1C2074.6 201 2073.9 198.2 2072.2 195.9C2070.5 193.7 2066.8 192.7 2064.1 190.6C2061.4 188.6 2056.3 185.5 2055.9 183.7Z"/>
<path class="c" d="M2023.3 302C2023.6 299.3 2028 298.4 2031.4 298C2034.8 297.5 2039.3 298.5 2043.7 299.2C2048.1 299.9 2053.5 300.9 2058 302C2062.4 303.2 2067.7 304.1 2070.2 306.1C2072.7 308.2 2073.4 311.6 2073.1 314.3C2072.7 317 2070.7 320.1 2068.2 322.4C2065.6 324.8 2061.7 327.2 2058 328.6C2054.2 329.9 2049.5 331.3 2045.7 330.6C2042 329.9 2038.2 327.2 2035.5 324.5C2032.8 321.8 2031.4 318 2029.4 314.3C2027.3 310.5 2022.9 304.8 2023.3 302Z"/>
<path class="c" d="M2162 333.5C2160 325.6 2154.6 334.5 2149.8 334.7C2145 334.9 2139.6 334.4 2133.5 334.7C2127.3 335 2119.2 335.7 2113.1 336.7C2106.9 337.8 2100.8 338.8 2096.7 340.8C2092.7 342.9 2090.6 345.9 2088.6 349C2086.5 352 2084.8 355.8 2084.5 359.2C2084.1 362.6 2084.8 367.1 2086.5 369.4C2088.2 371.6 2092 371.3 2094.7 372.7C2097.4 374 2100.8 375.4 2102.9 377.6C2104.9 379.7 2105.2 383.3 2106.9 385.7C2108.6 388.1 2110 391.3 2113.1 391.8C2116.1 392.4 2121.2 390.3 2125.3 389C2129.4 387.6 2133.5 384.9 2137.6 383.7C2141.6 382.4 2145.7 382 2149.8 381.6C2153.9 381.3 2160 389.7 2162 381.6C2164.1 373.6 2164.1 341.3 2162 333.5Z"/>
<path class="c" d="M2088.6 429.8C2089.6 428.3 2094 426.5 2096.7 426.5C2099.5 426.5 2102.9 428.3 2104.9 429.8C2106.9 431.3 2109 433.7 2109 435.5C2109 437.3 2106.9 439.9 2104.9 440.8C2102.9 441.7 2099.1 441.7 2096.7 440.8C2094.4 439.9 2092 437.3 2090.6 435.5C2089.3 433.7 2087.6 431.3 2088.6 429.8Z"/>
<path class="c" d="M2119.2 432.7C2119.2 430.7 2122.6 427.6 2125.3 426.5C2128 425.5 2132.1 425.9 2135.5 426.5C2138.9 427.2 2142.3 428.9 2145.7 430.6C2149.1 432.3 2154.2 430.6 2155.9 436.7C2157.6 442.9 2156.9 463.3 2155.9 467.3C2154.9 471.4 2151.5 463.9 2149.8 461.2C2148.1 458.5 2147.8 454.1 2145.7 451C2143.7 448 2141 445 2137.6 442.9C2134.1 440.7 2128.4 439.7 2125.3 438C2122.2 436.3 2119.2 434.6 2119.2 432.7Z"/>
<path class="c" d="M1913.9 377.6C1914.6 376.2 1917.3 374.3 1919.2 374.3C1921.1 374.3 1923.7 376 1925.3 377.6C1926.9 379.1 1928.6 381.8 1928.6 383.7C1928.6 385.5 1926.9 388.1 1925.3 388.6C1923.7 389 1920.9 387.6 1919.2 386.5C1917.5 385.5 1916 383.9 1915.1 382.4C1914.2 381 1913.2 378.9 1913.9 377.6Z"/>
<path class="c" d="M1577.6 254.3C1578.2 252.4 1583 247.6 1585.7 244.9C1588.4 242.2 1590.8 239.7 1593.9 238C1596.9 236.3 1600.7 234.9 1604.1 234.7C1607.5 234.5 1612.1 234.7 1614.3 236.7C1616.5 238.8 1616.8 243.2 1617.1 246.9C1617.5 250.7 1617.8 256.1 1616.3 259.2C1614.8 262.2 1611.6 264.5 1608.2 265.3C1604.8 266.1 1599 265.4 1595.9 264.1C1592.9 262.7 1592.2 258.5 1589.8 257.1C1587.4 255.8 1583.7 256.4 1581.6 255.9C1579.6 255.4 1576.9 256.1 1577.6 254.3Z"/>
<path class="c" d="M1379.6 420.4C1380.3 418.8 1386.1 417.3 1389.8 416.3C1393.5 415.3 1398.4 414.5 1402 414.3C1405.6 414.1 1409.2 413.7 1411.4 415.1C1413.7 416.5 1415.7 420.3 1415.5 422.4C1415.3 424.6 1413.1 426.7 1410.2 427.8C1407.3 428.8 1402 428.9 1398 428.6C1393.9 428.2 1388.8 427.1 1385.7 425.7C1382.7 424.4 1378.9 422 1379.6 420.4Z"/>
<path class="c" d="M1538 920.8C1538.5 919.2 1539.6 917.6 1541.1 916.6C1542.7 915.5 1545.2 914.7 1547.5 914.4C1549.8 914.2 1553 914.4 1554.9 915.1C1556.9 915.8 1558.4 917.2 1559.2 918.7C1560 920.2 1559.9 922.1 1559.6 924C1559.3 925.9 1558.4 928.3 1557.5 930.4C1556.5 932.4 1555.4 934.9 1553.9 936.3C1552.4 937.7 1550.3 938.8 1548.6 938.9C1546.8 938.9 1544.7 938 1543.3 936.7C1541.9 935.5 1541 933.2 1540.1 931.4C1539.2 929.7 1538.3 927.9 1538 926.1C1537.6 924.4 1537.4 922.4 1538 920.8Z"/>
<path class="c" d="M1314.3 945.3C1314.1 943.4 1316.1 940.5 1317.6 939.2C1319 937.8 1321.4 936.8 1323.3 937.1C1325.1 937.5 1327.7 939.5 1328.6 941.2C1329.5 942.9 1329.3 945.6 1328.6 947.3C1327.9 949 1326.2 950.9 1324.5 951.4C1322.8 952 1320.1 951.6 1318.4 950.6C1316.7 949.6 1314.4 947.2 1314.3 945.3Z"/>
<path class="c" d="M1652.2 926.9C1653.5 923.9 1657.7 920.7 1661.2 918.8C1664.8 916.9 1671 915.9 1673.5 915.5C1676 915.2 1675.2 915.2 1676.3 916.7C1677.5 918.3 1679 921.8 1680.4 924.9C1681.8 928 1682.4 932 1684.5 935.1C1686.5 938.2 1689.3 941.2 1692.7 943.3C1696.1 945.3 1701.2 946.3 1704.9 947.3C1708.6 948.4 1712.4 948 1715.1 949.4C1717.8 950.7 1720.3 953.1 1721.2 955.5C1722.1 957.9 1721.8 961.3 1720.4 963.7C1719 966.1 1716.3 968.1 1713.1 969.8C1709.8 971.5 1704.9 972.5 1700.8 973.9C1696.7 975.2 1692.7 977.1 1688.6 978C1684.5 978.8 1680.4 979.5 1676.3 979.2C1672.2 978.8 1667.6 978.5 1664.1 975.9C1660.5 973.3 1656.3 966.7 1655.1 963.7C1653.9 960.6 1656.5 960.3 1657.1 957.6C1657.8 954.8 1659.7 950.7 1659.2 947.3C1658.6 943.9 1655 940.5 1653.9 937.1C1652.7 933.7 1651 930 1652.2 926.9Z"/>
<path class="c" d="M1827.3 794.3C1827.3 792.4 1829.4 790 1831.4 789C1833.5 788 1836.5 787.6 1839.6 788.2C1842.7 788.7 1846.4 791 1849.8 792.2C1853.2 793.5 1856.6 795.6 1860 795.5C1863.4 795.4 1867.1 792.9 1870.2 791.4C1873.3 790 1876 787.5 1878.4 786.9C1880.7 786.4 1883.1 786.9 1884.5 788.2C1885.9 789.4 1886.9 791.9 1886.5 794.3C1886.2 796.7 1884.8 800.1 1882.4 802.4C1880.1 804.8 1875.6 806.9 1872.2 808.6C1868.8 810.3 1865.4 812.3 1862 812.7C1858.6 813 1855.2 812 1851.8 810.6C1848.4 809.3 1845 806.2 1841.6 804.5C1838.2 802.8 1833.8 802.1 1831.4 800.4C1829 798.7 1827.3 796.2 1827.3 794.3Z"/>
<path class="c" d="M1719.2 984.1C1719.5 982.6 1721.4 980.1 1723.3 979.2C1725.1 978.2 1728.2 977.9 1730.2 978.4C1732.2 978.8 1734.3 980.4 1735.5 982C1736.7 983.7 1738.6 986.7 1737.6 988.2C1736.5 989.6 1732.1 990.6 1729.4 990.6C1726.7 990.6 1722.9 989.3 1721.2 988.2C1719.5 987.1 1718.8 985.6 1719.2 984.1Z"/>
<path class="c" d="M1659 1075C1655.1 1073.5 1659.5 1068.4 1660.5 1066C1661.5 1063.6 1663.1 1061.8 1665 1060.5C1666.9 1059.2 1669.7 1058.5 1672 1058.2C1674.3 1058 1677 1058.2 1679 1059C1681 1059.8 1682.8 1061.3 1684 1063C1685.2 1064.7 1686.5 1067 1686.5 1069C1686.5 1071 1688.6 1074 1684 1075C1679.4 1076 1662.9 1076.5 1659 1075Z"/>
<path class="c" d="M1835.5 1075C1830.8 1073.2 1835.6 1066.9 1836.5 1064C1837.4 1061.1 1839.1 1059 1841 1057.5C1842.9 1056 1845.7 1055.3 1848 1055.3C1850.3 1055.3 1853 1056.2 1855 1057.5C1857 1058.8 1858.7 1061.1 1860 1063C1861.3 1064.9 1862.2 1067 1863 1069C1863.8 1071 1869.6 1074 1865 1075C1860.4 1076 1840.2 1076.8 1835.5 1075Z"/>
<ellipse cx="2026.1" cy="165.3" rx="2.2" ry="1.2" fill="#000"/>
<ellipse cx="1753.1" cy="202.0" rx="4.0" ry="1.1" fill="#000"/>
<ellipse cx="1980.4" cy="267.3" rx="1.5" ry="1.8" fill="#000"/>
<ellipse cx="1336.7" cy="925.3" rx="0.6" ry="0.6" fill="#000"/>
<ellipse cx="1340.8" cy="919.6" rx="0.5" ry="0.5" fill="#000"/>
<ellipse cx="0" cy="0" rx="33.7" ry="28.2" transform="translate(1289.3,994.0) rotate(8)" fill="#000"/>
<rect x="1997.9" y="954.0" width="82.1" height="8.1" fill="#000"/>
<text transform="translate(1974.85,1009.50) scale(0.9936,1)" font-size="58.8">60 au</text>
</g>
<g id="frames" fill="none" stroke="#000" stroke-width="7.6">
<rect x="233.2" y="122" width="950" height="951.5"/>
<rect x="1204" y="122" width="950.3" height="951.5"/>
</g>
<path id="ticks" d="M416.9 125.8v8.7M416.9 1069.8v-8.7M746.2 125.8v8.7M746.2 1069.8v-8.7M1075.5 125.8v8.7M1075.5 1069.8v-8.7M1388.0 125.8v8.7M1388.0 1069.8v-8.7M1717.2 125.8v8.7M1717.2 1069.8v-8.7M2047.2 125.8v8.7M2047.2 1069.8v-8.7M237 208.0h8.7M1179.6 208.0h-8.7M1207.8 208.0h8.7M2150.6 208.0h-8.7M237 414.8h8.7M1179.6 414.8h-8.7M1207.8 414.8h8.7M2150.6 414.8h-8.7M237 621.5h8.7M1179.6 621.5h-8.7M1207.8 621.5h8.7M2150.6 621.5h-8.7M237 828.2h8.7M1179.6 828.2h-8.7M1207.8 828.2h8.7M2150.6 828.2h-8.7M237 1035.0h8.7M1179.6 1035.0h-8.7M1207.8 1035.0h8.7M2150.6 1035.0h-8.7" stroke="#000" stroke-width="6" fill="none"/>
<g id="labels">
<text transform="translate(219.20,40.30) scale(0.9630,1)" font-size="59.6">1</text>
<text transform="translate(460.97,40.30) scale(0.9630,1)" font-size="59.6">2</text>
<text transform="translate(702.65,40.30) scale(0.9630,1)" font-size="59.6">3</text>
<text transform="translate(945.55,40.30) scale(0.9630,1)" font-size="59.6">4</text>
<text transform="translate(1080.95,40.40) scale(1.0224,1)" font-size="57.4">mJy / beam</text>
<text transform="translate(1460.73,40.30) scale(0.9775,1)" font-size="59.6">20</text>
<text transform="translate(1762.15,40.30) scale(0.9789,1)" font-size="59.6">40</text>
<text transform="translate(2063.07,40.30) scale(0.9751,1)" font-size="59.6">60</text>
<text transform="translate(-1.56,225.40) scale(0.9622,1)" font-size="59.6">-37:07:35</text>
<text transform="translate(164.98,432.15) scale(0.9742,1)" font-size="59.6">36</text>
<text transform="translate(164.98,638.90) scale(0.9725,1)" font-size="59.6">37</text>
<text transform="translate(164.95,845.65) scale(0.9825,1)" font-size="59.6">38</text>
<text transform="translate(164.94,1052.40) scale(0.9870,1)" font-size="59.6">39</text>
<text transform="translate(280.23,1129.30) scale(0.9640,1)" font-size="59.6">19:02:58.80</text>
<text transform="translate(681.66,1129.30) scale(0.9555,1)" font-size="59.6">58.67</text>
<text transform="translate(1010.88,1129.30) scale(0.9480,1)" font-size="59.6">58.53</text>
<text transform="translate(1251.34,1129.30) scale(0.9636,1)" font-size="59.6">19:02:58.80</text>
<text transform="translate(1652.65,1129.30) scale(0.9563,1)" font-size="59.6">58.67</text>
<text transform="translate(1982.28,1129.30) scale(0.9488,1)" font-size="59.6">58.53</text>
<text transform="translate(1066.39,1210.80) scale(1.0129,1)" font-size="57.2">RA (ICRS)</text>
<text transform="translate(70.2,737.07) rotate(-90) scale(1.0159,1)" font-size="57.2">Dec (ICRS)</text>
</g>
</svg>
</body>
</html>
